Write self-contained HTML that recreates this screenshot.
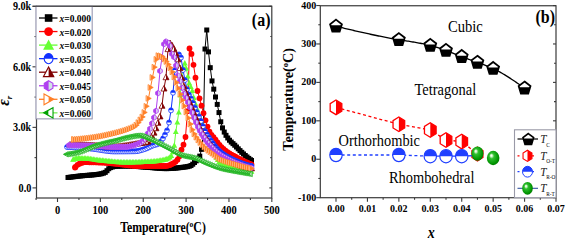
<!DOCTYPE html><html><head><meta charset="utf-8"><style>html,body{margin:0;padding:0;width:567px;height:240px;overflow:hidden;background:#fff}</style></head><body><svg width="567" height="240" viewBox="0 0 567 240" style="position:absolute;left:0;top:0">
<rect width="567" height="240" fill="#fff"/>
<polyline points="68.00,177.50 68.50,177.43 70.25,177.20 72.00,176.97 73.75,176.75 75.50,176.53 77.25,176.32 79.00,176.11 80.75,175.92 82.50,175.74 84.25,175.59 86.00,175.45 87.75,175.31 89.50,175.18 91.25,175.03 93.00,174.88 94.75,174.70 96.50,174.50 98.25,174.27 100.00,174.00 101.75,173.64 103.50,173.11 105.25,172.37 107.00,170.71 108.75,168.71 110.50,167.60 112.25,167.00 114.00,166.56 115.75,166.32 117.50,166.22 119.25,166.14 121.00,166.08 122.75,166.03 124.50,166.01 126.25,166.00 128.00,166.02 129.75,166.07 131.50,166.14 133.25,166.23 135.00,166.34 136.75,166.46 138.50,166.59 140.25,166.73 142.00,166.88 143.75,167.02 145.50,167.17 147.25,167.30 149.00,167.43 150.75,167.55 152.50,167.69 154.25,167.84 156.00,168.00 157.75,168.16 159.50,168.31 161.25,168.43 163.00,168.53 164.75,168.59 166.50,168.60 168.25,168.57 170.00,168.50 171.75,168.41 173.50,168.28 175.25,168.13 177.00,167.96 178.75,167.77 180.50,167.56 182.25,167.35 184.00,167.13 185.75,166.90 187.50,166.62 189.25,166.22 191.00,165.54 192.75,164.19 194.50,162.50 196.25,160.83 198.00,158.99 199.75,156.14 201.50,149.35 203.25,134.23 205.00,49.03 206.75,30.00 208.50,51.87 210.25,67.67 212.00,80.94 213.75,89.16 215.50,97.00 217.25,104.40 219.00,112.57 220.75,121.78 222.50,127.89 224.25,132.06 226.00,135.33 227.75,137.98 229.50,140.23 231.25,142.05 233.00,143.64 234.75,145.25 236.50,147.02 238.25,148.83 240.00,150.61 241.75,152.34 243.50,153.95 245.25,155.49 247.00,156.98 248.75,158.40 250.50,159.76 251.50,160.50" fill="none" stroke="#000000" stroke-width="1.0"/>
<rect x="65.50" y="175.00" width="5.00" height="5.00" fill="#000000"/><rect x="66.00" y="174.93" width="5.00" height="5.00" fill="#000000"/><rect x="67.75" y="174.70" width="5.00" height="5.00" fill="#000000"/><rect x="69.50" y="174.47" width="5.00" height="5.00" fill="#000000"/><rect x="71.25" y="174.25" width="5.00" height="5.00" fill="#000000"/><rect x="73.00" y="174.03" width="5.00" height="5.00" fill="#000000"/><rect x="74.75" y="173.82" width="5.00" height="5.00" fill="#000000"/><rect x="76.50" y="173.61" width="5.00" height="5.00" fill="#000000"/><rect x="78.25" y="173.42" width="5.00" height="5.00" fill="#000000"/><rect x="80.00" y="173.24" width="5.00" height="5.00" fill="#000000"/><rect x="81.75" y="173.09" width="5.00" height="5.00" fill="#000000"/><rect x="83.50" y="172.95" width="5.00" height="5.00" fill="#000000"/><rect x="85.25" y="172.81" width="5.00" height="5.00" fill="#000000"/><rect x="87.00" y="172.68" width="5.00" height="5.00" fill="#000000"/><rect x="88.75" y="172.53" width="5.00" height="5.00" fill="#000000"/><rect x="90.50" y="172.38" width="5.00" height="5.00" fill="#000000"/><rect x="92.25" y="172.20" width="5.00" height="5.00" fill="#000000"/><rect x="94.00" y="172.00" width="5.00" height="5.00" fill="#000000"/><rect x="95.75" y="171.77" width="5.00" height="5.00" fill="#000000"/><rect x="97.50" y="171.50" width="5.00" height="5.00" fill="#000000"/><rect x="99.25" y="171.14" width="5.00" height="5.00" fill="#000000"/><rect x="101.00" y="170.61" width="5.00" height="5.00" fill="#000000"/><rect x="102.75" y="169.87" width="5.00" height="5.00" fill="#000000"/><rect x="104.50" y="168.21" width="5.00" height="5.00" fill="#000000"/><rect x="106.25" y="166.21" width="5.00" height="5.00" fill="#000000"/><rect x="108.00" y="165.10" width="5.00" height="5.00" fill="#000000"/><rect x="109.75" y="164.50" width="5.00" height="5.00" fill="#000000"/><rect x="111.50" y="164.06" width="5.00" height="5.00" fill="#000000"/><rect x="113.25" y="163.82" width="5.00" height="5.00" fill="#000000"/><rect x="115.00" y="163.72" width="5.00" height="5.00" fill="#000000"/><rect x="116.75" y="163.64" width="5.00" height="5.00" fill="#000000"/><rect x="118.50" y="163.58" width="5.00" height="5.00" fill="#000000"/><rect x="120.25" y="163.53" width="5.00" height="5.00" fill="#000000"/><rect x="122.00" y="163.51" width="5.00" height="5.00" fill="#000000"/><rect x="123.75" y="163.50" width="5.00" height="5.00" fill="#000000"/><rect x="125.50" y="163.52" width="5.00" height="5.00" fill="#000000"/><rect x="127.25" y="163.57" width="5.00" height="5.00" fill="#000000"/><rect x="129.00" y="163.64" width="5.00" height="5.00" fill="#000000"/><rect x="130.75" y="163.73" width="5.00" height="5.00" fill="#000000"/><rect x="132.50" y="163.84" width="5.00" height="5.00" fill="#000000"/><rect x="134.25" y="163.96" width="5.00" height="5.00" fill="#000000"/><rect x="136.00" y="164.09" width="5.00" height="5.00" fill="#000000"/><rect x="137.75" y="164.23" width="5.00" height="5.00" fill="#000000"/><rect x="139.50" y="164.38" width="5.00" height="5.00" fill="#000000"/><rect x="141.25" y="164.52" width="5.00" height="5.00" fill="#000000"/><rect x="143.00" y="164.67" width="5.00" height="5.00" fill="#000000"/><rect x="144.75" y="164.80" width="5.00" height="5.00" fill="#000000"/><rect x="146.50" y="164.93" width="5.00" height="5.00" fill="#000000"/><rect x="148.25" y="165.05" width="5.00" height="5.00" fill="#000000"/><rect x="150.00" y="165.19" width="5.00" height="5.00" fill="#000000"/><rect x="151.75" y="165.34" width="5.00" height="5.00" fill="#000000"/><rect x="153.50" y="165.50" width="5.00" height="5.00" fill="#000000"/><rect x="155.25" y="165.66" width="5.00" height="5.00" fill="#000000"/><rect x="157.00" y="165.81" width="5.00" height="5.00" fill="#000000"/><rect x="158.75" y="165.93" width="5.00" height="5.00" fill="#000000"/><rect x="160.50" y="166.03" width="5.00" height="5.00" fill="#000000"/><rect x="162.25" y="166.09" width="5.00" height="5.00" fill="#000000"/><rect x="164.00" y="166.10" width="5.00" height="5.00" fill="#000000"/><rect x="165.75" y="166.07" width="5.00" height="5.00" fill="#000000"/><rect x="167.50" y="166.00" width="5.00" height="5.00" fill="#000000"/><rect x="169.25" y="165.91" width="5.00" height="5.00" fill="#000000"/><rect x="171.00" y="165.78" width="5.00" height="5.00" fill="#000000"/><rect x="172.75" y="165.63" width="5.00" height="5.00" fill="#000000"/><rect x="174.50" y="165.46" width="5.00" height="5.00" fill="#000000"/><rect x="176.25" y="165.27" width="5.00" height="5.00" fill="#000000"/><rect x="178.00" y="165.06" width="5.00" height="5.00" fill="#000000"/><rect x="179.75" y="164.85" width="5.00" height="5.00" fill="#000000"/><rect x="181.50" y="164.63" width="5.00" height="5.00" fill="#000000"/><rect x="183.25" y="164.40" width="5.00" height="5.00" fill="#000000"/><rect x="185.00" y="164.12" width="5.00" height="5.00" fill="#000000"/><rect x="186.75" y="163.72" width="5.00" height="5.00" fill="#000000"/><rect x="188.50" y="163.04" width="5.00" height="5.00" fill="#000000"/><rect x="190.25" y="161.69" width="5.00" height="5.00" fill="#000000"/><rect x="192.00" y="160.00" width="5.00" height="5.00" fill="#000000"/><rect x="193.75" y="158.33" width="5.00" height="5.00" fill="#000000"/><rect x="195.50" y="156.49" width="5.00" height="5.00" fill="#000000"/><rect x="197.25" y="153.64" width="5.00" height="5.00" fill="#000000"/><rect x="199.00" y="146.85" width="5.00" height="5.00" fill="#000000"/><rect x="200.75" y="131.73" width="5.00" height="5.00" fill="#000000"/><rect x="202.50" y="46.53" width="5.00" height="5.00" fill="#000000"/><rect x="204.25" y="27.50" width="5.00" height="5.00" fill="#000000"/><rect x="206.00" y="49.37" width="5.00" height="5.00" fill="#000000"/><rect x="207.75" y="65.17" width="5.00" height="5.00" fill="#000000"/><rect x="209.50" y="78.44" width="5.00" height="5.00" fill="#000000"/><rect x="211.25" y="86.66" width="5.00" height="5.00" fill="#000000"/><rect x="213.00" y="94.50" width="5.00" height="5.00" fill="#000000"/><rect x="214.75" y="101.90" width="5.00" height="5.00" fill="#000000"/><rect x="216.50" y="110.07" width="5.00" height="5.00" fill="#000000"/><rect x="218.25" y="119.28" width="5.00" height="5.00" fill="#000000"/><rect x="220.00" y="125.39" width="5.00" height="5.00" fill="#000000"/><rect x="221.75" y="129.56" width="5.00" height="5.00" fill="#000000"/><rect x="223.50" y="132.83" width="5.00" height="5.00" fill="#000000"/><rect x="225.25" y="135.48" width="5.00" height="5.00" fill="#000000"/><rect x="227.00" y="137.73" width="5.00" height="5.00" fill="#000000"/><rect x="228.75" y="139.55" width="5.00" height="5.00" fill="#000000"/><rect x="230.50" y="141.14" width="5.00" height="5.00" fill="#000000"/><rect x="232.25" y="142.75" width="5.00" height="5.00" fill="#000000"/><rect x="234.00" y="144.52" width="5.00" height="5.00" fill="#000000"/><rect x="235.75" y="146.33" width="5.00" height="5.00" fill="#000000"/><rect x="237.50" y="148.11" width="5.00" height="5.00" fill="#000000"/><rect x="239.25" y="149.84" width="5.00" height="5.00" fill="#000000"/><rect x="241.00" y="151.45" width="5.00" height="5.00" fill="#000000"/><rect x="242.75" y="152.99" width="5.00" height="5.00" fill="#000000"/><rect x="244.50" y="154.48" width="5.00" height="5.00" fill="#000000"/><rect x="246.25" y="155.90" width="5.00" height="5.00" fill="#000000"/><rect x="248.00" y="157.26" width="5.00" height="5.00" fill="#000000"/><rect x="249.00" y="158.00" width="5.00" height="5.00" fill="#000000"/>
<polyline points="75.00,167.50 75.50,166.90 77.50,164.82 79.50,163.74 81.50,162.89 83.50,162.34 85.50,162.20 87.50,162.21 89.50,162.23 91.50,162.27 93.50,162.31 95.50,162.36 97.50,162.42 99.50,162.48 101.50,162.56 103.50,162.68 105.50,162.83 107.50,163.00 109.50,163.19 111.50,163.37 113.50,163.54 115.50,163.74 117.50,163.96 119.50,164.20 121.50,164.45 123.50,164.71 125.50,164.96 127.50,165.20 129.50,165.43 131.50,165.63 133.50,165.79 135.50,165.91 137.50,165.98 139.50,166.00 141.50,166.00 143.50,166.00 145.50,166.00 147.50,166.00 149.50,166.00 151.50,166.00 153.50,166.00 155.50,166.00 157.50,166.00 159.50,166.00 161.50,166.00 163.50,166.00 165.50,166.00 167.50,165.82 169.50,165.14 171.50,164.23 173.50,163.23 175.50,161.82 177.50,159.69 179.50,156.13 181.50,149.67 183.50,144.73 185.50,137.00 187.50,111.17 189.50,48.50 191.50,53.88 193.50,64.81 195.50,77.65 197.50,91.00 199.50,98.28 201.50,105.70 203.50,113.22 205.50,120.34 207.50,126.61 209.50,131.70 211.50,134.78 213.50,137.17 215.50,139.67 217.50,142.41 219.50,144.95 221.50,147.04 223.50,148.93 225.50,150.63 227.50,152.15 229.50,153.48 231.50,154.64 233.50,155.71 235.50,156.76 237.50,157.81 239.50,158.84 241.50,159.85 243.50,160.84 245.50,161.80 247.50,162.73 249.50,163.63 251.50,164.50" fill="none" stroke="#ff0000" stroke-width="1.0"/>
<circle cx="75.00" cy="167.50" r="2.90" fill="#ff0000"/><circle cx="75.50" cy="166.90" r="2.90" fill="#ff0000"/><circle cx="77.50" cy="164.82" r="2.90" fill="#ff0000"/><circle cx="79.50" cy="163.74" r="2.90" fill="#ff0000"/><circle cx="81.50" cy="162.89" r="2.90" fill="#ff0000"/><circle cx="83.50" cy="162.34" r="2.90" fill="#ff0000"/><circle cx="85.50" cy="162.20" r="2.90" fill="#ff0000"/><circle cx="87.50" cy="162.21" r="2.90" fill="#ff0000"/><circle cx="89.50" cy="162.23" r="2.90" fill="#ff0000"/><circle cx="91.50" cy="162.27" r="2.90" fill="#ff0000"/><circle cx="93.50" cy="162.31" r="2.90" fill="#ff0000"/><circle cx="95.50" cy="162.36" r="2.90" fill="#ff0000"/><circle cx="97.50" cy="162.42" r="2.90" fill="#ff0000"/><circle cx="99.50" cy="162.48" r="2.90" fill="#ff0000"/><circle cx="101.50" cy="162.56" r="2.90" fill="#ff0000"/><circle cx="103.50" cy="162.68" r="2.90" fill="#ff0000"/><circle cx="105.50" cy="162.83" r="2.90" fill="#ff0000"/><circle cx="107.50" cy="163.00" r="2.90" fill="#ff0000"/><circle cx="109.50" cy="163.19" r="2.90" fill="#ff0000"/><circle cx="111.50" cy="163.37" r="2.90" fill="#ff0000"/><circle cx="113.50" cy="163.54" r="2.90" fill="#ff0000"/><circle cx="115.50" cy="163.74" r="2.90" fill="#ff0000"/><circle cx="117.50" cy="163.96" r="2.90" fill="#ff0000"/><circle cx="119.50" cy="164.20" r="2.90" fill="#ff0000"/><circle cx="121.50" cy="164.45" r="2.90" fill="#ff0000"/><circle cx="123.50" cy="164.71" r="2.90" fill="#ff0000"/><circle cx="125.50" cy="164.96" r="2.90" fill="#ff0000"/><circle cx="127.50" cy="165.20" r="2.90" fill="#ff0000"/><circle cx="129.50" cy="165.43" r="2.90" fill="#ff0000"/><circle cx="131.50" cy="165.63" r="2.90" fill="#ff0000"/><circle cx="133.50" cy="165.79" r="2.90" fill="#ff0000"/><circle cx="135.50" cy="165.91" r="2.90" fill="#ff0000"/><circle cx="137.50" cy="165.98" r="2.90" fill="#ff0000"/><circle cx="139.50" cy="166.00" r="2.90" fill="#ff0000"/><circle cx="141.50" cy="166.00" r="2.90" fill="#ff0000"/><circle cx="143.50" cy="166.00" r="2.90" fill="#ff0000"/><circle cx="145.50" cy="166.00" r="2.90" fill="#ff0000"/><circle cx="147.50" cy="166.00" r="2.90" fill="#ff0000"/><circle cx="149.50" cy="166.00" r="2.90" fill="#ff0000"/><circle cx="151.50" cy="166.00" r="2.90" fill="#ff0000"/><circle cx="153.50" cy="166.00" r="2.90" fill="#ff0000"/><circle cx="155.50" cy="166.00" r="2.90" fill="#ff0000"/><circle cx="157.50" cy="166.00" r="2.90" fill="#ff0000"/><circle cx="159.50" cy="166.00" r="2.90" fill="#ff0000"/><circle cx="161.50" cy="166.00" r="2.90" fill="#ff0000"/><circle cx="163.50" cy="166.00" r="2.90" fill="#ff0000"/><circle cx="165.50" cy="166.00" r="2.90" fill="#ff0000"/><circle cx="167.50" cy="165.82" r="2.90" fill="#ff0000"/><circle cx="169.50" cy="165.14" r="2.90" fill="#ff0000"/><circle cx="171.50" cy="164.23" r="2.90" fill="#ff0000"/><circle cx="173.50" cy="163.23" r="2.90" fill="#ff0000"/><circle cx="175.50" cy="161.82" r="2.90" fill="#ff0000"/><circle cx="177.50" cy="159.69" r="2.90" fill="#ff0000"/><circle cx="179.50" cy="156.13" r="2.90" fill="#ff0000"/><circle cx="181.50" cy="149.67" r="2.90" fill="#ff0000"/><circle cx="183.50" cy="144.73" r="2.90" fill="#ff0000"/><circle cx="185.50" cy="137.00" r="2.90" fill="#ff0000"/><circle cx="187.50" cy="111.17" r="2.90" fill="#ff0000"/><circle cx="189.50" cy="48.50" r="2.90" fill="#ff0000"/><circle cx="191.50" cy="53.88" r="2.90" fill="#ff0000"/><circle cx="193.50" cy="64.81" r="2.90" fill="#ff0000"/><circle cx="195.50" cy="77.65" r="2.90" fill="#ff0000"/><circle cx="197.50" cy="91.00" r="2.90" fill="#ff0000"/><circle cx="199.50" cy="98.28" r="2.90" fill="#ff0000"/><circle cx="201.50" cy="105.70" r="2.90" fill="#ff0000"/><circle cx="203.50" cy="113.22" r="2.90" fill="#ff0000"/><circle cx="205.50" cy="120.34" r="2.90" fill="#ff0000"/><circle cx="207.50" cy="126.61" r="2.90" fill="#ff0000"/><circle cx="209.50" cy="131.70" r="2.90" fill="#ff0000"/><circle cx="211.50" cy="134.78" r="2.90" fill="#ff0000"/><circle cx="213.50" cy="137.17" r="2.90" fill="#ff0000"/><circle cx="215.50" cy="139.67" r="2.90" fill="#ff0000"/><circle cx="217.50" cy="142.41" r="2.90" fill="#ff0000"/><circle cx="219.50" cy="144.95" r="2.90" fill="#ff0000"/><circle cx="221.50" cy="147.04" r="2.90" fill="#ff0000"/><circle cx="223.50" cy="148.93" r="2.90" fill="#ff0000"/><circle cx="225.50" cy="150.63" r="2.90" fill="#ff0000"/><circle cx="227.50" cy="152.15" r="2.90" fill="#ff0000"/><circle cx="229.50" cy="153.48" r="2.90" fill="#ff0000"/><circle cx="231.50" cy="154.64" r="2.90" fill="#ff0000"/><circle cx="233.50" cy="155.71" r="2.90" fill="#ff0000"/><circle cx="235.50" cy="156.76" r="2.90" fill="#ff0000"/><circle cx="237.50" cy="157.81" r="2.90" fill="#ff0000"/><circle cx="239.50" cy="158.84" r="2.90" fill="#ff0000"/><circle cx="241.50" cy="159.85" r="2.90" fill="#ff0000"/><circle cx="243.50" cy="160.84" r="2.90" fill="#ff0000"/><circle cx="245.50" cy="161.80" r="2.90" fill="#ff0000"/><circle cx="247.50" cy="162.73" r="2.90" fill="#ff0000"/><circle cx="249.50" cy="163.63" r="2.90" fill="#ff0000"/><circle cx="251.50" cy="164.50" r="2.90" fill="#ff0000"/>
<polyline points="73.00,159.30 73.80,159.00 75.30,158.48 76.80,158.11 78.30,158.00 79.80,158.02 81.30,158.06 82.80,158.12 84.30,158.19 85.80,158.26 87.30,158.35 88.80,158.48 90.30,158.66 91.80,158.86 93.30,159.08 94.80,159.31 96.30,159.53 97.80,159.74 99.30,159.93 100.80,160.08 102.30,160.23 103.80,160.39 105.30,160.54 106.80,160.70 108.30,160.86 109.80,161.01 111.30,161.16 112.80,161.30 114.30,161.43 115.80,161.56 117.30,161.67 118.80,161.77 120.30,161.85 121.80,161.92 123.30,161.96 124.80,161.99 126.30,162.00 127.80,162.00 129.30,161.98 130.80,161.97 132.30,161.94 133.80,161.91 135.30,161.88 136.80,161.84 138.30,161.79 139.80,161.74 141.30,161.69 142.80,161.63 144.30,161.57 145.80,161.50 147.30,161.43 148.80,161.36 150.30,161.28 151.80,161.19 153.30,161.08 154.80,160.95 156.30,160.78 157.80,160.60 159.30,160.38 160.80,160.13 162.30,159.85 163.80,159.53 165.30,159.18 166.80,158.76 168.30,158.11 169.80,157.11 171.30,155.61 172.80,151.84 174.30,145.25 175.80,131.58 177.30,122.04 178.80,112.07 180.30,94.67 181.80,76.54 183.30,67.21 184.80,63.00 186.30,68.38 187.80,76.15 189.30,82.97 190.80,86.58 192.30,90.55 193.80,97.50 195.30,103.23 196.80,108.23 198.30,112.82 199.80,117.16 201.30,121.40 202.80,125.36 204.30,129.19 205.80,133.13 207.30,137.23 208.80,141.18 210.30,144.65 211.80,147.98 213.30,151.28 214.80,154.42 216.30,157.25 217.80,159.63 219.30,161.41 220.80,162.55 222.30,163.46 223.80,164.23 225.30,164.88 226.80,165.45 228.30,165.96 229.80,166.44 231.30,166.90 232.80,167.36 234.30,167.81 235.80,168.24 237.30,168.66 238.80,169.06 240.30,169.44 241.80,169.80 243.30,170.13 244.80,170.42 246.30,170.69 247.80,170.91 249.30,171.10 250.80,171.25 251.50,171.30" fill="none" stroke="#66ff33" stroke-width="1.0"/>
<path d="M73.00,156.40L75.90,161.77L70.10,161.77Z" fill="#66ff33"/><path d="M73.80,156.10L76.70,161.47L70.90,161.47Z" fill="#66ff33"/><path d="M75.30,155.58L78.20,160.95L72.40,160.95Z" fill="#66ff33"/><path d="M76.80,155.21L79.70,160.57L73.90,160.57Z" fill="#66ff33"/><path d="M78.30,155.10L81.20,160.47L75.40,160.47Z" fill="#66ff33"/><path d="M79.80,155.12L82.70,160.48L76.90,160.48Z" fill="#66ff33"/><path d="M81.30,155.16L84.20,160.52L78.40,160.52Z" fill="#66ff33"/><path d="M82.80,155.22L85.70,160.58L79.90,160.58Z" fill="#66ff33"/><path d="M84.30,155.29L87.20,160.65L81.40,160.65Z" fill="#66ff33"/><path d="M85.80,155.36L88.70,160.73L82.90,160.73Z" fill="#66ff33"/><path d="M87.30,155.45L90.20,160.82L84.40,160.82Z" fill="#66ff33"/><path d="M88.80,155.58L91.70,160.95L85.90,160.95Z" fill="#66ff33"/><path d="M90.30,155.76L93.20,161.12L87.40,161.12Z" fill="#66ff33"/><path d="M91.80,155.96L94.70,161.32L88.90,161.32Z" fill="#66ff33"/><path d="M93.30,156.18L96.20,161.55L90.40,161.55Z" fill="#66ff33"/><path d="M94.80,156.41L97.70,161.78L91.90,161.78Z" fill="#66ff33"/><path d="M96.30,156.63L99.20,162.00L93.40,162.00Z" fill="#66ff33"/><path d="M97.80,156.84L100.70,162.21L94.90,162.21Z" fill="#66ff33"/><path d="M99.30,157.03L102.20,162.39L96.40,162.39Z" fill="#66ff33"/><path d="M100.80,157.18L103.70,162.54L97.90,162.54Z" fill="#66ff33"/><path d="M102.30,157.33L105.20,162.70L99.40,162.70Z" fill="#66ff33"/><path d="M103.80,157.49L106.70,162.85L100.90,162.85Z" fill="#66ff33"/><path d="M105.30,157.64L108.20,163.01L102.40,163.01Z" fill="#66ff33"/><path d="M106.80,157.80L109.70,163.17L103.90,163.17Z" fill="#66ff33"/><path d="M108.30,157.96L111.20,163.32L105.40,163.32Z" fill="#66ff33"/><path d="M109.80,158.11L112.70,163.48L106.90,163.48Z" fill="#66ff33"/><path d="M111.30,158.26L114.20,163.62L108.40,163.62Z" fill="#66ff33"/><path d="M112.80,158.40L115.70,163.77L109.90,163.77Z" fill="#66ff33"/><path d="M114.30,158.53L117.20,163.90L111.40,163.90Z" fill="#66ff33"/><path d="M115.80,158.66L118.70,164.02L112.90,164.02Z" fill="#66ff33"/><path d="M117.30,158.77L120.20,164.13L114.40,164.13Z" fill="#66ff33"/><path d="M118.80,158.87L121.70,164.23L115.90,164.23Z" fill="#66ff33"/><path d="M120.30,158.95L123.20,164.31L117.40,164.31Z" fill="#66ff33"/><path d="M121.80,159.02L124.70,164.38L118.90,164.38Z" fill="#66ff33"/><path d="M123.30,159.06L126.20,164.43L120.40,164.43Z" fill="#66ff33"/><path d="M124.80,159.09L127.70,164.46L121.90,164.46Z" fill="#66ff33"/><path d="M126.30,159.10L129.20,164.46L123.40,164.46Z" fill="#66ff33"/><path d="M127.80,159.10L130.70,164.46L124.90,164.46Z" fill="#66ff33"/><path d="M129.30,159.08L132.20,164.45L126.40,164.45Z" fill="#66ff33"/><path d="M130.80,159.07L133.70,164.43L127.90,164.43Z" fill="#66ff33"/><path d="M132.30,159.04L135.20,164.41L129.40,164.41Z" fill="#66ff33"/><path d="M133.80,159.01L136.70,164.38L130.90,164.38Z" fill="#66ff33"/><path d="M135.30,158.98L138.20,164.34L132.40,164.34Z" fill="#66ff33"/><path d="M136.80,158.94L139.70,164.30L133.90,164.30Z" fill="#66ff33"/><path d="M138.30,158.89L141.20,164.26L135.40,164.26Z" fill="#66ff33"/><path d="M139.80,158.84L142.70,164.21L136.90,164.21Z" fill="#66ff33"/><path d="M141.30,158.79L144.20,164.15L138.40,164.15Z" fill="#66ff33"/><path d="M142.80,158.73L145.70,164.10L139.90,164.10Z" fill="#66ff33"/><path d="M144.30,158.67L147.20,164.03L141.40,164.03Z" fill="#66ff33"/><path d="M145.80,158.60L148.70,163.97L142.90,163.97Z" fill="#66ff33"/><path d="M147.30,158.53L150.20,163.90L144.40,163.90Z" fill="#66ff33"/><path d="M148.80,158.46L151.70,163.83L145.90,163.83Z" fill="#66ff33"/><path d="M150.30,158.38L153.20,163.75L147.40,163.75Z" fill="#66ff33"/><path d="M151.80,158.29L154.70,163.66L148.90,163.66Z" fill="#66ff33"/><path d="M153.30,158.18L156.20,163.55L150.40,163.55Z" fill="#66ff33"/><path d="M154.80,158.05L157.70,163.41L151.90,163.41Z" fill="#66ff33"/><path d="M156.30,157.88L159.20,163.25L153.40,163.25Z" fill="#66ff33"/><path d="M157.80,157.70L160.70,163.06L154.90,163.06Z" fill="#66ff33"/><path d="M159.30,157.48L162.20,162.84L156.40,162.84Z" fill="#66ff33"/><path d="M160.80,157.23L163.70,162.59L157.90,162.59Z" fill="#66ff33"/><path d="M162.30,156.95L165.20,162.31L159.40,162.31Z" fill="#66ff33"/><path d="M163.80,156.63L166.70,162.00L160.90,162.00Z" fill="#66ff33"/><path d="M165.30,156.28L168.20,161.64L162.40,161.64Z" fill="#66ff33"/><path d="M166.80,155.86L169.70,161.23L163.90,161.23Z" fill="#66ff33"/><path d="M168.30,155.21L171.20,160.58L165.40,160.58Z" fill="#66ff33"/><path d="M169.80,154.21L172.70,159.58L166.90,159.58Z" fill="#66ff33"/><path d="M171.30,152.71L174.20,158.08L168.40,158.08Z" fill="#66ff33"/><path d="M172.80,148.94L175.70,154.31L169.90,154.31Z" fill="#66ff33"/><path d="M174.30,142.35L177.20,147.72L171.40,147.72Z" fill="#66ff33"/><path d="M175.80,128.68L178.70,134.05L172.90,134.05Z" fill="#66ff33"/><path d="M177.30,119.14L180.20,124.50L174.40,124.50Z" fill="#66ff33"/><path d="M178.80,109.17L181.70,114.54L175.90,114.54Z" fill="#66ff33"/><path d="M180.30,91.77L183.20,97.14L177.40,97.14Z" fill="#66ff33"/><path d="M181.80,73.64L184.70,79.01L178.90,79.01Z" fill="#66ff33"/><path d="M183.30,64.31L186.20,69.67L180.40,69.67Z" fill="#66ff33"/><path d="M184.80,60.10L187.70,65.47L181.90,65.47Z" fill="#66ff33"/><path d="M186.30,65.48L189.20,70.84L183.40,70.84Z" fill="#66ff33"/><path d="M187.80,73.25L190.70,78.62L184.90,78.62Z" fill="#66ff33"/><path d="M189.30,80.07L192.20,85.44L186.40,85.44Z" fill="#66ff33"/><path d="M190.80,83.68L193.70,89.05L187.90,89.05Z" fill="#66ff33"/><path d="M192.30,87.65L195.20,93.01L189.40,93.01Z" fill="#66ff33"/><path d="M193.80,94.60L196.70,99.96L190.90,99.96Z" fill="#66ff33"/><path d="M195.30,100.33L198.20,105.70L192.40,105.70Z" fill="#66ff33"/><path d="M196.80,105.33L199.70,110.70L193.90,110.70Z" fill="#66ff33"/><path d="M198.30,109.92L201.20,115.28L195.40,115.28Z" fill="#66ff33"/><path d="M199.80,114.26L202.70,119.62L196.90,119.62Z" fill="#66ff33"/><path d="M201.30,118.50L204.20,123.86L198.40,123.86Z" fill="#66ff33"/><path d="M202.80,122.46L205.70,127.83L199.90,127.83Z" fill="#66ff33"/><path d="M204.30,126.29L207.20,131.66L201.40,131.66Z" fill="#66ff33"/><path d="M205.80,130.23L208.70,135.60L202.90,135.60Z" fill="#66ff33"/><path d="M207.30,134.33L210.20,139.70L204.40,139.70Z" fill="#66ff33"/><path d="M208.80,138.28L211.70,143.64L205.90,143.64Z" fill="#66ff33"/><path d="M210.30,141.75L213.20,147.12L207.40,147.12Z" fill="#66ff33"/><path d="M211.80,145.08L214.70,150.44L208.90,150.44Z" fill="#66ff33"/><path d="M213.30,148.38L216.20,153.74L210.40,153.74Z" fill="#66ff33"/><path d="M214.80,151.52L217.70,156.88L211.90,156.88Z" fill="#66ff33"/><path d="M216.30,154.35L219.20,159.71L213.40,159.71Z" fill="#66ff33"/><path d="M217.80,156.73L220.70,162.09L214.90,162.09Z" fill="#66ff33"/><path d="M219.30,158.51L222.20,163.88L216.40,163.88Z" fill="#66ff33"/><path d="M220.80,159.65L223.70,165.02L217.90,165.02Z" fill="#66ff33"/><path d="M222.30,160.56L225.20,165.92L219.40,165.92Z" fill="#66ff33"/><path d="M223.80,161.33L226.70,166.69L220.90,166.69Z" fill="#66ff33"/><path d="M225.30,161.98L228.20,167.35L222.40,167.35Z" fill="#66ff33"/><path d="M226.80,162.55L229.70,167.92L223.90,167.92Z" fill="#66ff33"/><path d="M228.30,163.06L231.20,168.43L225.40,168.43Z" fill="#66ff33"/><path d="M229.80,163.54L232.70,168.90L226.90,168.90Z" fill="#66ff33"/><path d="M231.30,164.00L234.20,169.37L228.40,169.37Z" fill="#66ff33"/><path d="M232.80,164.46L235.70,169.83L229.90,169.83Z" fill="#66ff33"/><path d="M234.30,164.91L237.20,170.27L231.40,170.27Z" fill="#66ff33"/><path d="M235.80,165.34L238.70,170.71L232.90,170.71Z" fill="#66ff33"/><path d="M237.30,165.76L240.20,171.13L234.40,171.13Z" fill="#66ff33"/><path d="M238.80,166.16L241.70,171.53L235.90,171.53Z" fill="#66ff33"/><path d="M240.30,166.54L243.20,171.91L237.40,171.91Z" fill="#66ff33"/><path d="M241.80,166.90L244.70,172.26L238.90,172.26Z" fill="#66ff33"/><path d="M243.30,167.23L246.20,172.59L240.40,172.59Z" fill="#66ff33"/><path d="M244.80,167.52L247.70,172.89L241.90,172.89Z" fill="#66ff33"/><path d="M246.30,167.79L249.20,173.15L243.40,173.15Z" fill="#66ff33"/><path d="M247.80,168.01L250.70,173.38L244.90,173.38Z" fill="#66ff33"/><path d="M249.30,168.20L252.20,173.57L246.40,173.57Z" fill="#66ff33"/><path d="M250.80,168.35L253.70,173.71L247.90,173.71Z" fill="#66ff33"/><path d="M251.50,168.40L254.40,173.77L248.60,173.77Z" fill="#66ff33"/>
<polyline points="67.00,147.00 69.00,147.08 71.00,147.18 73.00,147.28 75.00,147.40 77.00,147.52 79.00,147.65 81.00,147.79 83.00,147.94 85.00,148.09 87.00,148.25 89.00,148.42 91.00,148.59 93.00,148.81 95.00,149.08 97.00,149.38 99.00,149.70 101.00,150.02 103.00,150.34 105.00,150.65 107.00,150.92 109.00,151.16 111.00,151.34 113.00,151.46 115.00,151.50 117.00,151.50 119.00,151.49 121.00,151.48 123.00,151.47 125.00,151.45 127.00,151.43 129.00,151.41 131.00,151.38 133.00,151.34 135.00,151.30 137.00,151.13 139.00,150.75 141.00,150.23 143.00,149.62 145.00,149.00 147.00,148.25 149.00,147.32 151.00,146.36 153.00,145.50 155.00,144.89 157.00,144.35 159.00,143.50 161.00,141.37 163.00,138.39 165.00,134.69 167.00,130.43 169.00,122.47 171.00,110.37 173.00,92.74 175.00,69.91 177.00,59.12 179.00,54.50 181.00,57.56 183.00,70.00 185.00,80.00 187.00,89.29 189.00,94.63 191.00,98.45 193.00,102.95 195.00,107.69 197.00,112.22 199.00,116.53 201.00,121.00 203.00,126.19 205.00,131.00 207.00,134.52 209.00,137.53 211.00,140.49 213.00,143.37 215.00,146.00 217.00,148.43 219.00,150.60 221.00,152.30 223.00,153.80 225.00,155.17 227.00,156.43 229.00,157.58 231.00,158.63 233.00,159.60 235.00,160.50 237.00,161.35 239.00,162.16 241.00,162.93 243.00,163.65 245.00,164.32 247.00,164.92 249.00,165.45 251.00,165.90 251.50,166.00" fill="none" stroke="#1030ff" stroke-width="1.0"/>
<ellipse cx="67.00" cy="147.00" rx="2.40" ry="2.52" fill="#fff" stroke="#1030ff" stroke-width="0.8"/><path d="M64.60,147.00A2.40,2.52 0 0 1 69.40,147.00Z" fill="#1030ff"/><ellipse cx="69.00" cy="147.08" rx="2.40" ry="2.52" fill="#fff" stroke="#1030ff" stroke-width="0.8"/><path d="M66.60,147.08A2.40,2.52 0 0 1 71.40,147.08Z" fill="#1030ff"/><ellipse cx="71.00" cy="147.18" rx="2.40" ry="2.52" fill="#fff" stroke="#1030ff" stroke-width="0.8"/><path d="M68.60,147.18A2.40,2.52 0 0 1 73.40,147.18Z" fill="#1030ff"/><ellipse cx="73.00" cy="147.28" rx="2.40" ry="2.52" fill="#fff" stroke="#1030ff" stroke-width="0.8"/><path d="M70.60,147.28A2.40,2.52 0 0 1 75.40,147.28Z" fill="#1030ff"/><ellipse cx="75.00" cy="147.40" rx="2.40" ry="2.52" fill="#fff" stroke="#1030ff" stroke-width="0.8"/><path d="M72.60,147.40A2.40,2.52 0 0 1 77.40,147.40Z" fill="#1030ff"/><ellipse cx="77.00" cy="147.52" rx="2.40" ry="2.52" fill="#fff" stroke="#1030ff" stroke-width="0.8"/><path d="M74.60,147.52A2.40,2.52 0 0 1 79.40,147.52Z" fill="#1030ff"/><ellipse cx="79.00" cy="147.65" rx="2.40" ry="2.52" fill="#fff" stroke="#1030ff" stroke-width="0.8"/><path d="M76.60,147.65A2.40,2.52 0 0 1 81.40,147.65Z" fill="#1030ff"/><ellipse cx="81.00" cy="147.79" rx="2.40" ry="2.52" fill="#fff" stroke="#1030ff" stroke-width="0.8"/><path d="M78.60,147.79A2.40,2.52 0 0 1 83.40,147.79Z" fill="#1030ff"/><ellipse cx="83.00" cy="147.94" rx="2.40" ry="2.52" fill="#fff" stroke="#1030ff" stroke-width="0.8"/><path d="M80.60,147.94A2.40,2.52 0 0 1 85.40,147.94Z" fill="#1030ff"/><ellipse cx="85.00" cy="148.09" rx="2.40" ry="2.52" fill="#fff" stroke="#1030ff" stroke-width="0.8"/><path d="M82.60,148.09A2.40,2.52 0 0 1 87.40,148.09Z" fill="#1030ff"/><ellipse cx="87.00" cy="148.25" rx="2.40" ry="2.52" fill="#fff" stroke="#1030ff" stroke-width="0.8"/><path d="M84.60,148.25A2.40,2.52 0 0 1 89.40,148.25Z" fill="#1030ff"/><ellipse cx="89.00" cy="148.42" rx="2.40" ry="2.52" fill="#fff" stroke="#1030ff" stroke-width="0.8"/><path d="M86.60,148.42A2.40,2.52 0 0 1 91.40,148.42Z" fill="#1030ff"/><ellipse cx="91.00" cy="148.59" rx="2.40" ry="2.52" fill="#fff" stroke="#1030ff" stroke-width="0.8"/><path d="M88.60,148.59A2.40,2.52 0 0 1 93.40,148.59Z" fill="#1030ff"/><ellipse cx="93.00" cy="148.81" rx="2.40" ry="2.52" fill="#fff" stroke="#1030ff" stroke-width="0.8"/><path d="M90.60,148.81A2.40,2.52 0 0 1 95.40,148.81Z" fill="#1030ff"/><ellipse cx="95.00" cy="149.08" rx="2.40" ry="2.52" fill="#fff" stroke="#1030ff" stroke-width="0.8"/><path d="M92.60,149.08A2.40,2.52 0 0 1 97.40,149.08Z" fill="#1030ff"/><ellipse cx="97.00" cy="149.38" rx="2.40" ry="2.52" fill="#fff" stroke="#1030ff" stroke-width="0.8"/><path d="M94.60,149.38A2.40,2.52 0 0 1 99.40,149.38Z" fill="#1030ff"/><ellipse cx="99.00" cy="149.70" rx="2.40" ry="2.52" fill="#fff" stroke="#1030ff" stroke-width="0.8"/><path d="M96.60,149.70A2.40,2.52 0 0 1 101.40,149.70Z" fill="#1030ff"/><ellipse cx="101.00" cy="150.02" rx="2.40" ry="2.52" fill="#fff" stroke="#1030ff" stroke-width="0.8"/><path d="M98.60,150.02A2.40,2.52 0 0 1 103.40,150.02Z" fill="#1030ff"/><ellipse cx="103.00" cy="150.34" rx="2.40" ry="2.52" fill="#fff" stroke="#1030ff" stroke-width="0.8"/><path d="M100.60,150.34A2.40,2.52 0 0 1 105.40,150.34Z" fill="#1030ff"/><ellipse cx="105.00" cy="150.65" rx="2.40" ry="2.52" fill="#fff" stroke="#1030ff" stroke-width="0.8"/><path d="M102.60,150.65A2.40,2.52 0 0 1 107.40,150.65Z" fill="#1030ff"/><ellipse cx="107.00" cy="150.92" rx="2.40" ry="2.52" fill="#fff" stroke="#1030ff" stroke-width="0.8"/><path d="M104.60,150.92A2.40,2.52 0 0 1 109.40,150.92Z" fill="#1030ff"/><ellipse cx="109.00" cy="151.16" rx="2.40" ry="2.52" fill="#fff" stroke="#1030ff" stroke-width="0.8"/><path d="M106.60,151.16A2.40,2.52 0 0 1 111.40,151.16Z" fill="#1030ff"/><ellipse cx="111.00" cy="151.34" rx="2.40" ry="2.52" fill="#fff" stroke="#1030ff" stroke-width="0.8"/><path d="M108.60,151.34A2.40,2.52 0 0 1 113.40,151.34Z" fill="#1030ff"/><ellipse cx="113.00" cy="151.46" rx="2.40" ry="2.52" fill="#fff" stroke="#1030ff" stroke-width="0.8"/><path d="M110.60,151.46A2.40,2.52 0 0 1 115.40,151.46Z" fill="#1030ff"/><ellipse cx="115.00" cy="151.50" rx="2.40" ry="2.52" fill="#fff" stroke="#1030ff" stroke-width="0.8"/><path d="M112.60,151.50A2.40,2.52 0 0 1 117.40,151.50Z" fill="#1030ff"/><ellipse cx="117.00" cy="151.50" rx="2.40" ry="2.52" fill="#fff" stroke="#1030ff" stroke-width="0.8"/><path d="M114.60,151.50A2.40,2.52 0 0 1 119.40,151.50Z" fill="#1030ff"/><ellipse cx="119.00" cy="151.49" rx="2.40" ry="2.52" fill="#fff" stroke="#1030ff" stroke-width="0.8"/><path d="M116.60,151.49A2.40,2.52 0 0 1 121.40,151.49Z" fill="#1030ff"/><ellipse cx="121.00" cy="151.48" rx="2.40" ry="2.52" fill="#fff" stroke="#1030ff" stroke-width="0.8"/><path d="M118.60,151.48A2.40,2.52 0 0 1 123.40,151.48Z" fill="#1030ff"/><ellipse cx="123.00" cy="151.47" rx="2.40" ry="2.52" fill="#fff" stroke="#1030ff" stroke-width="0.8"/><path d="M120.60,151.47A2.40,2.52 0 0 1 125.40,151.47Z" fill="#1030ff"/><ellipse cx="125.00" cy="151.45" rx="2.40" ry="2.52" fill="#fff" stroke="#1030ff" stroke-width="0.8"/><path d="M122.60,151.45A2.40,2.52 0 0 1 127.40,151.45Z" fill="#1030ff"/><ellipse cx="127.00" cy="151.43" rx="2.40" ry="2.52" fill="#fff" stroke="#1030ff" stroke-width="0.8"/><path d="M124.60,151.43A2.40,2.52 0 0 1 129.40,151.43Z" fill="#1030ff"/><ellipse cx="129.00" cy="151.41" rx="2.40" ry="2.52" fill="#fff" stroke="#1030ff" stroke-width="0.8"/><path d="M126.60,151.41A2.40,2.52 0 0 1 131.40,151.41Z" fill="#1030ff"/><ellipse cx="131.00" cy="151.38" rx="2.40" ry="2.52" fill="#fff" stroke="#1030ff" stroke-width="0.8"/><path d="M128.60,151.38A2.40,2.52 0 0 1 133.40,151.38Z" fill="#1030ff"/><ellipse cx="133.00" cy="151.34" rx="2.40" ry="2.52" fill="#fff" stroke="#1030ff" stroke-width="0.8"/><path d="M130.60,151.34A2.40,2.52 0 0 1 135.40,151.34Z" fill="#1030ff"/><ellipse cx="135.00" cy="151.30" rx="2.40" ry="2.52" fill="#fff" stroke="#1030ff" stroke-width="0.8"/><path d="M132.60,151.30A2.40,2.52 0 0 1 137.40,151.30Z" fill="#1030ff"/><ellipse cx="137.00" cy="151.13" rx="2.40" ry="2.52" fill="#fff" stroke="#1030ff" stroke-width="0.8"/><path d="M134.60,151.13A2.40,2.52 0 0 1 139.40,151.13Z" fill="#1030ff"/><ellipse cx="139.00" cy="150.75" rx="2.40" ry="2.52" fill="#fff" stroke="#1030ff" stroke-width="0.8"/><path d="M136.60,150.75A2.40,2.52 0 0 1 141.40,150.75Z" fill="#1030ff"/><ellipse cx="141.00" cy="150.23" rx="2.40" ry="2.52" fill="#fff" stroke="#1030ff" stroke-width="0.8"/><path d="M138.60,150.23A2.40,2.52 0 0 1 143.40,150.23Z" fill="#1030ff"/><ellipse cx="143.00" cy="149.62" rx="2.40" ry="2.52" fill="#fff" stroke="#1030ff" stroke-width="0.8"/><path d="M140.60,149.62A2.40,2.52 0 0 1 145.40,149.62Z" fill="#1030ff"/><ellipse cx="145.00" cy="149.00" rx="2.40" ry="2.52" fill="#fff" stroke="#1030ff" stroke-width="0.8"/><path d="M142.60,149.00A2.40,2.52 0 0 1 147.40,149.00Z" fill="#1030ff"/><ellipse cx="147.00" cy="148.25" rx="2.40" ry="2.52" fill="#fff" stroke="#1030ff" stroke-width="0.8"/><path d="M144.60,148.25A2.40,2.52 0 0 1 149.40,148.25Z" fill="#1030ff"/><ellipse cx="149.00" cy="147.32" rx="2.40" ry="2.52" fill="#fff" stroke="#1030ff" stroke-width="0.8"/><path d="M146.60,147.32A2.40,2.52 0 0 1 151.40,147.32Z" fill="#1030ff"/><ellipse cx="151.00" cy="146.36" rx="2.40" ry="2.52" fill="#fff" stroke="#1030ff" stroke-width="0.8"/><path d="M148.60,146.36A2.40,2.52 0 0 1 153.40,146.36Z" fill="#1030ff"/><ellipse cx="153.00" cy="145.50" rx="2.40" ry="2.52" fill="#fff" stroke="#1030ff" stroke-width="0.8"/><path d="M150.60,145.50A2.40,2.52 0 0 1 155.40,145.50Z" fill="#1030ff"/><ellipse cx="155.00" cy="144.89" rx="2.40" ry="2.52" fill="#fff" stroke="#1030ff" stroke-width="0.8"/><path d="M152.60,144.89A2.40,2.52 0 0 1 157.40,144.89Z" fill="#1030ff"/><ellipse cx="157.00" cy="144.35" rx="2.40" ry="2.52" fill="#fff" stroke="#1030ff" stroke-width="0.8"/><path d="M154.60,144.35A2.40,2.52 0 0 1 159.40,144.35Z" fill="#1030ff"/><ellipse cx="159.00" cy="143.50" rx="2.40" ry="2.52" fill="#fff" stroke="#1030ff" stroke-width="0.8"/><path d="M156.60,143.50A2.40,2.52 0 0 1 161.40,143.50Z" fill="#1030ff"/><ellipse cx="161.00" cy="141.37" rx="2.40" ry="2.52" fill="#fff" stroke="#1030ff" stroke-width="0.8"/><path d="M158.60,141.37A2.40,2.52 0 0 1 163.40,141.37Z" fill="#1030ff"/><ellipse cx="163.00" cy="138.39" rx="2.40" ry="2.52" fill="#fff" stroke="#1030ff" stroke-width="0.8"/><path d="M160.60,138.39A2.40,2.52 0 0 1 165.40,138.39Z" fill="#1030ff"/><ellipse cx="165.00" cy="134.69" rx="2.40" ry="2.52" fill="#fff" stroke="#1030ff" stroke-width="0.8"/><path d="M162.60,134.69A2.40,2.52 0 0 1 167.40,134.69Z" fill="#1030ff"/><ellipse cx="167.00" cy="130.43" rx="2.40" ry="2.52" fill="#fff" stroke="#1030ff" stroke-width="0.8"/><path d="M164.60,130.43A2.40,2.52 0 0 1 169.40,130.43Z" fill="#1030ff"/><ellipse cx="169.00" cy="122.47" rx="2.40" ry="2.52" fill="#fff" stroke="#1030ff" stroke-width="0.8"/><path d="M166.60,122.47A2.40,2.52 0 0 1 171.40,122.47Z" fill="#1030ff"/><ellipse cx="171.00" cy="110.37" rx="2.40" ry="2.52" fill="#fff" stroke="#1030ff" stroke-width="0.8"/><path d="M168.60,110.37A2.40,2.52 0 0 1 173.40,110.37Z" fill="#1030ff"/><ellipse cx="173.00" cy="92.74" rx="2.40" ry="2.52" fill="#fff" stroke="#1030ff" stroke-width="0.8"/><path d="M170.60,92.74A2.40,2.52 0 0 1 175.40,92.74Z" fill="#1030ff"/><ellipse cx="175.00" cy="69.91" rx="2.40" ry="2.52" fill="#fff" stroke="#1030ff" stroke-width="0.8"/><path d="M172.60,69.91A2.40,2.52 0 0 1 177.40,69.91Z" fill="#1030ff"/><ellipse cx="177.00" cy="59.12" rx="2.40" ry="2.52" fill="#fff" stroke="#1030ff" stroke-width="0.8"/><path d="M174.60,59.12A2.40,2.52 0 0 1 179.40,59.12Z" fill="#1030ff"/><ellipse cx="179.00" cy="54.50" rx="2.40" ry="2.52" fill="#fff" stroke="#1030ff" stroke-width="0.8"/><path d="M176.60,54.50A2.40,2.52 0 0 1 181.40,54.50Z" fill="#1030ff"/><ellipse cx="181.00" cy="57.56" rx="2.40" ry="2.52" fill="#fff" stroke="#1030ff" stroke-width="0.8"/><path d="M178.60,57.56A2.40,2.52 0 0 1 183.40,57.56Z" fill="#1030ff"/><ellipse cx="183.00" cy="70.00" rx="2.40" ry="2.52" fill="#fff" stroke="#1030ff" stroke-width="0.8"/><path d="M180.60,70.00A2.40,2.52 0 0 1 185.40,70.00Z" fill="#1030ff"/><ellipse cx="185.00" cy="80.00" rx="2.40" ry="2.52" fill="#fff" stroke="#1030ff" stroke-width="0.8"/><path d="M182.60,80.00A2.40,2.52 0 0 1 187.40,80.00Z" fill="#1030ff"/><ellipse cx="187.00" cy="89.29" rx="2.40" ry="2.52" fill="#fff" stroke="#1030ff" stroke-width="0.8"/><path d="M184.60,89.29A2.40,2.52 0 0 1 189.40,89.29Z" fill="#1030ff"/><ellipse cx="189.00" cy="94.63" rx="2.40" ry="2.52" fill="#fff" stroke="#1030ff" stroke-width="0.8"/><path d="M186.60,94.63A2.40,2.52 0 0 1 191.40,94.63Z" fill="#1030ff"/><ellipse cx="191.00" cy="98.45" rx="2.40" ry="2.52" fill="#fff" stroke="#1030ff" stroke-width="0.8"/><path d="M188.60,98.45A2.40,2.52 0 0 1 193.40,98.45Z" fill="#1030ff"/><ellipse cx="193.00" cy="102.95" rx="2.40" ry="2.52" fill="#fff" stroke="#1030ff" stroke-width="0.8"/><path d="M190.60,102.95A2.40,2.52 0 0 1 195.40,102.95Z" fill="#1030ff"/><ellipse cx="195.00" cy="107.69" rx="2.40" ry="2.52" fill="#fff" stroke="#1030ff" stroke-width="0.8"/><path d="M192.60,107.69A2.40,2.52 0 0 1 197.40,107.69Z" fill="#1030ff"/><ellipse cx="197.00" cy="112.22" rx="2.40" ry="2.52" fill="#fff" stroke="#1030ff" stroke-width="0.8"/><path d="M194.60,112.22A2.40,2.52 0 0 1 199.40,112.22Z" fill="#1030ff"/><ellipse cx="199.00" cy="116.53" rx="2.40" ry="2.52" fill="#fff" stroke="#1030ff" stroke-width="0.8"/><path d="M196.60,116.53A2.40,2.52 0 0 1 201.40,116.53Z" fill="#1030ff"/><ellipse cx="201.00" cy="121.00" rx="2.40" ry="2.52" fill="#fff" stroke="#1030ff" stroke-width="0.8"/><path d="M198.60,121.00A2.40,2.52 0 0 1 203.40,121.00Z" fill="#1030ff"/><ellipse cx="203.00" cy="126.19" rx="2.40" ry="2.52" fill="#fff" stroke="#1030ff" stroke-width="0.8"/><path d="M200.60,126.19A2.40,2.52 0 0 1 205.40,126.19Z" fill="#1030ff"/><ellipse cx="205.00" cy="131.00" rx="2.40" ry="2.52" fill="#fff" stroke="#1030ff" stroke-width="0.8"/><path d="M202.60,131.00A2.40,2.52 0 0 1 207.40,131.00Z" fill="#1030ff"/><ellipse cx="207.00" cy="134.52" rx="2.40" ry="2.52" fill="#fff" stroke="#1030ff" stroke-width="0.8"/><path d="M204.60,134.52A2.40,2.52 0 0 1 209.40,134.52Z" fill="#1030ff"/><ellipse cx="209.00" cy="137.53" rx="2.40" ry="2.52" fill="#fff" stroke="#1030ff" stroke-width="0.8"/><path d="M206.60,137.53A2.40,2.52 0 0 1 211.40,137.53Z" fill="#1030ff"/><ellipse cx="211.00" cy="140.49" rx="2.40" ry="2.52" fill="#fff" stroke="#1030ff" stroke-width="0.8"/><path d="M208.60,140.49A2.40,2.52 0 0 1 213.40,140.49Z" fill="#1030ff"/><ellipse cx="213.00" cy="143.37" rx="2.40" ry="2.52" fill="#fff" stroke="#1030ff" stroke-width="0.8"/><path d="M210.60,143.37A2.40,2.52 0 0 1 215.40,143.37Z" fill="#1030ff"/><ellipse cx="215.00" cy="146.00" rx="2.40" ry="2.52" fill="#fff" stroke="#1030ff" stroke-width="0.8"/><path d="M212.60,146.00A2.40,2.52 0 0 1 217.40,146.00Z" fill="#1030ff"/><ellipse cx="217.00" cy="148.43" rx="2.40" ry="2.52" fill="#fff" stroke="#1030ff" stroke-width="0.8"/><path d="M214.60,148.43A2.40,2.52 0 0 1 219.40,148.43Z" fill="#1030ff"/><ellipse cx="219.00" cy="150.60" rx="2.40" ry="2.52" fill="#fff" stroke="#1030ff" stroke-width="0.8"/><path d="M216.60,150.60A2.40,2.52 0 0 1 221.40,150.60Z" fill="#1030ff"/><ellipse cx="221.00" cy="152.30" rx="2.40" ry="2.52" fill="#fff" stroke="#1030ff" stroke-width="0.8"/><path d="M218.60,152.30A2.40,2.52 0 0 1 223.40,152.30Z" fill="#1030ff"/><ellipse cx="223.00" cy="153.80" rx="2.40" ry="2.52" fill="#fff" stroke="#1030ff" stroke-width="0.8"/><path d="M220.60,153.80A2.40,2.52 0 0 1 225.40,153.80Z" fill="#1030ff"/><ellipse cx="225.00" cy="155.17" rx="2.40" ry="2.52" fill="#fff" stroke="#1030ff" stroke-width="0.8"/><path d="M222.60,155.17A2.40,2.52 0 0 1 227.40,155.17Z" fill="#1030ff"/><ellipse cx="227.00" cy="156.43" rx="2.40" ry="2.52" fill="#fff" stroke="#1030ff" stroke-width="0.8"/><path d="M224.60,156.43A2.40,2.52 0 0 1 229.40,156.43Z" fill="#1030ff"/><ellipse cx="229.00" cy="157.58" rx="2.40" ry="2.52" fill="#fff" stroke="#1030ff" stroke-width="0.8"/><path d="M226.60,157.58A2.40,2.52 0 0 1 231.40,157.58Z" fill="#1030ff"/><ellipse cx="231.00" cy="158.63" rx="2.40" ry="2.52" fill="#fff" stroke="#1030ff" stroke-width="0.8"/><path d="M228.60,158.63A2.40,2.52 0 0 1 233.40,158.63Z" fill="#1030ff"/><ellipse cx="233.00" cy="159.60" rx="2.40" ry="2.52" fill="#fff" stroke="#1030ff" stroke-width="0.8"/><path d="M230.60,159.60A2.40,2.52 0 0 1 235.40,159.60Z" fill="#1030ff"/><ellipse cx="235.00" cy="160.50" rx="2.40" ry="2.52" fill="#fff" stroke="#1030ff" stroke-width="0.8"/><path d="M232.60,160.50A2.40,2.52 0 0 1 237.40,160.50Z" fill="#1030ff"/><ellipse cx="237.00" cy="161.35" rx="2.40" ry="2.52" fill="#fff" stroke="#1030ff" stroke-width="0.8"/><path d="M234.60,161.35A2.40,2.52 0 0 1 239.40,161.35Z" fill="#1030ff"/><ellipse cx="239.00" cy="162.16" rx="2.40" ry="2.52" fill="#fff" stroke="#1030ff" stroke-width="0.8"/><path d="M236.60,162.16A2.40,2.52 0 0 1 241.40,162.16Z" fill="#1030ff"/><ellipse cx="241.00" cy="162.93" rx="2.40" ry="2.52" fill="#fff" stroke="#1030ff" stroke-width="0.8"/><path d="M238.60,162.93A2.40,2.52 0 0 1 243.40,162.93Z" fill="#1030ff"/><ellipse cx="243.00" cy="163.65" rx="2.40" ry="2.52" fill="#fff" stroke="#1030ff" stroke-width="0.8"/><path d="M240.60,163.65A2.40,2.52 0 0 1 245.40,163.65Z" fill="#1030ff"/><ellipse cx="245.00" cy="164.32" rx="2.40" ry="2.52" fill="#fff" stroke="#1030ff" stroke-width="0.8"/><path d="M242.60,164.32A2.40,2.52 0 0 1 247.40,164.32Z" fill="#1030ff"/><ellipse cx="247.00" cy="164.92" rx="2.40" ry="2.52" fill="#fff" stroke="#1030ff" stroke-width="0.8"/><path d="M244.60,164.92A2.40,2.52 0 0 1 249.40,164.92Z" fill="#1030ff"/><ellipse cx="249.00" cy="165.45" rx="2.40" ry="2.52" fill="#fff" stroke="#1030ff" stroke-width="0.8"/><path d="M246.60,165.45A2.40,2.52 0 0 1 251.40,165.45Z" fill="#1030ff"/><ellipse cx="251.00" cy="165.90" rx="2.40" ry="2.52" fill="#fff" stroke="#1030ff" stroke-width="0.8"/><path d="M248.60,165.90A2.40,2.52 0 0 1 253.40,165.90Z" fill="#1030ff"/><ellipse cx="251.50" cy="166.00" rx="2.40" ry="2.52" fill="#fff" stroke="#1030ff" stroke-width="0.8"/><path d="M249.10,166.00A2.40,2.52 0 0 1 253.90,166.00Z" fill="#1030ff"/>
<polyline points="70.00,144.50 72.00,144.52 74.00,144.55 76.00,144.58 78.00,144.63 80.00,144.68 82.00,144.73 84.00,144.79 86.00,144.86 88.00,144.93 90.00,145.00 92.00,145.09 94.00,145.22 96.00,145.37 98.00,145.54 100.00,145.72 102.00,145.90 104.00,146.07 106.00,146.22 108.00,146.35 110.00,146.44 112.00,146.49 114.00,146.49 116.00,146.43 118.00,146.30 120.00,146.13 122.00,145.91 124.00,145.65 126.00,145.36 128.00,145.05 130.00,144.71 132.00,144.37 134.00,144.02 136.00,143.67 138.00,143.33 140.00,143.00 142.00,142.72 144.00,142.45 146.00,142.08 148.00,141.50 150.00,139.35 152.00,136.00 154.00,132.59 156.00,128.18 158.00,122.70 160.00,116.36 162.00,105.69 164.00,88.47 166.00,77.16 168.00,49.08 170.00,43.00 172.00,45.24 174.00,48.83 176.00,53.41 178.00,59.30 180.00,68.00 182.00,78.00 184.00,86.27 186.00,92.47 188.00,97.57 190.00,102.50 192.00,107.59 194.00,112.60 196.00,117.55 198.00,122.52 200.00,127.62 202.00,132.00 204.00,135.30 206.00,138.13 208.00,140.87 210.00,143.51 212.00,146.04 214.00,148.50 216.00,151.07 218.00,153.57 220.00,155.50 222.00,156.89 224.00,158.11 226.00,159.18 228.00,160.14 230.00,161.01 232.00,161.82 234.00,162.61 236.00,163.39 238.00,164.15 240.00,164.88 242.00,165.57 244.00,166.23 246.00,166.85 248.00,167.42 250.00,167.94 251.50,168.30" fill="none" stroke="#800000" stroke-width="1.0"/>
<path d="M70.00,141.50L73.00,147.05L67.00,147.05Z" fill="#fff" stroke="#800000" stroke-width="0.8" stroke-linejoin="miter"/><path d="M70.00,141.50L73.00,147.05L70.00,147.05L70.00,141.50Z" fill="#800000"/><path d="M72.00,141.52L75.00,147.07L69.00,147.07Z" fill="#fff" stroke="#800000" stroke-width="0.8" stroke-linejoin="miter"/><path d="M72.00,141.52L75.00,147.07L72.00,147.07L72.00,141.52Z" fill="#800000"/><path d="M74.00,141.55L77.00,147.10L71.00,147.10Z" fill="#fff" stroke="#800000" stroke-width="0.8" stroke-linejoin="miter"/><path d="M74.00,141.55L77.00,147.10L74.00,147.10L74.00,141.55Z" fill="#800000"/><path d="M76.00,141.58L79.00,147.13L73.00,147.13Z" fill="#fff" stroke="#800000" stroke-width="0.8" stroke-linejoin="miter"/><path d="M76.00,141.58L79.00,147.13L76.00,147.13L76.00,141.58Z" fill="#800000"/><path d="M78.00,141.63L81.00,147.18L75.00,147.18Z" fill="#fff" stroke="#800000" stroke-width="0.8" stroke-linejoin="miter"/><path d="M78.00,141.63L81.00,147.18L78.00,147.18L78.00,141.63Z" fill="#800000"/><path d="M80.00,141.68L83.00,147.23L77.00,147.23Z" fill="#fff" stroke="#800000" stroke-width="0.8" stroke-linejoin="miter"/><path d="M80.00,141.68L83.00,147.23L80.00,147.23L80.00,141.68Z" fill="#800000"/><path d="M82.00,141.73L85.00,147.28L79.00,147.28Z" fill="#fff" stroke="#800000" stroke-width="0.8" stroke-linejoin="miter"/><path d="M82.00,141.73L85.00,147.28L82.00,147.28L82.00,141.73Z" fill="#800000"/><path d="M84.00,141.79L87.00,147.34L81.00,147.34Z" fill="#fff" stroke="#800000" stroke-width="0.8" stroke-linejoin="miter"/><path d="M84.00,141.79L87.00,147.34L84.00,147.34L84.00,141.79Z" fill="#800000"/><path d="M86.00,141.86L89.00,147.41L83.00,147.41Z" fill="#fff" stroke="#800000" stroke-width="0.8" stroke-linejoin="miter"/><path d="M86.00,141.86L89.00,147.41L86.00,147.41L86.00,141.86Z" fill="#800000"/><path d="M88.00,141.93L91.00,147.48L85.00,147.48Z" fill="#fff" stroke="#800000" stroke-width="0.8" stroke-linejoin="miter"/><path d="M88.00,141.93L91.00,147.48L88.00,147.48L88.00,141.93Z" fill="#800000"/><path d="M90.00,142.00L93.00,147.55L87.00,147.55Z" fill="#fff" stroke="#800000" stroke-width="0.8" stroke-linejoin="miter"/><path d="M90.00,142.00L93.00,147.55L90.00,147.55L90.00,142.00Z" fill="#800000"/><path d="M92.00,142.09L95.00,147.64L89.00,147.64Z" fill="#fff" stroke="#800000" stroke-width="0.8" stroke-linejoin="miter"/><path d="M92.00,142.09L95.00,147.64L92.00,147.64L92.00,142.09Z" fill="#800000"/><path d="M94.00,142.22L97.00,147.77L91.00,147.77Z" fill="#fff" stroke="#800000" stroke-width="0.8" stroke-linejoin="miter"/><path d="M94.00,142.22L97.00,147.77L94.00,147.77L94.00,142.22Z" fill="#800000"/><path d="M96.00,142.37L99.00,147.92L93.00,147.92Z" fill="#fff" stroke="#800000" stroke-width="0.8" stroke-linejoin="miter"/><path d="M96.00,142.37L99.00,147.92L96.00,147.92L96.00,142.37Z" fill="#800000"/><path d="M98.00,142.54L101.00,148.09L95.00,148.09Z" fill="#fff" stroke="#800000" stroke-width="0.8" stroke-linejoin="miter"/><path d="M98.00,142.54L101.00,148.09L98.00,148.09L98.00,142.54Z" fill="#800000"/><path d="M100.00,142.72L103.00,148.27L97.00,148.27Z" fill="#fff" stroke="#800000" stroke-width="0.8" stroke-linejoin="miter"/><path d="M100.00,142.72L103.00,148.27L100.00,148.27L100.00,142.72Z" fill="#800000"/><path d="M102.00,142.90L105.00,148.45L99.00,148.45Z" fill="#fff" stroke="#800000" stroke-width="0.8" stroke-linejoin="miter"/><path d="M102.00,142.90L105.00,148.45L102.00,148.45L102.00,142.90Z" fill="#800000"/><path d="M104.00,143.07L107.00,148.62L101.00,148.62Z" fill="#fff" stroke="#800000" stroke-width="0.8" stroke-linejoin="miter"/><path d="M104.00,143.07L107.00,148.62L104.00,148.62L104.00,143.07Z" fill="#800000"/><path d="M106.00,143.22L109.00,148.77L103.00,148.77Z" fill="#fff" stroke="#800000" stroke-width="0.8" stroke-linejoin="miter"/><path d="M106.00,143.22L109.00,148.77L106.00,148.77L106.00,143.22Z" fill="#800000"/><path d="M108.00,143.35L111.00,148.90L105.00,148.90Z" fill="#fff" stroke="#800000" stroke-width="0.8" stroke-linejoin="miter"/><path d="M108.00,143.35L111.00,148.90L108.00,148.90L108.00,143.35Z" fill="#800000"/><path d="M110.00,143.44L113.00,148.99L107.00,148.99Z" fill="#fff" stroke="#800000" stroke-width="0.8" stroke-linejoin="miter"/><path d="M110.00,143.44L113.00,148.99L110.00,148.99L110.00,143.44Z" fill="#800000"/><path d="M112.00,143.49L115.00,149.04L109.00,149.04Z" fill="#fff" stroke="#800000" stroke-width="0.8" stroke-linejoin="miter"/><path d="M112.00,143.49L115.00,149.04L112.00,149.04L112.00,143.49Z" fill="#800000"/><path d="M114.00,143.49L117.00,149.04L111.00,149.04Z" fill="#fff" stroke="#800000" stroke-width="0.8" stroke-linejoin="miter"/><path d="M114.00,143.49L117.00,149.04L114.00,149.04L114.00,143.49Z" fill="#800000"/><path d="M116.00,143.43L119.00,148.98L113.00,148.98Z" fill="#fff" stroke="#800000" stroke-width="0.8" stroke-linejoin="miter"/><path d="M116.00,143.43L119.00,148.98L116.00,148.98L116.00,143.43Z" fill="#800000"/><path d="M118.00,143.30L121.00,148.85L115.00,148.85Z" fill="#fff" stroke="#800000" stroke-width="0.8" stroke-linejoin="miter"/><path d="M118.00,143.30L121.00,148.85L118.00,148.85L118.00,143.30Z" fill="#800000"/><path d="M120.00,143.13L123.00,148.68L117.00,148.68Z" fill="#fff" stroke="#800000" stroke-width="0.8" stroke-linejoin="miter"/><path d="M120.00,143.13L123.00,148.68L120.00,148.68L120.00,143.13Z" fill="#800000"/><path d="M122.00,142.91L125.00,148.46L119.00,148.46Z" fill="#fff" stroke="#800000" stroke-width="0.8" stroke-linejoin="miter"/><path d="M122.00,142.91L125.00,148.46L122.00,148.46L122.00,142.91Z" fill="#800000"/><path d="M124.00,142.65L127.00,148.20L121.00,148.20Z" fill="#fff" stroke="#800000" stroke-width="0.8" stroke-linejoin="miter"/><path d="M124.00,142.65L127.00,148.20L124.00,148.20L124.00,142.65Z" fill="#800000"/><path d="M126.00,142.36L129.00,147.91L123.00,147.91Z" fill="#fff" stroke="#800000" stroke-width="0.8" stroke-linejoin="miter"/><path d="M126.00,142.36L129.00,147.91L126.00,147.91L126.00,142.36Z" fill="#800000"/><path d="M128.00,142.05L131.00,147.60L125.00,147.60Z" fill="#fff" stroke="#800000" stroke-width="0.8" stroke-linejoin="miter"/><path d="M128.00,142.05L131.00,147.60L128.00,147.60L128.00,142.05Z" fill="#800000"/><path d="M130.00,141.71L133.00,147.26L127.00,147.26Z" fill="#fff" stroke="#800000" stroke-width="0.8" stroke-linejoin="miter"/><path d="M130.00,141.71L133.00,147.26L130.00,147.26L130.00,141.71Z" fill="#800000"/><path d="M132.00,141.37L135.00,146.92L129.00,146.92Z" fill="#fff" stroke="#800000" stroke-width="0.8" stroke-linejoin="miter"/><path d="M132.00,141.37L135.00,146.92L132.00,146.92L132.00,141.37Z" fill="#800000"/><path d="M134.00,141.02L137.00,146.57L131.00,146.57Z" fill="#fff" stroke="#800000" stroke-width="0.8" stroke-linejoin="miter"/><path d="M134.00,141.02L137.00,146.57L134.00,146.57L134.00,141.02Z" fill="#800000"/><path d="M136.00,140.67L139.00,146.22L133.00,146.22Z" fill="#fff" stroke="#800000" stroke-width="0.8" stroke-linejoin="miter"/><path d="M136.00,140.67L139.00,146.22L136.00,146.22L136.00,140.67Z" fill="#800000"/><path d="M138.00,140.33L141.00,145.88L135.00,145.88Z" fill="#fff" stroke="#800000" stroke-width="0.8" stroke-linejoin="miter"/><path d="M138.00,140.33L141.00,145.88L138.00,145.88L138.00,140.33Z" fill="#800000"/><path d="M140.00,140.00L143.00,145.55L137.00,145.55Z" fill="#fff" stroke="#800000" stroke-width="0.8" stroke-linejoin="miter"/><path d="M140.00,140.00L143.00,145.55L140.00,145.55L140.00,140.00Z" fill="#800000"/><path d="M142.00,139.72L145.00,145.27L139.00,145.27Z" fill="#fff" stroke="#800000" stroke-width="0.8" stroke-linejoin="miter"/><path d="M142.00,139.72L145.00,145.27L142.00,145.27L142.00,139.72Z" fill="#800000"/><path d="M144.00,139.45L147.00,145.00L141.00,145.00Z" fill="#fff" stroke="#800000" stroke-width="0.8" stroke-linejoin="miter"/><path d="M144.00,139.45L147.00,145.00L144.00,145.00L144.00,139.45Z" fill="#800000"/><path d="M146.00,139.08L149.00,144.63L143.00,144.63Z" fill="#fff" stroke="#800000" stroke-width="0.8" stroke-linejoin="miter"/><path d="M146.00,139.08L149.00,144.63L146.00,144.63L146.00,139.08Z" fill="#800000"/><path d="M148.00,138.50L151.00,144.05L145.00,144.05Z" fill="#fff" stroke="#800000" stroke-width="0.8" stroke-linejoin="miter"/><path d="M148.00,138.50L151.00,144.05L148.00,144.05L148.00,138.50Z" fill="#800000"/><path d="M150.00,136.35L153.00,141.90L147.00,141.90Z" fill="#fff" stroke="#800000" stroke-width="0.8" stroke-linejoin="miter"/><path d="M150.00,136.35L153.00,141.90L150.00,141.90L150.00,136.35Z" fill="#800000"/><path d="M152.00,133.00L155.00,138.55L149.00,138.55Z" fill="#fff" stroke="#800000" stroke-width="0.8" stroke-linejoin="miter"/><path d="M152.00,133.00L155.00,138.55L152.00,138.55L152.00,133.00Z" fill="#800000"/><path d="M154.00,129.59L157.00,135.14L151.00,135.14Z" fill="#fff" stroke="#800000" stroke-width="0.8" stroke-linejoin="miter"/><path d="M154.00,129.59L157.00,135.14L154.00,135.14L154.00,129.59Z" fill="#800000"/><path d="M156.00,125.18L159.00,130.73L153.00,130.73Z" fill="#fff" stroke="#800000" stroke-width="0.8" stroke-linejoin="miter"/><path d="M156.00,125.18L159.00,130.73L156.00,130.73L156.00,125.18Z" fill="#800000"/><path d="M158.00,119.70L161.00,125.25L155.00,125.25Z" fill="#fff" stroke="#800000" stroke-width="0.8" stroke-linejoin="miter"/><path d="M158.00,119.70L161.00,125.25L158.00,125.25L158.00,119.70Z" fill="#800000"/><path d="M160.00,113.36L163.00,118.91L157.00,118.91Z" fill="#fff" stroke="#800000" stroke-width="0.8" stroke-linejoin="miter"/><path d="M160.00,113.36L163.00,118.91L160.00,118.91L160.00,113.36Z" fill="#800000"/><path d="M162.00,102.69L165.00,108.24L159.00,108.24Z" fill="#fff" stroke="#800000" stroke-width="0.8" stroke-linejoin="miter"/><path d="M162.00,102.69L165.00,108.24L162.00,108.24L162.00,102.69Z" fill="#800000"/><path d="M164.00,85.47L167.00,91.02L161.00,91.02Z" fill="#fff" stroke="#800000" stroke-width="0.8" stroke-linejoin="miter"/><path d="M164.00,85.47L167.00,91.02L164.00,91.02L164.00,85.47Z" fill="#800000"/><path d="M166.00,74.16L169.00,79.71L163.00,79.71Z" fill="#fff" stroke="#800000" stroke-width="0.8" stroke-linejoin="miter"/><path d="M166.00,74.16L169.00,79.71L166.00,79.71L166.00,74.16Z" fill="#800000"/><path d="M168.00,46.08L171.00,51.63L165.00,51.63Z" fill="#fff" stroke="#800000" stroke-width="0.8" stroke-linejoin="miter"/><path d="M168.00,46.08L171.00,51.63L168.00,51.63L168.00,46.08Z" fill="#800000"/><path d="M170.00,40.00L173.00,45.55L167.00,45.55Z" fill="#fff" stroke="#800000" stroke-width="0.8" stroke-linejoin="miter"/><path d="M170.00,40.00L173.00,45.55L170.00,45.55L170.00,40.00Z" fill="#800000"/><path d="M172.00,42.24L175.00,47.79L169.00,47.79Z" fill="#fff" stroke="#800000" stroke-width="0.8" stroke-linejoin="miter"/><path d="M172.00,42.24L175.00,47.79L172.00,47.79L172.00,42.24Z" fill="#800000"/><path d="M174.00,45.83L177.00,51.38L171.00,51.38Z" fill="#fff" stroke="#800000" stroke-width="0.8" stroke-linejoin="miter"/><path d="M174.00,45.83L177.00,51.38L174.00,51.38L174.00,45.83Z" fill="#800000"/><path d="M176.00,50.41L179.00,55.96L173.00,55.96Z" fill="#fff" stroke="#800000" stroke-width="0.8" stroke-linejoin="miter"/><path d="M176.00,50.41L179.00,55.96L176.00,55.96L176.00,50.41Z" fill="#800000"/><path d="M178.00,56.30L181.00,61.85L175.00,61.85Z" fill="#fff" stroke="#800000" stroke-width="0.8" stroke-linejoin="miter"/><path d="M178.00,56.30L181.00,61.85L178.00,61.85L178.00,56.30Z" fill="#800000"/><path d="M180.00,65.00L183.00,70.55L177.00,70.55Z" fill="#fff" stroke="#800000" stroke-width="0.8" stroke-linejoin="miter"/><path d="M180.00,65.00L183.00,70.55L180.00,70.55L180.00,65.00Z" fill="#800000"/><path d="M182.00,75.00L185.00,80.55L179.00,80.55Z" fill="#fff" stroke="#800000" stroke-width="0.8" stroke-linejoin="miter"/><path d="M182.00,75.00L185.00,80.55L182.00,80.55L182.00,75.00Z" fill="#800000"/><path d="M184.00,83.27L187.00,88.82L181.00,88.82Z" fill="#fff" stroke="#800000" stroke-width="0.8" stroke-linejoin="miter"/><path d="M184.00,83.27L187.00,88.82L184.00,88.82L184.00,83.27Z" fill="#800000"/><path d="M186.00,89.47L189.00,95.02L183.00,95.02Z" fill="#fff" stroke="#800000" stroke-width="0.8" stroke-linejoin="miter"/><path d="M186.00,89.47L189.00,95.02L186.00,95.02L186.00,89.47Z" fill="#800000"/><path d="M188.00,94.57L191.00,100.12L185.00,100.12Z" fill="#fff" stroke="#800000" stroke-width="0.8" stroke-linejoin="miter"/><path d="M188.00,94.57L191.00,100.12L188.00,100.12L188.00,94.57Z" fill="#800000"/><path d="M190.00,99.50L193.00,105.05L187.00,105.05Z" fill="#fff" stroke="#800000" stroke-width="0.8" stroke-linejoin="miter"/><path d="M190.00,99.50L193.00,105.05L190.00,105.05L190.00,99.50Z" fill="#800000"/><path d="M192.00,104.59L195.00,110.14L189.00,110.14Z" fill="#fff" stroke="#800000" stroke-width="0.8" stroke-linejoin="miter"/><path d="M192.00,104.59L195.00,110.14L192.00,110.14L192.00,104.59Z" fill="#800000"/><path d="M194.00,109.60L197.00,115.15L191.00,115.15Z" fill="#fff" stroke="#800000" stroke-width="0.8" stroke-linejoin="miter"/><path d="M194.00,109.60L197.00,115.15L194.00,115.15L194.00,109.60Z" fill="#800000"/><path d="M196.00,114.55L199.00,120.10L193.00,120.10Z" fill="#fff" stroke="#800000" stroke-width="0.8" stroke-linejoin="miter"/><path d="M196.00,114.55L199.00,120.10L196.00,120.10L196.00,114.55Z" fill="#800000"/><path d="M198.00,119.52L201.00,125.07L195.00,125.07Z" fill="#fff" stroke="#800000" stroke-width="0.8" stroke-linejoin="miter"/><path d="M198.00,119.52L201.00,125.07L198.00,125.07L198.00,119.52Z" fill="#800000"/><path d="M200.00,124.62L203.00,130.17L197.00,130.17Z" fill="#fff" stroke="#800000" stroke-width="0.8" stroke-linejoin="miter"/><path d="M200.00,124.62L203.00,130.17L200.00,130.17L200.00,124.62Z" fill="#800000"/><path d="M202.00,129.00L205.00,134.55L199.00,134.55Z" fill="#fff" stroke="#800000" stroke-width="0.8" stroke-linejoin="miter"/><path d="M202.00,129.00L205.00,134.55L202.00,134.55L202.00,129.00Z" fill="#800000"/><path d="M204.00,132.30L207.00,137.85L201.00,137.85Z" fill="#fff" stroke="#800000" stroke-width="0.8" stroke-linejoin="miter"/><path d="M204.00,132.30L207.00,137.85L204.00,137.85L204.00,132.30Z" fill="#800000"/><path d="M206.00,135.13L209.00,140.68L203.00,140.68Z" fill="#fff" stroke="#800000" stroke-width="0.8" stroke-linejoin="miter"/><path d="M206.00,135.13L209.00,140.68L206.00,140.68L206.00,135.13Z" fill="#800000"/><path d="M208.00,137.87L211.00,143.42L205.00,143.42Z" fill="#fff" stroke="#800000" stroke-width="0.8" stroke-linejoin="miter"/><path d="M208.00,137.87L211.00,143.42L208.00,143.42L208.00,137.87Z" fill="#800000"/><path d="M210.00,140.51L213.00,146.06L207.00,146.06Z" fill="#fff" stroke="#800000" stroke-width="0.8" stroke-linejoin="miter"/><path d="M210.00,140.51L213.00,146.06L210.00,146.06L210.00,140.51Z" fill="#800000"/><path d="M212.00,143.04L215.00,148.59L209.00,148.59Z" fill="#fff" stroke="#800000" stroke-width="0.8" stroke-linejoin="miter"/><path d="M212.00,143.04L215.00,148.59L212.00,148.59L212.00,143.04Z" fill="#800000"/><path d="M214.00,145.50L217.00,151.05L211.00,151.05Z" fill="#fff" stroke="#800000" stroke-width="0.8" stroke-linejoin="miter"/><path d="M214.00,145.50L217.00,151.05L214.00,151.05L214.00,145.50Z" fill="#800000"/><path d="M216.00,148.07L219.00,153.62L213.00,153.62Z" fill="#fff" stroke="#800000" stroke-width="0.8" stroke-linejoin="miter"/><path d="M216.00,148.07L219.00,153.62L216.00,153.62L216.00,148.07Z" fill="#800000"/><path d="M218.00,150.57L221.00,156.12L215.00,156.12Z" fill="#fff" stroke="#800000" stroke-width="0.8" stroke-linejoin="miter"/><path d="M218.00,150.57L221.00,156.12L218.00,156.12L218.00,150.57Z" fill="#800000"/><path d="M220.00,152.50L223.00,158.05L217.00,158.05Z" fill="#fff" stroke="#800000" stroke-width="0.8" stroke-linejoin="miter"/><path d="M220.00,152.50L223.00,158.05L220.00,158.05L220.00,152.50Z" fill="#800000"/><path d="M222.00,153.89L225.00,159.44L219.00,159.44Z" fill="#fff" stroke="#800000" stroke-width="0.8" stroke-linejoin="miter"/><path d="M222.00,153.89L225.00,159.44L222.00,159.44L222.00,153.89Z" fill="#800000"/><path d="M224.00,155.11L227.00,160.66L221.00,160.66Z" fill="#fff" stroke="#800000" stroke-width="0.8" stroke-linejoin="miter"/><path d="M224.00,155.11L227.00,160.66L224.00,160.66L224.00,155.11Z" fill="#800000"/><path d="M226.00,156.18L229.00,161.73L223.00,161.73Z" fill="#fff" stroke="#800000" stroke-width="0.8" stroke-linejoin="miter"/><path d="M226.00,156.18L229.00,161.73L226.00,161.73L226.00,156.18Z" fill="#800000"/><path d="M228.00,157.14L231.00,162.69L225.00,162.69Z" fill="#fff" stroke="#800000" stroke-width="0.8" stroke-linejoin="miter"/><path d="M228.00,157.14L231.00,162.69L228.00,162.69L228.00,157.14Z" fill="#800000"/><path d="M230.00,158.01L233.00,163.56L227.00,163.56Z" fill="#fff" stroke="#800000" stroke-width="0.8" stroke-linejoin="miter"/><path d="M230.00,158.01L233.00,163.56L230.00,163.56L230.00,158.01Z" fill="#800000"/><path d="M232.00,158.82L235.00,164.37L229.00,164.37Z" fill="#fff" stroke="#800000" stroke-width="0.8" stroke-linejoin="miter"/><path d="M232.00,158.82L235.00,164.37L232.00,164.37L232.00,158.82Z" fill="#800000"/><path d="M234.00,159.61L237.00,165.16L231.00,165.16Z" fill="#fff" stroke="#800000" stroke-width="0.8" stroke-linejoin="miter"/><path d="M234.00,159.61L237.00,165.16L234.00,165.16L234.00,159.61Z" fill="#800000"/><path d="M236.00,160.39L239.00,165.94L233.00,165.94Z" fill="#fff" stroke="#800000" stroke-width="0.8" stroke-linejoin="miter"/><path d="M236.00,160.39L239.00,165.94L236.00,165.94L236.00,160.39Z" fill="#800000"/><path d="M238.00,161.15L241.00,166.70L235.00,166.70Z" fill="#fff" stroke="#800000" stroke-width="0.8" stroke-linejoin="miter"/><path d="M238.00,161.15L241.00,166.70L238.00,166.70L238.00,161.15Z" fill="#800000"/><path d="M240.00,161.88L243.00,167.43L237.00,167.43Z" fill="#fff" stroke="#800000" stroke-width="0.8" stroke-linejoin="miter"/><path d="M240.00,161.88L243.00,167.43L240.00,167.43L240.00,161.88Z" fill="#800000"/><path d="M242.00,162.57L245.00,168.12L239.00,168.12Z" fill="#fff" stroke="#800000" stroke-width="0.8" stroke-linejoin="miter"/><path d="M242.00,162.57L245.00,168.12L242.00,168.12L242.00,162.57Z" fill="#800000"/><path d="M244.00,163.23L247.00,168.78L241.00,168.78Z" fill="#fff" stroke="#800000" stroke-width="0.8" stroke-linejoin="miter"/><path d="M244.00,163.23L247.00,168.78L244.00,168.78L244.00,163.23Z" fill="#800000"/><path d="M246.00,163.85L249.00,169.40L243.00,169.40Z" fill="#fff" stroke="#800000" stroke-width="0.8" stroke-linejoin="miter"/><path d="M246.00,163.85L249.00,169.40L246.00,169.40L246.00,163.85Z" fill="#800000"/><path d="M248.00,164.42L251.00,169.97L245.00,169.97Z" fill="#fff" stroke="#800000" stroke-width="0.8" stroke-linejoin="miter"/><path d="M248.00,164.42L251.00,169.97L248.00,169.97L248.00,164.42Z" fill="#800000"/><path d="M250.00,164.94L253.00,170.49L247.00,170.49Z" fill="#fff" stroke="#800000" stroke-width="0.8" stroke-linejoin="miter"/><path d="M250.00,164.94L253.00,170.49L250.00,170.49L250.00,164.94Z" fill="#800000"/><path d="M251.50,165.30L254.50,170.85L248.50,170.85Z" fill="#fff" stroke="#800000" stroke-width="0.8" stroke-linejoin="miter"/><path d="M251.50,165.30L254.50,170.85L251.50,170.85L251.50,165.30Z" fill="#800000"/>
<polyline points="69.00,145.20 70.00,145.20 72.00,145.21 74.00,145.23 76.00,145.26 78.00,145.29 80.00,145.34 82.00,145.38 84.00,145.43 86.00,145.49 88.00,145.54 90.00,145.60 92.00,145.68 94.00,145.79 96.00,145.93 98.00,146.09 100.00,146.26 102.00,146.42 104.00,146.59 106.00,146.73 108.00,146.85 110.00,146.94 112.00,146.99 114.00,147.00 116.00,147.00 118.00,147.00 120.00,147.00 122.00,147.00 124.00,147.00 126.00,146.98 128.00,146.80 130.00,146.47 132.00,146.00 134.00,145.41 136.00,144.70 138.00,143.90 140.00,142.99 142.00,141.44 144.00,139.23 146.00,136.57 148.00,133.23 150.00,128.74 152.00,123.46 154.00,117.54 156.00,110.92 158.00,93.19 160.00,71.00 162.00,57.28 164.00,44.13 166.00,41.50 168.00,42.81 170.00,46.00 172.00,54.00 174.00,57.08 176.00,65.50 178.00,75.56 180.00,81.21 182.00,87.84 184.00,93.99 186.00,97.99 188.00,102.30 190.00,107.28 192.00,112.50 194.00,117.60 196.00,122.34 198.00,126.91 200.00,131.00 202.00,134.48 204.00,137.57 206.00,140.37 208.00,142.96 210.00,145.34 212.00,147.50 214.00,149.49 216.00,151.34 218.00,153.02 220.00,154.50 222.00,155.81 224.00,157.04 226.00,158.19 228.00,159.26 230.00,160.27 232.00,161.20 234.00,162.08 236.00,162.91 238.00,163.70 240.00,164.47 242.00,165.19 244.00,165.88 246.00,166.52 248.00,167.11 250.00,167.64 251.50,168.00" fill="none" stroke="#b040f0" stroke-width="1.0"/>
<path d="M69.00,142.50L71.34,143.85L71.34,146.55L69.00,147.90L66.66,146.55L66.66,143.85Z" fill="#d8c8f0" stroke="#b040f0" stroke-width="0.8" stroke-linejoin="miter"/><path d="M69.00,142.50L69.00,142.50L69.00,147.90L69.00,147.90L66.66,146.55L66.66,143.85Z" fill="#b040f0"/><path d="M70.00,142.50L72.34,143.85L72.34,146.55L70.00,147.90L67.66,146.55L67.66,143.85Z" fill="#d8c8f0" stroke="#b040f0" stroke-width="0.8" stroke-linejoin="miter"/><path d="M70.00,142.50L70.00,142.50L70.00,147.90L70.00,147.90L67.66,146.55L67.66,143.85Z" fill="#b040f0"/><path d="M72.00,142.51L74.34,143.86L74.34,146.56L72.00,147.91L69.66,146.56L69.66,143.86Z" fill="#d8c8f0" stroke="#b040f0" stroke-width="0.8" stroke-linejoin="miter"/><path d="M72.00,142.51L72.00,142.51L72.00,147.91L72.00,147.91L69.66,146.56L69.66,143.86Z" fill="#b040f0"/><path d="M74.00,142.53L76.34,143.88L76.34,146.58L74.00,147.93L71.66,146.58L71.66,143.88Z" fill="#d8c8f0" stroke="#b040f0" stroke-width="0.8" stroke-linejoin="miter"/><path d="M74.00,142.53L74.00,142.53L74.00,147.93L74.00,147.93L71.66,146.58L71.66,143.88Z" fill="#b040f0"/><path d="M76.00,142.56L78.34,143.91L78.34,146.61L76.00,147.96L73.66,146.61L73.66,143.91Z" fill="#d8c8f0" stroke="#b040f0" stroke-width="0.8" stroke-linejoin="miter"/><path d="M76.00,142.56L76.00,142.56L76.00,147.96L76.00,147.96L73.66,146.61L73.66,143.91Z" fill="#b040f0"/><path d="M78.00,142.59L80.34,143.94L80.34,146.64L78.00,147.99L75.66,146.64L75.66,143.94Z" fill="#d8c8f0" stroke="#b040f0" stroke-width="0.8" stroke-linejoin="miter"/><path d="M78.00,142.59L78.00,142.59L78.00,147.99L78.00,147.99L75.66,146.64L75.66,143.94Z" fill="#b040f0"/><path d="M80.00,142.64L82.34,143.99L82.34,146.69L80.00,148.04L77.66,146.69L77.66,143.99Z" fill="#d8c8f0" stroke="#b040f0" stroke-width="0.8" stroke-linejoin="miter"/><path d="M80.00,142.64L80.00,142.64L80.00,148.04L80.00,148.04L77.66,146.69L77.66,143.99Z" fill="#b040f0"/><path d="M82.00,142.68L84.34,144.03L84.34,146.73L82.00,148.08L79.66,146.73L79.66,144.03Z" fill="#d8c8f0" stroke="#b040f0" stroke-width="0.8" stroke-linejoin="miter"/><path d="M82.00,142.68L82.00,142.68L82.00,148.08L82.00,148.08L79.66,146.73L79.66,144.03Z" fill="#b040f0"/><path d="M84.00,142.73L86.34,144.08L86.34,146.78L84.00,148.13L81.66,146.78L81.66,144.08Z" fill="#d8c8f0" stroke="#b040f0" stroke-width="0.8" stroke-linejoin="miter"/><path d="M84.00,142.73L84.00,142.73L84.00,148.13L84.00,148.13L81.66,146.78L81.66,144.08Z" fill="#b040f0"/><path d="M86.00,142.79L88.34,144.14L88.34,146.84L86.00,148.19L83.66,146.84L83.66,144.14Z" fill="#d8c8f0" stroke="#b040f0" stroke-width="0.8" stroke-linejoin="miter"/><path d="M86.00,142.79L86.00,142.79L86.00,148.19L86.00,148.19L83.66,146.84L83.66,144.14Z" fill="#b040f0"/><path d="M88.00,142.84L90.34,144.19L90.34,146.89L88.00,148.24L85.66,146.89L85.66,144.19Z" fill="#d8c8f0" stroke="#b040f0" stroke-width="0.8" stroke-linejoin="miter"/><path d="M88.00,142.84L88.00,142.84L88.00,148.24L88.00,148.24L85.66,146.89L85.66,144.19Z" fill="#b040f0"/><path d="M90.00,142.90L92.34,144.25L92.34,146.95L90.00,148.30L87.66,146.95L87.66,144.25Z" fill="#d8c8f0" stroke="#b040f0" stroke-width="0.8" stroke-linejoin="miter"/><path d="M90.00,142.90L90.00,142.90L90.00,148.30L90.00,148.30L87.66,146.95L87.66,144.25Z" fill="#b040f0"/><path d="M92.00,142.98L94.34,144.33L94.34,147.03L92.00,148.38L89.66,147.03L89.66,144.33Z" fill="#d8c8f0" stroke="#b040f0" stroke-width="0.8" stroke-linejoin="miter"/><path d="M92.00,142.98L92.00,142.98L92.00,148.38L92.00,148.38L89.66,147.03L89.66,144.33Z" fill="#b040f0"/><path d="M94.00,143.09L96.34,144.44L96.34,147.14L94.00,148.49L91.66,147.14L91.66,144.44Z" fill="#d8c8f0" stroke="#b040f0" stroke-width="0.8" stroke-linejoin="miter"/><path d="M94.00,143.09L94.00,143.09L94.00,148.49L94.00,148.49L91.66,147.14L91.66,144.44Z" fill="#b040f0"/><path d="M96.00,143.23L98.34,144.58L98.34,147.28L96.00,148.63L93.66,147.28L93.66,144.58Z" fill="#d8c8f0" stroke="#b040f0" stroke-width="0.8" stroke-linejoin="miter"/><path d="M96.00,143.23L96.00,143.23L96.00,148.63L96.00,148.63L93.66,147.28L93.66,144.58Z" fill="#b040f0"/><path d="M98.00,143.39L100.34,144.74L100.34,147.44L98.00,148.79L95.66,147.44L95.66,144.74Z" fill="#d8c8f0" stroke="#b040f0" stroke-width="0.8" stroke-linejoin="miter"/><path d="M98.00,143.39L98.00,143.39L98.00,148.79L98.00,148.79L95.66,147.44L95.66,144.74Z" fill="#b040f0"/><path d="M100.00,143.56L102.34,144.91L102.34,147.61L100.00,148.96L97.66,147.61L97.66,144.91Z" fill="#d8c8f0" stroke="#b040f0" stroke-width="0.8" stroke-linejoin="miter"/><path d="M100.00,143.56L100.00,143.56L100.00,148.96L100.00,148.96L97.66,147.61L97.66,144.91Z" fill="#b040f0"/><path d="M102.00,143.72L104.34,145.07L104.34,147.77L102.00,149.12L99.66,147.77L99.66,145.07Z" fill="#d8c8f0" stroke="#b040f0" stroke-width="0.8" stroke-linejoin="miter"/><path d="M102.00,143.72L102.00,143.72L102.00,149.12L102.00,149.12L99.66,147.77L99.66,145.07Z" fill="#b040f0"/><path d="M104.00,143.89L106.34,145.24L106.34,147.94L104.00,149.29L101.66,147.94L101.66,145.24Z" fill="#d8c8f0" stroke="#b040f0" stroke-width="0.8" stroke-linejoin="miter"/><path d="M104.00,143.89L104.00,143.89L104.00,149.29L104.00,149.29L101.66,147.94L101.66,145.24Z" fill="#b040f0"/><path d="M106.00,144.03L108.34,145.38L108.34,148.08L106.00,149.43L103.66,148.08L103.66,145.38Z" fill="#d8c8f0" stroke="#b040f0" stroke-width="0.8" stroke-linejoin="miter"/><path d="M106.00,144.03L106.00,144.03L106.00,149.43L106.00,149.43L103.66,148.08L103.66,145.38Z" fill="#b040f0"/><path d="M108.00,144.15L110.34,145.50L110.34,148.20L108.00,149.55L105.66,148.20L105.66,145.50Z" fill="#d8c8f0" stroke="#b040f0" stroke-width="0.8" stroke-linejoin="miter"/><path d="M108.00,144.15L108.00,144.15L108.00,149.55L108.00,149.55L105.66,148.20L105.66,145.50Z" fill="#b040f0"/><path d="M110.00,144.24L112.34,145.59L112.34,148.29L110.00,149.64L107.66,148.29L107.66,145.59Z" fill="#d8c8f0" stroke="#b040f0" stroke-width="0.8" stroke-linejoin="miter"/><path d="M110.00,144.24L110.00,144.24L110.00,149.64L110.00,149.64L107.66,148.29L107.66,145.59Z" fill="#b040f0"/><path d="M112.00,144.29L114.34,145.64L114.34,148.34L112.00,149.69L109.66,148.34L109.66,145.64Z" fill="#d8c8f0" stroke="#b040f0" stroke-width="0.8" stroke-linejoin="miter"/><path d="M112.00,144.29L112.00,144.29L112.00,149.69L112.00,149.69L109.66,148.34L109.66,145.64Z" fill="#b040f0"/><path d="M114.00,144.30L116.34,145.65L116.34,148.35L114.00,149.70L111.66,148.35L111.66,145.65Z" fill="#d8c8f0" stroke="#b040f0" stroke-width="0.8" stroke-linejoin="miter"/><path d="M114.00,144.30L114.00,144.30L114.00,149.70L114.00,149.70L111.66,148.35L111.66,145.65Z" fill="#b040f0"/><path d="M116.00,144.30L118.34,145.65L118.34,148.35L116.00,149.70L113.66,148.35L113.66,145.65Z" fill="#d8c8f0" stroke="#b040f0" stroke-width="0.8" stroke-linejoin="miter"/><path d="M116.00,144.30L116.00,144.30L116.00,149.70L116.00,149.70L113.66,148.35L113.66,145.65Z" fill="#b040f0"/><path d="M118.00,144.30L120.34,145.65L120.34,148.35L118.00,149.70L115.66,148.35L115.66,145.65Z" fill="#d8c8f0" stroke="#b040f0" stroke-width="0.8" stroke-linejoin="miter"/><path d="M118.00,144.30L118.00,144.30L118.00,149.70L118.00,149.70L115.66,148.35L115.66,145.65Z" fill="#b040f0"/><path d="M120.00,144.30L122.34,145.65L122.34,148.35L120.00,149.70L117.66,148.35L117.66,145.65Z" fill="#d8c8f0" stroke="#b040f0" stroke-width="0.8" stroke-linejoin="miter"/><path d="M120.00,144.30L120.00,144.30L120.00,149.70L120.00,149.70L117.66,148.35L117.66,145.65Z" fill="#b040f0"/><path d="M122.00,144.30L124.34,145.65L124.34,148.35L122.00,149.70L119.66,148.35L119.66,145.65Z" fill="#d8c8f0" stroke="#b040f0" stroke-width="0.8" stroke-linejoin="miter"/><path d="M122.00,144.30L122.00,144.30L122.00,149.70L122.00,149.70L119.66,148.35L119.66,145.65Z" fill="#b040f0"/><path d="M124.00,144.30L126.34,145.65L126.34,148.35L124.00,149.70L121.66,148.35L121.66,145.65Z" fill="#d8c8f0" stroke="#b040f0" stroke-width="0.8" stroke-linejoin="miter"/><path d="M124.00,144.30L124.00,144.30L124.00,149.70L124.00,149.70L121.66,148.35L121.66,145.65Z" fill="#b040f0"/><path d="M126.00,144.28L128.34,145.63L128.34,148.33L126.00,149.68L123.66,148.33L123.66,145.63Z" fill="#d8c8f0" stroke="#b040f0" stroke-width="0.8" stroke-linejoin="miter"/><path d="M126.00,144.28L126.00,144.28L126.00,149.68L126.00,149.68L123.66,148.33L123.66,145.63Z" fill="#b040f0"/><path d="M128.00,144.10L130.34,145.45L130.34,148.15L128.00,149.50L125.66,148.15L125.66,145.45Z" fill="#d8c8f0" stroke="#b040f0" stroke-width="0.8" stroke-linejoin="miter"/><path d="M128.00,144.10L128.00,144.10L128.00,149.50L128.00,149.50L125.66,148.15L125.66,145.45Z" fill="#b040f0"/><path d="M130.00,143.77L132.34,145.12L132.34,147.82L130.00,149.17L127.66,147.82L127.66,145.12Z" fill="#d8c8f0" stroke="#b040f0" stroke-width="0.8" stroke-linejoin="miter"/><path d="M130.00,143.77L130.00,143.77L130.00,149.17L130.00,149.17L127.66,147.82L127.66,145.12Z" fill="#b040f0"/><path d="M132.00,143.30L134.34,144.65L134.34,147.35L132.00,148.70L129.66,147.35L129.66,144.65Z" fill="#d8c8f0" stroke="#b040f0" stroke-width="0.8" stroke-linejoin="miter"/><path d="M132.00,143.30L132.00,143.30L132.00,148.70L132.00,148.70L129.66,147.35L129.66,144.65Z" fill="#b040f0"/><path d="M134.00,142.71L136.34,144.06L136.34,146.76L134.00,148.11L131.66,146.76L131.66,144.06Z" fill="#d8c8f0" stroke="#b040f0" stroke-width="0.8" stroke-linejoin="miter"/><path d="M134.00,142.71L134.00,142.71L134.00,148.11L134.00,148.11L131.66,146.76L131.66,144.06Z" fill="#b040f0"/><path d="M136.00,142.00L138.34,143.35L138.34,146.05L136.00,147.40L133.66,146.05L133.66,143.35Z" fill="#d8c8f0" stroke="#b040f0" stroke-width="0.8" stroke-linejoin="miter"/><path d="M136.00,142.00L136.00,142.00L136.00,147.40L136.00,147.40L133.66,146.05L133.66,143.35Z" fill="#b040f0"/><path d="M138.00,141.20L140.34,142.55L140.34,145.25L138.00,146.60L135.66,145.25L135.66,142.55Z" fill="#d8c8f0" stroke="#b040f0" stroke-width="0.8" stroke-linejoin="miter"/><path d="M138.00,141.20L138.00,141.20L138.00,146.60L138.00,146.60L135.66,145.25L135.66,142.55Z" fill="#b040f0"/><path d="M140.00,140.29L142.34,141.64L142.34,144.34L140.00,145.69L137.66,144.34L137.66,141.64Z" fill="#d8c8f0" stroke="#b040f0" stroke-width="0.8" stroke-linejoin="miter"/><path d="M140.00,140.29L140.00,140.29L140.00,145.69L140.00,145.69L137.66,144.34L137.66,141.64Z" fill="#b040f0"/><path d="M142.00,138.74L144.34,140.09L144.34,142.79L142.00,144.14L139.66,142.79L139.66,140.09Z" fill="#d8c8f0" stroke="#b040f0" stroke-width="0.8" stroke-linejoin="miter"/><path d="M142.00,138.74L142.00,138.74L142.00,144.14L142.00,144.14L139.66,142.79L139.66,140.09Z" fill="#b040f0"/><path d="M144.00,136.53L146.34,137.88L146.34,140.58L144.00,141.93L141.66,140.58L141.66,137.88Z" fill="#d8c8f0" stroke="#b040f0" stroke-width="0.8" stroke-linejoin="miter"/><path d="M144.00,136.53L144.00,136.53L144.00,141.93L144.00,141.93L141.66,140.58L141.66,137.88Z" fill="#b040f0"/><path d="M146.00,133.87L148.34,135.22L148.34,137.92L146.00,139.27L143.66,137.92L143.66,135.22Z" fill="#d8c8f0" stroke="#b040f0" stroke-width="0.8" stroke-linejoin="miter"/><path d="M146.00,133.87L146.00,133.87L146.00,139.27L146.00,139.27L143.66,137.92L143.66,135.22Z" fill="#b040f0"/><path d="M148.00,130.53L150.34,131.88L150.34,134.58L148.00,135.93L145.66,134.58L145.66,131.88Z" fill="#d8c8f0" stroke="#b040f0" stroke-width="0.8" stroke-linejoin="miter"/><path d="M148.00,130.53L148.00,130.53L148.00,135.93L148.00,135.93L145.66,134.58L145.66,131.88Z" fill="#b040f0"/><path d="M150.00,126.04L152.34,127.39L152.34,130.09L150.00,131.44L147.66,130.09L147.66,127.39Z" fill="#d8c8f0" stroke="#b040f0" stroke-width="0.8" stroke-linejoin="miter"/><path d="M150.00,126.04L150.00,126.04L150.00,131.44L150.00,131.44L147.66,130.09L147.66,127.39Z" fill="#b040f0"/><path d="M152.00,120.76L154.34,122.11L154.34,124.81L152.00,126.16L149.66,124.81L149.66,122.11Z" fill="#d8c8f0" stroke="#b040f0" stroke-width="0.8" stroke-linejoin="miter"/><path d="M152.00,120.76L152.00,120.76L152.00,126.16L152.00,126.16L149.66,124.81L149.66,122.11Z" fill="#b040f0"/><path d="M154.00,114.84L156.34,116.19L156.34,118.89L154.00,120.24L151.66,118.89L151.66,116.19Z" fill="#d8c8f0" stroke="#b040f0" stroke-width="0.8" stroke-linejoin="miter"/><path d="M154.00,114.84L154.00,114.84L154.00,120.24L154.00,120.24L151.66,118.89L151.66,116.19Z" fill="#b040f0"/><path d="M156.00,108.22L158.34,109.57L158.34,112.27L156.00,113.62L153.66,112.27L153.66,109.57Z" fill="#d8c8f0" stroke="#b040f0" stroke-width="0.8" stroke-linejoin="miter"/><path d="M156.00,108.22L156.00,108.22L156.00,113.62L156.00,113.62L153.66,112.27L153.66,109.57Z" fill="#b040f0"/><path d="M158.00,90.49L160.34,91.84L160.34,94.54L158.00,95.89L155.66,94.54L155.66,91.84Z" fill="#d8c8f0" stroke="#b040f0" stroke-width="0.8" stroke-linejoin="miter"/><path d="M158.00,90.49L158.00,90.49L158.00,95.89L158.00,95.89L155.66,94.54L155.66,91.84Z" fill="#b040f0"/><path d="M160.00,68.30L162.34,69.65L162.34,72.35L160.00,73.70L157.66,72.35L157.66,69.65Z" fill="#d8c8f0" stroke="#b040f0" stroke-width="0.8" stroke-linejoin="miter"/><path d="M160.00,68.30L160.00,68.30L160.00,73.70L160.00,73.70L157.66,72.35L157.66,69.65Z" fill="#b040f0"/><path d="M162.00,54.58L164.34,55.93L164.34,58.63L162.00,59.98L159.66,58.63L159.66,55.93Z" fill="#d8c8f0" stroke="#b040f0" stroke-width="0.8" stroke-linejoin="miter"/><path d="M162.00,54.58L162.00,54.58L162.00,59.98L162.00,59.98L159.66,58.63L159.66,55.93Z" fill="#b040f0"/><path d="M164.00,41.43L166.34,42.78L166.34,45.48L164.00,46.83L161.66,45.48L161.66,42.78Z" fill="#d8c8f0" stroke="#b040f0" stroke-width="0.8" stroke-linejoin="miter"/><path d="M164.00,41.43L164.00,41.43L164.00,46.83L164.00,46.83L161.66,45.48L161.66,42.78Z" fill="#b040f0"/><path d="M166.00,38.80L168.34,40.15L168.34,42.85L166.00,44.20L163.66,42.85L163.66,40.15Z" fill="#d8c8f0" stroke="#b040f0" stroke-width="0.8" stroke-linejoin="miter"/><path d="M166.00,38.80L166.00,38.80L166.00,44.20L166.00,44.20L163.66,42.85L163.66,40.15Z" fill="#b040f0"/><path d="M168.00,40.11L170.34,41.46L170.34,44.16L168.00,45.51L165.66,44.16L165.66,41.46Z" fill="#d8c8f0" stroke="#b040f0" stroke-width="0.8" stroke-linejoin="miter"/><path d="M168.00,40.11L168.00,40.11L168.00,45.51L168.00,45.51L165.66,44.16L165.66,41.46Z" fill="#b040f0"/><path d="M170.00,43.30L172.34,44.65L172.34,47.35L170.00,48.70L167.66,47.35L167.66,44.65Z" fill="#d8c8f0" stroke="#b040f0" stroke-width="0.8" stroke-linejoin="miter"/><path d="M170.00,43.30L170.00,43.30L170.00,48.70L170.00,48.70L167.66,47.35L167.66,44.65Z" fill="#b040f0"/><path d="M172.00,51.30L174.34,52.65L174.34,55.35L172.00,56.70L169.66,55.35L169.66,52.65Z" fill="#d8c8f0" stroke="#b040f0" stroke-width="0.8" stroke-linejoin="miter"/><path d="M172.00,51.30L172.00,51.30L172.00,56.70L172.00,56.70L169.66,55.35L169.66,52.65Z" fill="#b040f0"/><path d="M174.00,54.38L176.34,55.73L176.34,58.43L174.00,59.78L171.66,58.43L171.66,55.73Z" fill="#d8c8f0" stroke="#b040f0" stroke-width="0.8" stroke-linejoin="miter"/><path d="M174.00,54.38L174.00,54.38L174.00,59.78L174.00,59.78L171.66,58.43L171.66,55.73Z" fill="#b040f0"/><path d="M176.00,62.80L178.34,64.15L178.34,66.85L176.00,68.20L173.66,66.85L173.66,64.15Z" fill="#d8c8f0" stroke="#b040f0" stroke-width="0.8" stroke-linejoin="miter"/><path d="M176.00,62.80L176.00,62.80L176.00,68.20L176.00,68.20L173.66,66.85L173.66,64.15Z" fill="#b040f0"/><path d="M178.00,72.86L180.34,74.21L180.34,76.91L178.00,78.26L175.66,76.91L175.66,74.21Z" fill="#d8c8f0" stroke="#b040f0" stroke-width="0.8" stroke-linejoin="miter"/><path d="M178.00,72.86L178.00,72.86L178.00,78.26L178.00,78.26L175.66,76.91L175.66,74.21Z" fill="#b040f0"/><path d="M180.00,78.51L182.34,79.86L182.34,82.56L180.00,83.91L177.66,82.56L177.66,79.86Z" fill="#d8c8f0" stroke="#b040f0" stroke-width="0.8" stroke-linejoin="miter"/><path d="M180.00,78.51L180.00,78.51L180.00,83.91L180.00,83.91L177.66,82.56L177.66,79.86Z" fill="#b040f0"/><path d="M182.00,85.14L184.34,86.49L184.34,89.19L182.00,90.54L179.66,89.19L179.66,86.49Z" fill="#d8c8f0" stroke="#b040f0" stroke-width="0.8" stroke-linejoin="miter"/><path d="M182.00,85.14L182.00,85.14L182.00,90.54L182.00,90.54L179.66,89.19L179.66,86.49Z" fill="#b040f0"/><path d="M184.00,91.29L186.34,92.64L186.34,95.34L184.00,96.69L181.66,95.34L181.66,92.64Z" fill="#d8c8f0" stroke="#b040f0" stroke-width="0.8" stroke-linejoin="miter"/><path d="M184.00,91.29L184.00,91.29L184.00,96.69L184.00,96.69L181.66,95.34L181.66,92.64Z" fill="#b040f0"/><path d="M186.00,95.29L188.34,96.64L188.34,99.34L186.00,100.69L183.66,99.34L183.66,96.64Z" fill="#d8c8f0" stroke="#b040f0" stroke-width="0.8" stroke-linejoin="miter"/><path d="M186.00,95.29L186.00,95.29L186.00,100.69L186.00,100.69L183.66,99.34L183.66,96.64Z" fill="#b040f0"/><path d="M188.00,99.60L190.34,100.95L190.34,103.65L188.00,105.00L185.66,103.65L185.66,100.95Z" fill="#d8c8f0" stroke="#b040f0" stroke-width="0.8" stroke-linejoin="miter"/><path d="M188.00,99.60L188.00,99.60L188.00,105.00L188.00,105.00L185.66,103.65L185.66,100.95Z" fill="#b040f0"/><path d="M190.00,104.58L192.34,105.93L192.34,108.63L190.00,109.98L187.66,108.63L187.66,105.93Z" fill="#d8c8f0" stroke="#b040f0" stroke-width="0.8" stroke-linejoin="miter"/><path d="M190.00,104.58L190.00,104.58L190.00,109.98L190.00,109.98L187.66,108.63L187.66,105.93Z" fill="#b040f0"/><path d="M192.00,109.80L194.34,111.15L194.34,113.85L192.00,115.20L189.66,113.85L189.66,111.15Z" fill="#d8c8f0" stroke="#b040f0" stroke-width="0.8" stroke-linejoin="miter"/><path d="M192.00,109.80L192.00,109.80L192.00,115.20L192.00,115.20L189.66,113.85L189.66,111.15Z" fill="#b040f0"/><path d="M194.00,114.90L196.34,116.25L196.34,118.95L194.00,120.30L191.66,118.95L191.66,116.25Z" fill="#d8c8f0" stroke="#b040f0" stroke-width="0.8" stroke-linejoin="miter"/><path d="M194.00,114.90L194.00,114.90L194.00,120.30L194.00,120.30L191.66,118.95L191.66,116.25Z" fill="#b040f0"/><path d="M196.00,119.64L198.34,120.99L198.34,123.69L196.00,125.04L193.66,123.69L193.66,120.99Z" fill="#d8c8f0" stroke="#b040f0" stroke-width="0.8" stroke-linejoin="miter"/><path d="M196.00,119.64L196.00,119.64L196.00,125.04L196.00,125.04L193.66,123.69L193.66,120.99Z" fill="#b040f0"/><path d="M198.00,124.21L200.34,125.56L200.34,128.26L198.00,129.61L195.66,128.26L195.66,125.56Z" fill="#d8c8f0" stroke="#b040f0" stroke-width="0.8" stroke-linejoin="miter"/><path d="M198.00,124.21L198.00,124.21L198.00,129.61L198.00,129.61L195.66,128.26L195.66,125.56Z" fill="#b040f0"/><path d="M200.00,128.30L202.34,129.65L202.34,132.35L200.00,133.70L197.66,132.35L197.66,129.65Z" fill="#d8c8f0" stroke="#b040f0" stroke-width="0.8" stroke-linejoin="miter"/><path d="M200.00,128.30L200.00,128.30L200.00,133.70L200.00,133.70L197.66,132.35L197.66,129.65Z" fill="#b040f0"/><path d="M202.00,131.78L204.34,133.13L204.34,135.83L202.00,137.18L199.66,135.83L199.66,133.13Z" fill="#d8c8f0" stroke="#b040f0" stroke-width="0.8" stroke-linejoin="miter"/><path d="M202.00,131.78L202.00,131.78L202.00,137.18L202.00,137.18L199.66,135.83L199.66,133.13Z" fill="#b040f0"/><path d="M204.00,134.87L206.34,136.22L206.34,138.92L204.00,140.27L201.66,138.92L201.66,136.22Z" fill="#d8c8f0" stroke="#b040f0" stroke-width="0.8" stroke-linejoin="miter"/><path d="M204.00,134.87L204.00,134.87L204.00,140.27L204.00,140.27L201.66,138.92L201.66,136.22Z" fill="#b040f0"/><path d="M206.00,137.67L208.34,139.02L208.34,141.72L206.00,143.07L203.66,141.72L203.66,139.02Z" fill="#d8c8f0" stroke="#b040f0" stroke-width="0.8" stroke-linejoin="miter"/><path d="M206.00,137.67L206.00,137.67L206.00,143.07L206.00,143.07L203.66,141.72L203.66,139.02Z" fill="#b040f0"/><path d="M208.00,140.26L210.34,141.61L210.34,144.31L208.00,145.66L205.66,144.31L205.66,141.61Z" fill="#d8c8f0" stroke="#b040f0" stroke-width="0.8" stroke-linejoin="miter"/><path d="M208.00,140.26L208.00,140.26L208.00,145.66L208.00,145.66L205.66,144.31L205.66,141.61Z" fill="#b040f0"/><path d="M210.00,142.64L212.34,143.99L212.34,146.69L210.00,148.04L207.66,146.69L207.66,143.99Z" fill="#d8c8f0" stroke="#b040f0" stroke-width="0.8" stroke-linejoin="miter"/><path d="M210.00,142.64L210.00,142.64L210.00,148.04L210.00,148.04L207.66,146.69L207.66,143.99Z" fill="#b040f0"/><path d="M212.00,144.80L214.34,146.15L214.34,148.85L212.00,150.20L209.66,148.85L209.66,146.15Z" fill="#d8c8f0" stroke="#b040f0" stroke-width="0.8" stroke-linejoin="miter"/><path d="M212.00,144.80L212.00,144.80L212.00,150.20L212.00,150.20L209.66,148.85L209.66,146.15Z" fill="#b040f0"/><path d="M214.00,146.79L216.34,148.14L216.34,150.84L214.00,152.19L211.66,150.84L211.66,148.14Z" fill="#d8c8f0" stroke="#b040f0" stroke-width="0.8" stroke-linejoin="miter"/><path d="M214.00,146.79L214.00,146.79L214.00,152.19L214.00,152.19L211.66,150.84L211.66,148.14Z" fill="#b040f0"/><path d="M216.00,148.64L218.34,149.99L218.34,152.69L216.00,154.04L213.66,152.69L213.66,149.99Z" fill="#d8c8f0" stroke="#b040f0" stroke-width="0.8" stroke-linejoin="miter"/><path d="M216.00,148.64L216.00,148.64L216.00,154.04L216.00,154.04L213.66,152.69L213.66,149.99Z" fill="#b040f0"/><path d="M218.00,150.32L220.34,151.67L220.34,154.37L218.00,155.72L215.66,154.37L215.66,151.67Z" fill="#d8c8f0" stroke="#b040f0" stroke-width="0.8" stroke-linejoin="miter"/><path d="M218.00,150.32L218.00,150.32L218.00,155.72L218.00,155.72L215.66,154.37L215.66,151.67Z" fill="#b040f0"/><path d="M220.00,151.80L222.34,153.15L222.34,155.85L220.00,157.20L217.66,155.85L217.66,153.15Z" fill="#d8c8f0" stroke="#b040f0" stroke-width="0.8" stroke-linejoin="miter"/><path d="M220.00,151.80L220.00,151.80L220.00,157.20L220.00,157.20L217.66,155.85L217.66,153.15Z" fill="#b040f0"/><path d="M222.00,153.11L224.34,154.46L224.34,157.16L222.00,158.51L219.66,157.16L219.66,154.46Z" fill="#d8c8f0" stroke="#b040f0" stroke-width="0.8" stroke-linejoin="miter"/><path d="M222.00,153.11L222.00,153.11L222.00,158.51L222.00,158.51L219.66,157.16L219.66,154.46Z" fill="#b040f0"/><path d="M224.00,154.34L226.34,155.69L226.34,158.39L224.00,159.74L221.66,158.39L221.66,155.69Z" fill="#d8c8f0" stroke="#b040f0" stroke-width="0.8" stroke-linejoin="miter"/><path d="M224.00,154.34L224.00,154.34L224.00,159.74L224.00,159.74L221.66,158.39L221.66,155.69Z" fill="#b040f0"/><path d="M226.00,155.49L228.34,156.84L228.34,159.54L226.00,160.89L223.66,159.54L223.66,156.84Z" fill="#d8c8f0" stroke="#b040f0" stroke-width="0.8" stroke-linejoin="miter"/><path d="M226.00,155.49L226.00,155.49L226.00,160.89L226.00,160.89L223.66,159.54L223.66,156.84Z" fill="#b040f0"/><path d="M228.00,156.56L230.34,157.91L230.34,160.61L228.00,161.96L225.66,160.61L225.66,157.91Z" fill="#d8c8f0" stroke="#b040f0" stroke-width="0.8" stroke-linejoin="miter"/><path d="M228.00,156.56L228.00,156.56L228.00,161.96L228.00,161.96L225.66,160.61L225.66,157.91Z" fill="#b040f0"/><path d="M230.00,157.57L232.34,158.92L232.34,161.62L230.00,162.97L227.66,161.62L227.66,158.92Z" fill="#d8c8f0" stroke="#b040f0" stroke-width="0.8" stroke-linejoin="miter"/><path d="M230.00,157.57L230.00,157.57L230.00,162.97L230.00,162.97L227.66,161.62L227.66,158.92Z" fill="#b040f0"/><path d="M232.00,158.50L234.34,159.85L234.34,162.55L232.00,163.90L229.66,162.55L229.66,159.85Z" fill="#d8c8f0" stroke="#b040f0" stroke-width="0.8" stroke-linejoin="miter"/><path d="M232.00,158.50L232.00,158.50L232.00,163.90L232.00,163.90L229.66,162.55L229.66,159.85Z" fill="#b040f0"/><path d="M234.00,159.38L236.34,160.73L236.34,163.43L234.00,164.78L231.66,163.43L231.66,160.73Z" fill="#d8c8f0" stroke="#b040f0" stroke-width="0.8" stroke-linejoin="miter"/><path d="M234.00,159.38L234.00,159.38L234.00,164.78L234.00,164.78L231.66,163.43L231.66,160.73Z" fill="#b040f0"/><path d="M236.00,160.21L238.34,161.56L238.34,164.26L236.00,165.61L233.66,164.26L233.66,161.56Z" fill="#d8c8f0" stroke="#b040f0" stroke-width="0.8" stroke-linejoin="miter"/><path d="M236.00,160.21L236.00,160.21L236.00,165.61L236.00,165.61L233.66,164.26L233.66,161.56Z" fill="#b040f0"/><path d="M238.00,161.00L240.34,162.35L240.34,165.05L238.00,166.40L235.66,165.05L235.66,162.35Z" fill="#d8c8f0" stroke="#b040f0" stroke-width="0.8" stroke-linejoin="miter"/><path d="M238.00,161.00L238.00,161.00L238.00,166.40L238.00,166.40L235.66,165.05L235.66,162.35Z" fill="#b040f0"/><path d="M240.00,161.77L242.34,163.12L242.34,165.82L240.00,167.17L237.66,165.82L237.66,163.12Z" fill="#d8c8f0" stroke="#b040f0" stroke-width="0.8" stroke-linejoin="miter"/><path d="M240.00,161.77L240.00,161.77L240.00,167.17L240.00,167.17L237.66,165.82L237.66,163.12Z" fill="#b040f0"/><path d="M242.00,162.49L244.34,163.84L244.34,166.54L242.00,167.89L239.66,166.54L239.66,163.84Z" fill="#d8c8f0" stroke="#b040f0" stroke-width="0.8" stroke-linejoin="miter"/><path d="M242.00,162.49L242.00,162.49L242.00,167.89L242.00,167.89L239.66,166.54L239.66,163.84Z" fill="#b040f0"/><path d="M244.00,163.18L246.34,164.53L246.34,167.23L244.00,168.58L241.66,167.23L241.66,164.53Z" fill="#d8c8f0" stroke="#b040f0" stroke-width="0.8" stroke-linejoin="miter"/><path d="M244.00,163.18L244.00,163.18L244.00,168.58L244.00,168.58L241.66,167.23L241.66,164.53Z" fill="#b040f0"/><path d="M246.00,163.82L248.34,165.17L248.34,167.87L246.00,169.22L243.66,167.87L243.66,165.17Z" fill="#d8c8f0" stroke="#b040f0" stroke-width="0.8" stroke-linejoin="miter"/><path d="M246.00,163.82L246.00,163.82L246.00,169.22L246.00,169.22L243.66,167.87L243.66,165.17Z" fill="#b040f0"/><path d="M248.00,164.41L250.34,165.76L250.34,168.46L248.00,169.81L245.66,168.46L245.66,165.76Z" fill="#d8c8f0" stroke="#b040f0" stroke-width="0.8" stroke-linejoin="miter"/><path d="M248.00,164.41L248.00,164.41L248.00,169.81L248.00,169.81L245.66,168.46L245.66,165.76Z" fill="#b040f0"/><path d="M250.00,164.94L252.34,166.29L252.34,168.99L250.00,170.34L247.66,168.99L247.66,166.29Z" fill="#d8c8f0" stroke="#b040f0" stroke-width="0.8" stroke-linejoin="miter"/><path d="M250.00,164.94L250.00,164.94L250.00,170.34L250.00,170.34L247.66,168.99L247.66,166.29Z" fill="#b040f0"/><path d="M251.50,165.30L253.84,166.65L253.84,169.35L251.50,170.70L249.16,169.35L249.16,166.65Z" fill="#d8c8f0" stroke="#b040f0" stroke-width="0.8" stroke-linejoin="miter"/><path d="M251.50,165.30L251.50,165.30L251.50,170.70L251.50,170.70L249.16,169.35L249.16,166.65Z" fill="#b040f0"/>
<polyline points="74.00,139.50 74.50,139.47 76.50,139.34 78.50,139.19 80.50,139.02 82.50,138.83 84.50,138.62 86.50,138.39 88.50,138.15 90.50,137.90 92.50,137.64 94.50,137.37 96.50,137.08 98.50,136.77 100.50,136.43 102.50,136.06 104.50,135.67 106.50,135.25 108.50,134.82 110.50,134.36 112.50,133.89 114.50,133.40 116.50,132.90 118.50,132.39 120.50,131.87 122.50,131.31 124.50,130.71 126.50,130.06 128.50,129.36 130.50,128.61 132.50,127.82 134.50,126.82 136.50,125.14 138.50,122.58 140.50,119.83 142.50,116.90 144.50,112.40 146.50,106.28 148.50,98.40 150.50,87.47 152.50,77.42 154.50,67.15 156.50,59.33 158.50,55.60 160.50,55.73 162.50,56.81 164.50,59.05 166.50,61.58 168.50,64.48 170.50,67.79 172.50,71.91 174.50,77.03 176.50,82.48 178.50,88.31 180.50,94.20 182.50,100.14 184.50,106.09 186.50,112.08 188.50,117.97 190.50,124.09 192.50,129.72 194.50,133.92 196.50,137.19 198.50,140.00 200.50,142.59 202.50,144.95 204.50,147.03 206.50,148.81 208.50,150.38 210.50,151.81 212.50,153.20 214.50,154.63 216.50,156.22 218.50,157.84 220.50,159.05 222.50,159.96 224.50,160.75 226.50,161.45 228.50,162.09 230.50,162.68 232.50,163.26 234.50,163.85 236.50,164.45 238.50,165.05 240.50,165.63 242.50,166.19 244.50,166.74 246.50,167.27 248.50,167.77 250.50,168.26 251.50,168.50" fill="none" stroke="#ff7f27" stroke-width="1.0"/>
<path d="M76.75,139.50L71.53,136.60L71.53,142.40Z" fill="#ffe0c0" stroke="#ff7f27" stroke-width="0.7" stroke-linejoin="miter"/><path d="M76.75,139.50L72.26,137.00L72.26,142.00Z" fill="#ff7f27"/><path d="M77.25,139.47L72.03,136.57L72.03,142.37Z" fill="#ffe0c0" stroke="#ff7f27" stroke-width="0.7" stroke-linejoin="miter"/><path d="M77.25,139.47L72.76,136.97L72.76,141.97Z" fill="#ff7f27"/><path d="M79.25,139.34L74.03,136.44L74.03,142.24Z" fill="#ffe0c0" stroke="#ff7f27" stroke-width="0.7" stroke-linejoin="miter"/><path d="M79.25,139.34L74.76,136.84L74.76,141.84Z" fill="#ff7f27"/><path d="M81.25,139.19L76.03,136.29L76.03,142.09Z" fill="#ffe0c0" stroke="#ff7f27" stroke-width="0.7" stroke-linejoin="miter"/><path d="M81.25,139.19L76.76,136.69L76.76,141.69Z" fill="#ff7f27"/><path d="M83.25,139.02L78.03,136.12L78.03,141.92Z" fill="#ffe0c0" stroke="#ff7f27" stroke-width="0.7" stroke-linejoin="miter"/><path d="M83.25,139.02L78.76,136.52L78.76,141.52Z" fill="#ff7f27"/><path d="M85.25,138.83L80.03,135.93L80.03,141.73Z" fill="#ffe0c0" stroke="#ff7f27" stroke-width="0.7" stroke-linejoin="miter"/><path d="M85.25,138.83L80.76,136.33L80.76,141.32Z" fill="#ff7f27"/><path d="M87.25,138.62L82.03,135.72L82.03,141.52Z" fill="#ffe0c0" stroke="#ff7f27" stroke-width="0.7" stroke-linejoin="miter"/><path d="M87.25,138.62L82.76,136.12L82.76,141.12Z" fill="#ff7f27"/><path d="M89.25,138.39L84.03,135.49L84.03,141.29Z" fill="#ffe0c0" stroke="#ff7f27" stroke-width="0.7" stroke-linejoin="miter"/><path d="M89.25,138.39L84.76,135.90L84.76,140.89Z" fill="#ff7f27"/><path d="M91.25,138.15L86.03,135.25L86.03,141.05Z" fill="#ffe0c0" stroke="#ff7f27" stroke-width="0.7" stroke-linejoin="miter"/><path d="M91.25,138.15L86.76,135.66L86.76,140.65Z" fill="#ff7f27"/><path d="M93.25,137.90L88.03,135.00L88.03,140.80Z" fill="#ffe0c0" stroke="#ff7f27" stroke-width="0.7" stroke-linejoin="miter"/><path d="M93.25,137.90L88.76,135.41L88.76,140.40Z" fill="#ff7f27"/><path d="M95.25,137.64L90.03,134.74L90.03,140.54Z" fill="#ffe0c0" stroke="#ff7f27" stroke-width="0.7" stroke-linejoin="miter"/><path d="M95.25,137.64L90.76,135.14L90.76,140.14Z" fill="#ff7f27"/><path d="M97.25,137.37L92.03,134.47L92.03,140.27Z" fill="#ffe0c0" stroke="#ff7f27" stroke-width="0.7" stroke-linejoin="miter"/><path d="M97.25,137.37L92.76,134.87L92.76,139.87Z" fill="#ff7f27"/><path d="M99.25,137.08L94.03,134.18L94.03,139.98Z" fill="#ffe0c0" stroke="#ff7f27" stroke-width="0.7" stroke-linejoin="miter"/><path d="M99.25,137.08L94.76,134.59L94.76,139.58Z" fill="#ff7f27"/><path d="M101.25,136.77L96.03,133.87L96.03,139.67Z" fill="#ffe0c0" stroke="#ff7f27" stroke-width="0.7" stroke-linejoin="miter"/><path d="M101.25,136.77L96.76,134.27L96.76,139.27Z" fill="#ff7f27"/><path d="M103.25,136.43L98.03,133.53L98.03,139.33Z" fill="#ffe0c0" stroke="#ff7f27" stroke-width="0.7" stroke-linejoin="miter"/><path d="M103.25,136.43L98.76,133.93L98.76,138.92Z" fill="#ff7f27"/><path d="M105.25,136.06L100.03,133.16L100.03,138.96Z" fill="#ffe0c0" stroke="#ff7f27" stroke-width="0.7" stroke-linejoin="miter"/><path d="M105.25,136.06L100.76,133.56L100.76,138.56Z" fill="#ff7f27"/><path d="M107.25,135.67L102.03,132.77L102.03,138.57Z" fill="#ffe0c0" stroke="#ff7f27" stroke-width="0.7" stroke-linejoin="miter"/><path d="M107.25,135.67L102.76,133.17L102.76,138.16Z" fill="#ff7f27"/><path d="M109.25,135.25L104.03,132.35L104.03,138.15Z" fill="#ffe0c0" stroke="#ff7f27" stroke-width="0.7" stroke-linejoin="miter"/><path d="M109.25,135.25L104.76,132.75L104.76,137.75Z" fill="#ff7f27"/><path d="M111.25,134.82L106.03,131.92L106.03,137.72Z" fill="#ffe0c0" stroke="#ff7f27" stroke-width="0.7" stroke-linejoin="miter"/><path d="M111.25,134.82L106.76,132.32L106.76,137.31Z" fill="#ff7f27"/><path d="M113.25,134.36L108.03,131.46L108.03,137.26Z" fill="#ffe0c0" stroke="#ff7f27" stroke-width="0.7" stroke-linejoin="miter"/><path d="M113.25,134.36L108.76,131.87L108.76,136.86Z" fill="#ff7f27"/><path d="M115.25,133.89L110.03,130.99L110.03,136.79Z" fill="#ffe0c0" stroke="#ff7f27" stroke-width="0.7" stroke-linejoin="miter"/><path d="M115.25,133.89L110.76,131.39L110.76,136.39Z" fill="#ff7f27"/><path d="M117.25,133.40L112.03,130.50L112.03,136.30Z" fill="#ffe0c0" stroke="#ff7f27" stroke-width="0.7" stroke-linejoin="miter"/><path d="M117.25,133.40L112.76,130.91L112.76,135.90Z" fill="#ff7f27"/><path d="M119.25,132.90L114.03,130.00L114.03,135.80Z" fill="#ffe0c0" stroke="#ff7f27" stroke-width="0.7" stroke-linejoin="miter"/><path d="M119.25,132.90L114.76,130.41L114.76,135.40Z" fill="#ff7f27"/><path d="M121.25,132.39L116.03,129.49L116.03,135.29Z" fill="#ffe0c0" stroke="#ff7f27" stroke-width="0.7" stroke-linejoin="miter"/><path d="M121.25,132.39L116.76,129.89L116.76,134.89Z" fill="#ff7f27"/><path d="M123.25,131.87L118.03,128.97L118.03,134.77Z" fill="#ffe0c0" stroke="#ff7f27" stroke-width="0.7" stroke-linejoin="miter"/><path d="M123.25,131.87L118.76,129.37L118.76,134.36Z" fill="#ff7f27"/><path d="M125.25,131.31L120.03,128.41L120.03,134.21Z" fill="#ffe0c0" stroke="#ff7f27" stroke-width="0.7" stroke-linejoin="miter"/><path d="M125.25,131.31L120.76,128.81L120.76,133.81Z" fill="#ff7f27"/><path d="M127.25,130.71L122.03,127.81L122.03,133.61Z" fill="#ffe0c0" stroke="#ff7f27" stroke-width="0.7" stroke-linejoin="miter"/><path d="M127.25,130.71L122.76,128.21L122.76,133.21Z" fill="#ff7f27"/><path d="M129.25,130.06L124.03,127.16L124.03,132.96Z" fill="#ffe0c0" stroke="#ff7f27" stroke-width="0.7" stroke-linejoin="miter"/><path d="M129.25,130.06L124.76,127.56L124.76,132.56Z" fill="#ff7f27"/><path d="M131.25,129.36L126.03,126.46L126.03,132.26Z" fill="#ffe0c0" stroke="#ff7f27" stroke-width="0.7" stroke-linejoin="miter"/><path d="M131.25,129.36L126.76,126.86L126.76,131.86Z" fill="#ff7f27"/><path d="M133.25,128.61L128.03,125.71L128.03,131.51Z" fill="#ffe0c0" stroke="#ff7f27" stroke-width="0.7" stroke-linejoin="miter"/><path d="M133.25,128.61L128.76,126.11L128.76,131.11Z" fill="#ff7f27"/><path d="M135.25,127.82L130.03,124.92L130.03,130.72Z" fill="#ffe0c0" stroke="#ff7f27" stroke-width="0.7" stroke-linejoin="miter"/><path d="M135.25,127.82L130.76,125.33L130.76,130.32Z" fill="#ff7f27"/><path d="M137.25,126.82L132.03,123.92L132.03,129.72Z" fill="#ffe0c0" stroke="#ff7f27" stroke-width="0.7" stroke-linejoin="miter"/><path d="M137.25,126.82L132.76,124.32L132.76,129.31Z" fill="#ff7f27"/><path d="M139.25,125.14L134.03,122.24L134.03,128.04Z" fill="#ffe0c0" stroke="#ff7f27" stroke-width="0.7" stroke-linejoin="miter"/><path d="M139.25,125.14L134.76,122.64L134.76,127.64Z" fill="#ff7f27"/><path d="M141.25,122.58L136.03,119.68L136.03,125.48Z" fill="#ffe0c0" stroke="#ff7f27" stroke-width="0.7" stroke-linejoin="miter"/><path d="M141.25,122.58L136.76,120.08L136.76,125.07Z" fill="#ff7f27"/><path d="M143.25,119.83L138.03,116.93L138.03,122.73Z" fill="#ffe0c0" stroke="#ff7f27" stroke-width="0.7" stroke-linejoin="miter"/><path d="M143.25,119.83L138.76,117.33L138.76,122.33Z" fill="#ff7f27"/><path d="M145.25,116.90L140.03,114.00L140.03,119.80Z" fill="#ffe0c0" stroke="#ff7f27" stroke-width="0.7" stroke-linejoin="miter"/><path d="M145.25,116.90L140.76,114.40L140.76,119.40Z" fill="#ff7f27"/><path d="M147.25,112.40L142.03,109.50L142.03,115.30Z" fill="#ffe0c0" stroke="#ff7f27" stroke-width="0.7" stroke-linejoin="miter"/><path d="M147.25,112.40L142.76,109.90L142.76,114.89Z" fill="#ff7f27"/><path d="M149.25,106.28L144.03,103.38L144.03,109.18Z" fill="#ffe0c0" stroke="#ff7f27" stroke-width="0.7" stroke-linejoin="miter"/><path d="M149.25,106.28L144.76,103.78L144.76,108.78Z" fill="#ff7f27"/><path d="M151.25,98.40L146.03,95.50L146.03,101.30Z" fill="#ffe0c0" stroke="#ff7f27" stroke-width="0.7" stroke-linejoin="miter"/><path d="M151.25,98.40L146.76,95.91L146.76,100.90Z" fill="#ff7f27"/><path d="M153.25,87.47L148.03,84.57L148.03,90.37Z" fill="#ffe0c0" stroke="#ff7f27" stroke-width="0.7" stroke-linejoin="miter"/><path d="M153.25,87.47L148.76,84.98L148.76,89.97Z" fill="#ff7f27"/><path d="M155.25,77.42L150.03,74.52L150.03,80.32Z" fill="#ffe0c0" stroke="#ff7f27" stroke-width="0.7" stroke-linejoin="miter"/><path d="M155.25,77.42L150.76,74.92L150.76,79.92Z" fill="#ff7f27"/><path d="M157.25,67.15L152.03,64.25L152.03,70.05Z" fill="#ffe0c0" stroke="#ff7f27" stroke-width="0.7" stroke-linejoin="miter"/><path d="M157.25,67.15L152.76,64.66L152.76,69.65Z" fill="#ff7f27"/><path d="M159.25,59.33L154.03,56.43L154.03,62.23Z" fill="#ffe0c0" stroke="#ff7f27" stroke-width="0.7" stroke-linejoin="miter"/><path d="M159.25,59.33L154.76,56.83L154.76,61.83Z" fill="#ff7f27"/><path d="M161.25,55.60L156.03,52.70L156.03,58.50Z" fill="#ffe0c0" stroke="#ff7f27" stroke-width="0.7" stroke-linejoin="miter"/><path d="M161.25,55.60L156.76,53.10L156.76,58.10Z" fill="#ff7f27"/><path d="M163.25,55.73L158.03,52.83L158.03,58.63Z" fill="#ffe0c0" stroke="#ff7f27" stroke-width="0.7" stroke-linejoin="miter"/><path d="M163.25,55.73L158.76,53.24L158.76,58.23Z" fill="#ff7f27"/><path d="M165.25,56.81L160.03,53.91L160.03,59.71Z" fill="#ffe0c0" stroke="#ff7f27" stroke-width="0.7" stroke-linejoin="miter"/><path d="M165.25,56.81L160.76,54.31L160.76,59.31Z" fill="#ff7f27"/><path d="M167.25,59.05L162.03,56.15L162.03,61.95Z" fill="#ffe0c0" stroke="#ff7f27" stroke-width="0.7" stroke-linejoin="miter"/><path d="M167.25,59.05L162.76,56.55L162.76,61.55Z" fill="#ff7f27"/><path d="M169.25,61.58L164.03,58.68L164.03,64.48Z" fill="#ffe0c0" stroke="#ff7f27" stroke-width="0.7" stroke-linejoin="miter"/><path d="M169.25,61.58L164.76,59.09L164.76,64.08Z" fill="#ff7f27"/><path d="M171.25,64.48L166.03,61.58L166.03,67.38Z" fill="#ffe0c0" stroke="#ff7f27" stroke-width="0.7" stroke-linejoin="miter"/><path d="M171.25,64.48L166.76,61.99L166.76,66.98Z" fill="#ff7f27"/><path d="M173.25,67.79L168.03,64.89L168.03,70.69Z" fill="#ffe0c0" stroke="#ff7f27" stroke-width="0.7" stroke-linejoin="miter"/><path d="M173.25,67.79L168.76,65.29L168.76,70.29Z" fill="#ff7f27"/><path d="M175.25,71.91L170.03,69.01L170.03,74.81Z" fill="#ffe0c0" stroke="#ff7f27" stroke-width="0.7" stroke-linejoin="miter"/><path d="M175.25,71.91L170.76,69.41L170.76,74.41Z" fill="#ff7f27"/><path d="M177.25,77.03L172.03,74.13L172.03,79.93Z" fill="#ffe0c0" stroke="#ff7f27" stroke-width="0.7" stroke-linejoin="miter"/><path d="M177.25,77.03L172.76,74.54L172.76,79.53Z" fill="#ff7f27"/><path d="M179.25,82.48L174.03,79.58L174.03,85.38Z" fill="#ffe0c0" stroke="#ff7f27" stroke-width="0.7" stroke-linejoin="miter"/><path d="M179.25,82.48L174.76,79.98L174.76,84.98Z" fill="#ff7f27"/><path d="M181.25,88.31L176.03,85.41L176.03,91.21Z" fill="#ffe0c0" stroke="#ff7f27" stroke-width="0.7" stroke-linejoin="miter"/><path d="M181.25,88.31L176.76,85.81L176.76,90.81Z" fill="#ff7f27"/><path d="M183.25,94.20L178.03,91.30L178.03,97.10Z" fill="#ffe0c0" stroke="#ff7f27" stroke-width="0.7" stroke-linejoin="miter"/><path d="M183.25,94.20L178.76,91.71L178.76,96.70Z" fill="#ff7f27"/><path d="M185.25,100.14L180.03,97.24L180.03,103.04Z" fill="#ffe0c0" stroke="#ff7f27" stroke-width="0.7" stroke-linejoin="miter"/><path d="M185.25,100.14L180.76,97.64L180.76,102.63Z" fill="#ff7f27"/><path d="M187.25,106.09L182.03,103.19L182.03,108.99Z" fill="#ffe0c0" stroke="#ff7f27" stroke-width="0.7" stroke-linejoin="miter"/><path d="M187.25,106.09L182.76,103.59L182.76,108.59Z" fill="#ff7f27"/><path d="M189.25,112.08L184.03,109.18L184.03,114.98Z" fill="#ffe0c0" stroke="#ff7f27" stroke-width="0.7" stroke-linejoin="miter"/><path d="M189.25,112.08L184.76,109.58L184.76,114.58Z" fill="#ff7f27"/><path d="M191.25,117.97L186.03,115.07L186.03,120.87Z" fill="#ffe0c0" stroke="#ff7f27" stroke-width="0.7" stroke-linejoin="miter"/><path d="M191.25,117.97L186.76,115.48L186.76,120.47Z" fill="#ff7f27"/><path d="M193.25,124.09L188.03,121.19L188.03,126.99Z" fill="#ffe0c0" stroke="#ff7f27" stroke-width="0.7" stroke-linejoin="miter"/><path d="M193.25,124.09L188.76,121.60L188.76,126.59Z" fill="#ff7f27"/><path d="M195.25,129.72L190.03,126.82L190.03,132.62Z" fill="#ffe0c0" stroke="#ff7f27" stroke-width="0.7" stroke-linejoin="miter"/><path d="M195.25,129.72L190.76,127.22L190.76,132.22Z" fill="#ff7f27"/><path d="M197.25,133.92L192.03,131.02L192.03,136.82Z" fill="#ffe0c0" stroke="#ff7f27" stroke-width="0.7" stroke-linejoin="miter"/><path d="M197.25,133.92L192.76,131.42L192.76,136.41Z" fill="#ff7f27"/><path d="M199.25,137.19L194.03,134.29L194.03,140.09Z" fill="#ffe0c0" stroke="#ff7f27" stroke-width="0.7" stroke-linejoin="miter"/><path d="M199.25,137.19L194.76,134.69L194.76,139.68Z" fill="#ff7f27"/><path d="M201.25,140.00L196.03,137.10L196.03,142.90Z" fill="#ffe0c0" stroke="#ff7f27" stroke-width="0.7" stroke-linejoin="miter"/><path d="M201.25,140.00L196.76,137.50L196.76,142.50Z" fill="#ff7f27"/><path d="M203.25,142.59L198.03,139.69L198.03,145.49Z" fill="#ffe0c0" stroke="#ff7f27" stroke-width="0.7" stroke-linejoin="miter"/><path d="M203.25,142.59L198.76,140.10L198.76,145.09Z" fill="#ff7f27"/><path d="M205.25,144.95L200.03,142.05L200.03,147.85Z" fill="#ffe0c0" stroke="#ff7f27" stroke-width="0.7" stroke-linejoin="miter"/><path d="M205.25,144.95L200.76,142.45L200.76,147.45Z" fill="#ff7f27"/><path d="M207.25,147.03L202.03,144.13L202.03,149.93Z" fill="#ffe0c0" stroke="#ff7f27" stroke-width="0.7" stroke-linejoin="miter"/><path d="M207.25,147.03L202.76,144.53L202.76,149.53Z" fill="#ff7f27"/><path d="M209.25,148.81L204.03,145.91L204.03,151.71Z" fill="#ffe0c0" stroke="#ff7f27" stroke-width="0.7" stroke-linejoin="miter"/><path d="M209.25,148.81L204.76,146.31L204.76,151.31Z" fill="#ff7f27"/><path d="M211.25,150.38L206.03,147.48L206.03,153.28Z" fill="#ffe0c0" stroke="#ff7f27" stroke-width="0.7" stroke-linejoin="miter"/><path d="M211.25,150.38L206.76,147.88L206.76,152.87Z" fill="#ff7f27"/><path d="M213.25,151.81L208.03,148.91L208.03,154.71Z" fill="#ffe0c0" stroke="#ff7f27" stroke-width="0.7" stroke-linejoin="miter"/><path d="M213.25,151.81L208.76,149.31L208.76,154.31Z" fill="#ff7f27"/><path d="M215.25,153.20L210.03,150.30L210.03,156.10Z" fill="#ffe0c0" stroke="#ff7f27" stroke-width="0.7" stroke-linejoin="miter"/><path d="M215.25,153.20L210.76,150.70L210.76,155.70Z" fill="#ff7f27"/><path d="M217.25,154.63L212.03,151.73L212.03,157.53Z" fill="#ffe0c0" stroke="#ff7f27" stroke-width="0.7" stroke-linejoin="miter"/><path d="M217.25,154.63L212.76,152.13L212.76,157.12Z" fill="#ff7f27"/><path d="M219.25,156.22L214.03,153.32L214.03,159.12Z" fill="#ffe0c0" stroke="#ff7f27" stroke-width="0.7" stroke-linejoin="miter"/><path d="M219.25,156.22L214.76,153.72L214.76,158.71Z" fill="#ff7f27"/><path d="M221.25,157.84L216.03,154.94L216.03,160.74Z" fill="#ffe0c0" stroke="#ff7f27" stroke-width="0.7" stroke-linejoin="miter"/><path d="M221.25,157.84L216.76,155.35L216.76,160.34Z" fill="#ff7f27"/><path d="M223.25,159.05L218.03,156.15L218.03,161.95Z" fill="#ffe0c0" stroke="#ff7f27" stroke-width="0.7" stroke-linejoin="miter"/><path d="M223.25,159.05L218.76,156.55L218.76,161.55Z" fill="#ff7f27"/><path d="M225.25,159.96L220.03,157.06L220.03,162.86Z" fill="#ffe0c0" stroke="#ff7f27" stroke-width="0.7" stroke-linejoin="miter"/><path d="M225.25,159.96L220.76,157.46L220.76,162.46Z" fill="#ff7f27"/><path d="M227.25,160.75L222.03,157.85L222.03,163.65Z" fill="#ffe0c0" stroke="#ff7f27" stroke-width="0.7" stroke-linejoin="miter"/><path d="M227.25,160.75L222.76,158.26L222.76,163.25Z" fill="#ff7f27"/><path d="M229.25,161.45L224.03,158.55L224.03,164.35Z" fill="#ffe0c0" stroke="#ff7f27" stroke-width="0.7" stroke-linejoin="miter"/><path d="M229.25,161.45L224.76,158.96L224.76,163.95Z" fill="#ff7f27"/><path d="M231.25,162.09L226.03,159.19L226.03,164.99Z" fill="#ffe0c0" stroke="#ff7f27" stroke-width="0.7" stroke-linejoin="miter"/><path d="M231.25,162.09L226.76,159.59L226.76,164.59Z" fill="#ff7f27"/><path d="M233.25,162.68L228.03,159.78L228.03,165.58Z" fill="#ffe0c0" stroke="#ff7f27" stroke-width="0.7" stroke-linejoin="miter"/><path d="M233.25,162.68L228.76,160.18L228.76,165.18Z" fill="#ff7f27"/><path d="M235.25,163.26L230.03,160.36L230.03,166.16Z" fill="#ffe0c0" stroke="#ff7f27" stroke-width="0.7" stroke-linejoin="miter"/><path d="M235.25,163.26L230.76,160.76L230.76,165.76Z" fill="#ff7f27"/><path d="M237.25,163.85L232.03,160.95L232.03,166.75Z" fill="#ffe0c0" stroke="#ff7f27" stroke-width="0.7" stroke-linejoin="miter"/><path d="M237.25,163.85L232.76,161.35L232.76,166.35Z" fill="#ff7f27"/><path d="M239.25,164.45L234.03,161.55L234.03,167.35Z" fill="#ffe0c0" stroke="#ff7f27" stroke-width="0.7" stroke-linejoin="miter"/><path d="M239.25,164.45L234.76,161.96L234.76,166.95Z" fill="#ff7f27"/><path d="M241.25,165.05L236.03,162.15L236.03,167.95Z" fill="#ffe0c0" stroke="#ff7f27" stroke-width="0.7" stroke-linejoin="miter"/><path d="M241.25,165.05L236.76,162.55L236.76,167.55Z" fill="#ff7f27"/><path d="M243.25,165.63L238.03,162.73L238.03,168.53Z" fill="#ffe0c0" stroke="#ff7f27" stroke-width="0.7" stroke-linejoin="miter"/><path d="M243.25,165.63L238.76,163.13L238.76,168.13Z" fill="#ff7f27"/><path d="M245.25,166.19L240.03,163.29L240.03,169.09Z" fill="#ffe0c0" stroke="#ff7f27" stroke-width="0.7" stroke-linejoin="miter"/><path d="M245.25,166.19L240.76,163.69L240.76,168.69Z" fill="#ff7f27"/><path d="M247.25,166.74L242.03,163.84L242.03,169.64Z" fill="#ffe0c0" stroke="#ff7f27" stroke-width="0.7" stroke-linejoin="miter"/><path d="M247.25,166.74L242.76,164.24L242.76,169.23Z" fill="#ff7f27"/><path d="M249.25,167.27L244.03,164.37L244.03,170.17Z" fill="#ffe0c0" stroke="#ff7f27" stroke-width="0.7" stroke-linejoin="miter"/><path d="M249.25,167.27L244.76,164.77L244.76,169.76Z" fill="#ff7f27"/><path d="M251.25,167.77L246.03,164.87L246.03,170.67Z" fill="#ffe0c0" stroke="#ff7f27" stroke-width="0.7" stroke-linejoin="miter"/><path d="M251.25,167.77L246.76,165.28L246.76,170.27Z" fill="#ff7f27"/><path d="M253.25,168.26L248.03,165.36L248.03,171.16Z" fill="#ffe0c0" stroke="#ff7f27" stroke-width="0.7" stroke-linejoin="miter"/><path d="M253.25,168.26L248.76,165.77L248.76,170.76Z" fill="#ff7f27"/><path d="M254.25,168.50L249.03,165.60L249.03,171.40Z" fill="#ffe0c0" stroke="#ff7f27" stroke-width="0.7" stroke-linejoin="miter"/><path d="M254.25,168.50L249.76,166.00L249.76,171.00Z" fill="#ff7f27"/>
<polyline points="66.00,154.30 68.00,154.05 70.00,153.75 72.00,153.39 74.00,152.98 76.00,152.54 78.00,152.04 80.00,151.43 82.00,150.71 84.00,149.91 86.00,149.06 88.00,148.20 90.00,147.35 92.00,146.55 94.00,145.82 96.00,145.20 98.00,144.62 100.00,144.07 102.00,143.55 104.00,143.05 106.00,142.56 108.00,142.09 110.00,141.65 112.00,141.21 114.00,140.74 116.00,140.24 118.00,139.68 120.00,139.09 122.00,138.53 124.00,138.02 126.00,137.59 128.00,137.16 130.00,136.73 132.00,136.33 134.00,135.99 136.00,135.74 138.00,135.61 140.00,135.68 142.00,136.10 144.00,136.79 146.00,137.64 148.00,138.54 150.00,139.40 152.00,140.25 154.00,141.20 156.00,142.21 158.00,143.25 160.00,144.31 162.00,145.35 164.00,146.36 166.00,147.37 168.00,148.40 170.00,149.44 172.00,150.50 174.00,151.68 176.00,152.94 178.00,154.11 180.00,155.00 182.00,155.61 184.00,156.11 186.00,156.52 188.00,156.90 190.00,157.28 192.00,157.70 194.00,158.20 196.00,158.84 198.00,159.68 200.00,160.63 202.00,161.63 204.00,162.57 206.00,163.41 208.00,164.23 210.00,165.04 212.00,165.83 214.00,166.59 216.00,167.30 218.00,167.94 220.00,168.50 222.00,168.99 224.00,169.44 226.00,169.86 228.00,170.24 230.00,170.61 232.00,170.97 234.00,171.32 236.00,171.68 238.00,172.03 240.00,172.38 242.00,172.72 244.00,173.05 246.00,173.37 248.00,173.68 250.00,173.98" fill="none" stroke="#20b420" stroke-width="1.0"/>
<path d="M63.44,154.30L68.30,151.60L68.30,157.00Z" fill="#a0e0a0" stroke="#20b420" stroke-width="0.8" stroke-linejoin="miter"/><path d="M63.44,154.30L65.86,152.95L65.86,155.65Z" fill="#20b420"/><path d="M65.44,154.05L70.30,151.35L70.30,156.75Z" fill="#a0e0a0" stroke="#20b420" stroke-width="0.8" stroke-linejoin="miter"/><path d="M65.44,154.05L67.86,152.70L67.86,155.40Z" fill="#20b420"/><path d="M67.44,153.75L72.30,151.05L72.30,156.45Z" fill="#a0e0a0" stroke="#20b420" stroke-width="0.8" stroke-linejoin="miter"/><path d="M67.44,153.75L69.86,152.40L69.86,155.10Z" fill="#20b420"/><path d="M69.44,153.39L74.30,150.69L74.30,156.09Z" fill="#a0e0a0" stroke="#20b420" stroke-width="0.8" stroke-linejoin="miter"/><path d="M69.44,153.39L71.86,152.04L71.86,154.74Z" fill="#20b420"/><path d="M71.44,152.98L76.30,150.28L76.30,155.68Z" fill="#a0e0a0" stroke="#20b420" stroke-width="0.8" stroke-linejoin="miter"/><path d="M71.44,152.98L73.86,151.63L73.86,154.33Z" fill="#20b420"/><path d="M73.44,152.54L78.30,149.84L78.30,155.24Z" fill="#a0e0a0" stroke="#20b420" stroke-width="0.8" stroke-linejoin="miter"/><path d="M73.44,152.54L75.86,151.19L75.86,153.89Z" fill="#20b420"/><path d="M75.44,152.04L80.30,149.34L80.30,154.74Z" fill="#a0e0a0" stroke="#20b420" stroke-width="0.8" stroke-linejoin="miter"/><path d="M75.44,152.04L77.86,150.69L77.86,153.39Z" fill="#20b420"/><path d="M77.44,151.43L82.30,148.73L82.30,154.13Z" fill="#a0e0a0" stroke="#20b420" stroke-width="0.8" stroke-linejoin="miter"/><path d="M77.44,151.43L79.86,150.08L79.86,152.78Z" fill="#20b420"/><path d="M79.44,150.71L84.30,148.01L84.30,153.41Z" fill="#a0e0a0" stroke="#20b420" stroke-width="0.8" stroke-linejoin="miter"/><path d="M79.44,150.71L81.86,149.36L81.86,152.06Z" fill="#20b420"/><path d="M81.44,149.91L86.30,147.21L86.30,152.61Z" fill="#a0e0a0" stroke="#20b420" stroke-width="0.8" stroke-linejoin="miter"/><path d="M81.44,149.91L83.86,148.56L83.86,151.26Z" fill="#20b420"/><path d="M83.44,149.06L88.30,146.36L88.30,151.76Z" fill="#a0e0a0" stroke="#20b420" stroke-width="0.8" stroke-linejoin="miter"/><path d="M83.44,149.06L85.86,147.71L85.86,150.41Z" fill="#20b420"/><path d="M85.44,148.20L90.30,145.50L90.30,150.90Z" fill="#a0e0a0" stroke="#20b420" stroke-width="0.8" stroke-linejoin="miter"/><path d="M85.44,148.20L87.86,146.85L87.86,149.55Z" fill="#20b420"/><path d="M87.44,147.35L92.30,144.65L92.30,150.05Z" fill="#a0e0a0" stroke="#20b420" stroke-width="0.8" stroke-linejoin="miter"/><path d="M87.44,147.35L89.86,146.00L89.86,148.70Z" fill="#20b420"/><path d="M89.44,146.55L94.30,143.85L94.30,149.25Z" fill="#a0e0a0" stroke="#20b420" stroke-width="0.8" stroke-linejoin="miter"/><path d="M89.44,146.55L91.86,145.20L91.86,147.90Z" fill="#20b420"/><path d="M91.44,145.82L96.30,143.12L96.30,148.52Z" fill="#a0e0a0" stroke="#20b420" stroke-width="0.8" stroke-linejoin="miter"/><path d="M91.44,145.82L93.86,144.47L93.86,147.17Z" fill="#20b420"/><path d="M93.44,145.20L98.30,142.50L98.30,147.90Z" fill="#a0e0a0" stroke="#20b420" stroke-width="0.8" stroke-linejoin="miter"/><path d="M93.44,145.20L95.86,143.85L95.86,146.55Z" fill="#20b420"/><path d="M95.44,144.62L100.30,141.92L100.30,147.32Z" fill="#a0e0a0" stroke="#20b420" stroke-width="0.8" stroke-linejoin="miter"/><path d="M95.44,144.62L97.86,143.27L97.86,145.97Z" fill="#20b420"/><path d="M97.44,144.07L102.30,141.37L102.30,146.77Z" fill="#a0e0a0" stroke="#20b420" stroke-width="0.8" stroke-linejoin="miter"/><path d="M97.44,144.07L99.86,142.72L99.86,145.42Z" fill="#20b420"/><path d="M99.44,143.55L104.30,140.85L104.30,146.25Z" fill="#a0e0a0" stroke="#20b420" stroke-width="0.8" stroke-linejoin="miter"/><path d="M99.44,143.55L101.86,142.20L101.86,144.90Z" fill="#20b420"/><path d="M101.44,143.05L106.30,140.35L106.30,145.75Z" fill="#a0e0a0" stroke="#20b420" stroke-width="0.8" stroke-linejoin="miter"/><path d="M101.44,143.05L103.86,141.70L103.86,144.40Z" fill="#20b420"/><path d="M103.44,142.56L108.30,139.86L108.30,145.26Z" fill="#a0e0a0" stroke="#20b420" stroke-width="0.8" stroke-linejoin="miter"/><path d="M103.44,142.56L105.86,141.21L105.86,143.91Z" fill="#20b420"/><path d="M105.44,142.09L110.30,139.39L110.30,144.79Z" fill="#a0e0a0" stroke="#20b420" stroke-width="0.8" stroke-linejoin="miter"/><path d="M105.44,142.09L107.86,140.74L107.86,143.44Z" fill="#20b420"/><path d="M107.44,141.65L112.30,138.95L112.30,144.35Z" fill="#a0e0a0" stroke="#20b420" stroke-width="0.8" stroke-linejoin="miter"/><path d="M107.44,141.65L109.86,140.30L109.86,143.00Z" fill="#20b420"/><path d="M109.44,141.21L114.30,138.51L114.30,143.91Z" fill="#a0e0a0" stroke="#20b420" stroke-width="0.8" stroke-linejoin="miter"/><path d="M109.44,141.21L111.86,139.86L111.86,142.56Z" fill="#20b420"/><path d="M111.44,140.74L116.30,138.04L116.30,143.44Z" fill="#a0e0a0" stroke="#20b420" stroke-width="0.8" stroke-linejoin="miter"/><path d="M111.44,140.74L113.86,139.39L113.86,142.09Z" fill="#20b420"/><path d="M113.44,140.24L118.30,137.54L118.30,142.94Z" fill="#a0e0a0" stroke="#20b420" stroke-width="0.8" stroke-linejoin="miter"/><path d="M113.44,140.24L115.86,138.89L115.86,141.59Z" fill="#20b420"/><path d="M115.44,139.68L120.30,136.98L120.30,142.38Z" fill="#a0e0a0" stroke="#20b420" stroke-width="0.8" stroke-linejoin="miter"/><path d="M115.44,139.68L117.86,138.33L117.86,141.03Z" fill="#20b420"/><path d="M117.44,139.09L122.30,136.39L122.30,141.79Z" fill="#a0e0a0" stroke="#20b420" stroke-width="0.8" stroke-linejoin="miter"/><path d="M117.44,139.09L119.86,137.74L119.86,140.44Z" fill="#20b420"/><path d="M119.44,138.53L124.30,135.83L124.30,141.23Z" fill="#a0e0a0" stroke="#20b420" stroke-width="0.8" stroke-linejoin="miter"/><path d="M119.44,138.53L121.86,137.18L121.86,139.88Z" fill="#20b420"/><path d="M121.44,138.02L126.30,135.32L126.30,140.72Z" fill="#a0e0a0" stroke="#20b420" stroke-width="0.8" stroke-linejoin="miter"/><path d="M121.44,138.02L123.86,136.67L123.86,139.37Z" fill="#20b420"/><path d="M123.44,137.59L128.29,134.89L128.29,140.29Z" fill="#a0e0a0" stroke="#20b420" stroke-width="0.8" stroke-linejoin="miter"/><path d="M123.44,137.59L125.86,136.24L125.86,138.94Z" fill="#20b420"/><path d="M125.44,137.16L130.29,134.46L130.29,139.86Z" fill="#a0e0a0" stroke="#20b420" stroke-width="0.8" stroke-linejoin="miter"/><path d="M125.44,137.16L127.86,135.81L127.86,138.51Z" fill="#20b420"/><path d="M127.44,136.73L132.29,134.03L132.29,139.43Z" fill="#a0e0a0" stroke="#20b420" stroke-width="0.8" stroke-linejoin="miter"/><path d="M127.44,136.73L129.87,135.38L129.87,138.08Z" fill="#20b420"/><path d="M129.44,136.33L134.29,133.63L134.29,139.03Z" fill="#a0e0a0" stroke="#20b420" stroke-width="0.8" stroke-linejoin="miter"/><path d="M129.44,136.33L131.87,134.98L131.87,137.68Z" fill="#20b420"/><path d="M131.44,135.99L136.29,133.29L136.29,138.69Z" fill="#a0e0a0" stroke="#20b420" stroke-width="0.8" stroke-linejoin="miter"/><path d="M131.44,135.99L133.87,134.64L133.87,137.34Z" fill="#20b420"/><path d="M133.44,135.74L138.29,133.04L138.29,138.44Z" fill="#a0e0a0" stroke="#20b420" stroke-width="0.8" stroke-linejoin="miter"/><path d="M133.44,135.74L135.87,134.39L135.87,137.09Z" fill="#20b420"/><path d="M135.44,135.61L140.29,132.91L140.29,138.31Z" fill="#a0e0a0" stroke="#20b420" stroke-width="0.8" stroke-linejoin="miter"/><path d="M135.44,135.61L137.87,134.26L137.87,136.96Z" fill="#20b420"/><path d="M137.44,135.68L142.29,132.98L142.29,138.38Z" fill="#a0e0a0" stroke="#20b420" stroke-width="0.8" stroke-linejoin="miter"/><path d="M137.44,135.68L139.87,134.33L139.87,137.03Z" fill="#20b420"/><path d="M139.44,136.10L144.29,133.40L144.29,138.80Z" fill="#a0e0a0" stroke="#20b420" stroke-width="0.8" stroke-linejoin="miter"/><path d="M139.44,136.10L141.87,134.75L141.87,137.45Z" fill="#20b420"/><path d="M141.44,136.79L146.29,134.09L146.29,139.49Z" fill="#a0e0a0" stroke="#20b420" stroke-width="0.8" stroke-linejoin="miter"/><path d="M141.44,136.79L143.87,135.44L143.87,138.14Z" fill="#20b420"/><path d="M143.44,137.64L148.29,134.94L148.29,140.34Z" fill="#a0e0a0" stroke="#20b420" stroke-width="0.8" stroke-linejoin="miter"/><path d="M143.44,137.64L145.87,136.29L145.87,138.99Z" fill="#20b420"/><path d="M145.44,138.54L150.29,135.84L150.29,141.24Z" fill="#a0e0a0" stroke="#20b420" stroke-width="0.8" stroke-linejoin="miter"/><path d="M145.44,138.54L147.87,137.19L147.87,139.89Z" fill="#20b420"/><path d="M147.44,139.40L152.29,136.70L152.29,142.10Z" fill="#a0e0a0" stroke="#20b420" stroke-width="0.8" stroke-linejoin="miter"/><path d="M147.44,139.40L149.87,138.05L149.87,140.75Z" fill="#20b420"/><path d="M149.44,140.25L154.29,137.55L154.29,142.95Z" fill="#a0e0a0" stroke="#20b420" stroke-width="0.8" stroke-linejoin="miter"/><path d="M149.44,140.25L151.87,138.90L151.87,141.60Z" fill="#20b420"/><path d="M151.44,141.20L156.29,138.50L156.29,143.90Z" fill="#a0e0a0" stroke="#20b420" stroke-width="0.8" stroke-linejoin="miter"/><path d="M151.44,141.20L153.87,139.85L153.87,142.55Z" fill="#20b420"/><path d="M153.44,142.21L158.29,139.51L158.29,144.91Z" fill="#a0e0a0" stroke="#20b420" stroke-width="0.8" stroke-linejoin="miter"/><path d="M153.44,142.21L155.87,140.86L155.87,143.56Z" fill="#20b420"/><path d="M155.44,143.25L160.29,140.55L160.29,145.95Z" fill="#a0e0a0" stroke="#20b420" stroke-width="0.8" stroke-linejoin="miter"/><path d="M155.44,143.25L157.87,141.90L157.87,144.60Z" fill="#20b420"/><path d="M157.44,144.31L162.29,141.61L162.29,147.01Z" fill="#a0e0a0" stroke="#20b420" stroke-width="0.8" stroke-linejoin="miter"/><path d="M157.44,144.31L159.87,142.96L159.87,145.66Z" fill="#20b420"/><path d="M159.44,145.35L164.29,142.65L164.29,148.05Z" fill="#a0e0a0" stroke="#20b420" stroke-width="0.8" stroke-linejoin="miter"/><path d="M159.44,145.35L161.87,144.00L161.87,146.70Z" fill="#20b420"/><path d="M161.44,146.36L166.29,143.66L166.29,149.06Z" fill="#a0e0a0" stroke="#20b420" stroke-width="0.8" stroke-linejoin="miter"/><path d="M161.44,146.36L163.87,145.01L163.87,147.71Z" fill="#20b420"/><path d="M163.44,147.37L168.29,144.67L168.29,150.07Z" fill="#a0e0a0" stroke="#20b420" stroke-width="0.8" stroke-linejoin="miter"/><path d="M163.44,147.37L165.87,146.02L165.87,148.72Z" fill="#20b420"/><path d="M165.44,148.40L170.29,145.70L170.29,151.10Z" fill="#a0e0a0" stroke="#20b420" stroke-width="0.8" stroke-linejoin="miter"/><path d="M165.44,148.40L167.87,147.05L167.87,149.75Z" fill="#20b420"/><path d="M167.44,149.44L172.29,146.74L172.29,152.14Z" fill="#a0e0a0" stroke="#20b420" stroke-width="0.8" stroke-linejoin="miter"/><path d="M167.44,149.44L169.87,148.09L169.87,150.79Z" fill="#20b420"/><path d="M169.44,150.50L174.29,147.80L174.29,153.20Z" fill="#a0e0a0" stroke="#20b420" stroke-width="0.8" stroke-linejoin="miter"/><path d="M169.44,150.50L171.87,149.15L171.87,151.85Z" fill="#20b420"/><path d="M171.44,151.68L176.29,148.98L176.29,154.38Z" fill="#a0e0a0" stroke="#20b420" stroke-width="0.8" stroke-linejoin="miter"/><path d="M171.44,151.68L173.87,150.33L173.87,153.03Z" fill="#20b420"/><path d="M173.44,152.94L178.29,150.24L178.29,155.64Z" fill="#a0e0a0" stroke="#20b420" stroke-width="0.8" stroke-linejoin="miter"/><path d="M173.44,152.94L175.87,151.59L175.87,154.29Z" fill="#20b420"/><path d="M175.44,154.11L180.29,151.41L180.29,156.81Z" fill="#a0e0a0" stroke="#20b420" stroke-width="0.8" stroke-linejoin="miter"/><path d="M175.44,154.11L177.87,152.76L177.87,155.46Z" fill="#20b420"/><path d="M177.44,155.00L182.29,152.30L182.29,157.70Z" fill="#a0e0a0" stroke="#20b420" stroke-width="0.8" stroke-linejoin="miter"/><path d="M177.44,155.00L179.87,153.65L179.87,156.35Z" fill="#20b420"/><path d="M179.44,155.61L184.29,152.91L184.29,158.31Z" fill="#a0e0a0" stroke="#20b420" stroke-width="0.8" stroke-linejoin="miter"/><path d="M179.44,155.61L181.87,154.26L181.87,156.96Z" fill="#20b420"/><path d="M181.44,156.11L186.29,153.41L186.29,158.81Z" fill="#a0e0a0" stroke="#20b420" stroke-width="0.8" stroke-linejoin="miter"/><path d="M181.44,156.11L183.87,154.76L183.87,157.46Z" fill="#20b420"/><path d="M183.44,156.52L188.29,153.82L188.29,159.22Z" fill="#a0e0a0" stroke="#20b420" stroke-width="0.8" stroke-linejoin="miter"/><path d="M183.44,156.52L185.87,155.17L185.87,157.87Z" fill="#20b420"/><path d="M185.44,156.90L190.29,154.20L190.29,159.60Z" fill="#a0e0a0" stroke="#20b420" stroke-width="0.8" stroke-linejoin="miter"/><path d="M185.44,156.90L187.87,155.55L187.87,158.25Z" fill="#20b420"/><path d="M187.44,157.28L192.29,154.58L192.29,159.98Z" fill="#a0e0a0" stroke="#20b420" stroke-width="0.8" stroke-linejoin="miter"/><path d="M187.44,157.28L189.87,155.93L189.87,158.63Z" fill="#20b420"/><path d="M189.44,157.70L194.29,155.00L194.29,160.40Z" fill="#a0e0a0" stroke="#20b420" stroke-width="0.8" stroke-linejoin="miter"/><path d="M189.44,157.70L191.87,156.35L191.87,159.05Z" fill="#20b420"/><path d="M191.44,158.20L196.29,155.50L196.29,160.90Z" fill="#a0e0a0" stroke="#20b420" stroke-width="0.8" stroke-linejoin="miter"/><path d="M191.44,158.20L193.87,156.85L193.87,159.55Z" fill="#20b420"/><path d="M193.44,158.84L198.29,156.14L198.29,161.54Z" fill="#a0e0a0" stroke="#20b420" stroke-width="0.8" stroke-linejoin="miter"/><path d="M193.44,158.84L195.87,157.49L195.87,160.19Z" fill="#20b420"/><path d="M195.44,159.68L200.29,156.98L200.29,162.38Z" fill="#a0e0a0" stroke="#20b420" stroke-width="0.8" stroke-linejoin="miter"/><path d="M195.44,159.68L197.87,158.33L197.87,161.03Z" fill="#20b420"/><path d="M197.44,160.63L202.29,157.93L202.29,163.33Z" fill="#a0e0a0" stroke="#20b420" stroke-width="0.8" stroke-linejoin="miter"/><path d="M197.44,160.63L199.87,159.28L199.87,161.98Z" fill="#20b420"/><path d="M199.44,161.63L204.29,158.93L204.29,164.33Z" fill="#a0e0a0" stroke="#20b420" stroke-width="0.8" stroke-linejoin="miter"/><path d="M199.44,161.63L201.87,160.28L201.87,162.98Z" fill="#20b420"/><path d="M201.44,162.57L206.29,159.87L206.29,165.27Z" fill="#a0e0a0" stroke="#20b420" stroke-width="0.8" stroke-linejoin="miter"/><path d="M201.44,162.57L203.87,161.22L203.87,163.92Z" fill="#20b420"/><path d="M203.44,163.41L208.29,160.71L208.29,166.11Z" fill="#a0e0a0" stroke="#20b420" stroke-width="0.8" stroke-linejoin="miter"/><path d="M203.44,163.41L205.87,162.06L205.87,164.76Z" fill="#20b420"/><path d="M205.44,164.23L210.29,161.53L210.29,166.93Z" fill="#a0e0a0" stroke="#20b420" stroke-width="0.8" stroke-linejoin="miter"/><path d="M205.44,164.23L207.87,162.88L207.87,165.58Z" fill="#20b420"/><path d="M207.44,165.04L212.29,162.34L212.29,167.74Z" fill="#a0e0a0" stroke="#20b420" stroke-width="0.8" stroke-linejoin="miter"/><path d="M207.44,165.04L209.87,163.69L209.87,166.39Z" fill="#20b420"/><path d="M209.44,165.83L214.29,163.13L214.29,168.53Z" fill="#a0e0a0" stroke="#20b420" stroke-width="0.8" stroke-linejoin="miter"/><path d="M209.44,165.83L211.87,164.48L211.87,167.18Z" fill="#20b420"/><path d="M211.44,166.59L216.29,163.89L216.29,169.29Z" fill="#a0e0a0" stroke="#20b420" stroke-width="0.8" stroke-linejoin="miter"/><path d="M211.44,166.59L213.87,165.24L213.87,167.94Z" fill="#20b420"/><path d="M213.44,167.30L218.29,164.60L218.29,170.00Z" fill="#a0e0a0" stroke="#20b420" stroke-width="0.8" stroke-linejoin="miter"/><path d="M213.44,167.30L215.87,165.95L215.87,168.65Z" fill="#20b420"/><path d="M215.44,167.94L220.29,165.24L220.29,170.64Z" fill="#a0e0a0" stroke="#20b420" stroke-width="0.8" stroke-linejoin="miter"/><path d="M215.44,167.94L217.87,166.59L217.87,169.29Z" fill="#20b420"/><path d="M217.44,168.50L222.29,165.80L222.29,171.20Z" fill="#a0e0a0" stroke="#20b420" stroke-width="0.8" stroke-linejoin="miter"/><path d="M217.44,168.50L219.87,167.15L219.87,169.85Z" fill="#20b420"/><path d="M219.44,168.99L224.29,166.29L224.29,171.69Z" fill="#a0e0a0" stroke="#20b420" stroke-width="0.8" stroke-linejoin="miter"/><path d="M219.44,168.99L221.87,167.64L221.87,170.34Z" fill="#20b420"/><path d="M221.44,169.44L226.29,166.74L226.29,172.14Z" fill="#a0e0a0" stroke="#20b420" stroke-width="0.8" stroke-linejoin="miter"/><path d="M221.44,169.44L223.87,168.09L223.87,170.79Z" fill="#20b420"/><path d="M223.44,169.86L228.29,167.16L228.29,172.56Z" fill="#a0e0a0" stroke="#20b420" stroke-width="0.8" stroke-linejoin="miter"/><path d="M223.44,169.86L225.87,168.51L225.87,171.21Z" fill="#20b420"/><path d="M225.44,170.24L230.29,167.54L230.29,172.94Z" fill="#a0e0a0" stroke="#20b420" stroke-width="0.8" stroke-linejoin="miter"/><path d="M225.44,170.24L227.87,168.89L227.87,171.59Z" fill="#20b420"/><path d="M227.44,170.61L232.29,167.91L232.29,173.31Z" fill="#a0e0a0" stroke="#20b420" stroke-width="0.8" stroke-linejoin="miter"/><path d="M227.44,170.61L229.87,169.26L229.87,171.96Z" fill="#20b420"/><path d="M229.44,170.97L234.29,168.27L234.29,173.67Z" fill="#a0e0a0" stroke="#20b420" stroke-width="0.8" stroke-linejoin="miter"/><path d="M229.44,170.97L231.87,169.62L231.87,172.32Z" fill="#20b420"/><path d="M231.44,171.32L236.29,168.62L236.29,174.02Z" fill="#a0e0a0" stroke="#20b420" stroke-width="0.8" stroke-linejoin="miter"/><path d="M231.44,171.32L233.87,169.97L233.87,172.67Z" fill="#20b420"/><path d="M233.44,171.68L238.29,168.98L238.29,174.38Z" fill="#a0e0a0" stroke="#20b420" stroke-width="0.8" stroke-linejoin="miter"/><path d="M233.44,171.68L235.87,170.33L235.87,173.03Z" fill="#20b420"/><path d="M235.44,172.03L240.29,169.33L240.29,174.73Z" fill="#a0e0a0" stroke="#20b420" stroke-width="0.8" stroke-linejoin="miter"/><path d="M235.44,172.03L237.87,170.68L237.87,173.38Z" fill="#20b420"/><path d="M237.44,172.38L242.29,169.68L242.29,175.08Z" fill="#a0e0a0" stroke="#20b420" stroke-width="0.8" stroke-linejoin="miter"/><path d="M237.44,172.38L239.87,171.03L239.87,173.73Z" fill="#20b420"/><path d="M239.44,172.72L244.29,170.02L244.29,175.42Z" fill="#a0e0a0" stroke="#20b420" stroke-width="0.8" stroke-linejoin="miter"/><path d="M239.44,172.72L241.87,171.37L241.87,174.07Z" fill="#20b420"/><path d="M241.44,173.05L246.29,170.35L246.29,175.75Z" fill="#a0e0a0" stroke="#20b420" stroke-width="0.8" stroke-linejoin="miter"/><path d="M241.44,173.05L243.87,171.70L243.87,174.40Z" fill="#20b420"/><path d="M243.44,173.37L248.29,170.67L248.29,176.07Z" fill="#a0e0a0" stroke="#20b420" stroke-width="0.8" stroke-linejoin="miter"/><path d="M243.44,173.37L245.87,172.02L245.87,174.72Z" fill="#20b420"/><path d="M245.44,173.68L250.29,170.98L250.29,176.38Z" fill="#a0e0a0" stroke="#20b420" stroke-width="0.8" stroke-linejoin="miter"/><path d="M245.44,173.68L247.87,172.33L247.87,175.03Z" fill="#20b420"/><path d="M247.44,173.98L252.29,171.28L252.29,176.68Z" fill="#a0e0a0" stroke="#20b420" stroke-width="0.8" stroke-linejoin="miter"/><path d="M247.44,173.98L249.87,172.63L249.87,175.33Z" fill="#20b420"/>
<rect x="36.5" y="6.25" width="235.3" height="191.75" fill="none" stroke="#3a3a3a" stroke-width="1.2"/>
<line x1="32.5" y1="187.90" x2="36.5" y2="187.90" stroke="#3a3a3a" stroke-width="1.1"/>
<line x1="269.3" y1="187.90" x2="271.8" y2="187.90" stroke="#3a3a3a" stroke-width="1.1"/>
<text transform="translate(31.30,191.90) scale(1,1.13)" text-anchor="end" style="font-family:'Liberation Serif',serif;font-weight:bold;font-size:10.2px">0.0</text>
<line x1="32.5" y1="127.36" x2="36.5" y2="127.36" stroke="#3a3a3a" stroke-width="1.1"/>
<line x1="269.3" y1="127.36" x2="271.8" y2="127.36" stroke="#3a3a3a" stroke-width="1.1"/>
<text transform="translate(31.30,131.36) scale(1,1.13)" text-anchor="end" style="font-family:'Liberation Serif',serif;font-weight:bold;font-size:10.2px">3.0k</text>
<line x1="32.5" y1="66.82" x2="36.5" y2="66.82" stroke="#3a3a3a" stroke-width="1.1"/>
<line x1="269.3" y1="66.82" x2="271.8" y2="66.82" stroke="#3a3a3a" stroke-width="1.1"/>
<text transform="translate(31.30,70.82) scale(1,1.13)" text-anchor="end" style="font-family:'Liberation Serif',serif;font-weight:bold;font-size:10.2px">6.0k</text>
<line x1="32.5" y1="6.28" x2="36.5" y2="6.28" stroke="#3a3a3a" stroke-width="1.1"/>
<line x1="269.3" y1="6.28" x2="271.8" y2="6.28" stroke="#3a3a3a" stroke-width="1.1"/>
<text transform="translate(31.30,10.28) scale(1,1.13)" text-anchor="end" style="font-family:'Liberation Serif',serif;font-weight:bold;font-size:10.2px">9.0k</text>
<line x1="34.5" y1="157.63" x2="36.5" y2="157.63" stroke="#3a3a3a" stroke-width="1.1"/>
<line x1="270.3" y1="157.63" x2="271.8" y2="157.63" stroke="#3a3a3a" stroke-width="1.1"/>
<line x1="34.5" y1="97.09" x2="36.5" y2="97.09" stroke="#3a3a3a" stroke-width="1.1"/>
<line x1="270.3" y1="97.09" x2="271.8" y2="97.09" stroke="#3a3a3a" stroke-width="1.1"/>
<line x1="34.5" y1="36.55" x2="36.5" y2="36.55" stroke="#3a3a3a" stroke-width="1.1"/>
<line x1="270.3" y1="36.55" x2="271.8" y2="36.55" stroke="#3a3a3a" stroke-width="1.1"/>
<line x1="57.50" y1="198.0" x2="57.50" y2="202.0" stroke="#3a3a3a" stroke-width="1.1"/>
<text transform="translate(57.50,213.80) scale(1,1.15)" text-anchor="middle" style="font-family:'Liberation Serif',serif;font-weight:bold;font-size:10.5px">0</text>
<line x1="100.37" y1="198.0" x2="100.37" y2="202.0" stroke="#3a3a3a" stroke-width="1.1"/>
<text transform="translate(100.37,213.80) scale(1,1.15)" text-anchor="middle" style="font-family:'Liberation Serif',serif;font-weight:bold;font-size:10.5px">100</text>
<line x1="143.23" y1="198.0" x2="143.23" y2="202.0" stroke="#3a3a3a" stroke-width="1.1"/>
<text transform="translate(143.23,213.80) scale(1,1.15)" text-anchor="middle" style="font-family:'Liberation Serif',serif;font-weight:bold;font-size:10.5px">200</text>
<line x1="186.10" y1="198.0" x2="186.10" y2="202.0" stroke="#3a3a3a" stroke-width="1.1"/>
<text transform="translate(186.10,213.80) scale(1,1.15)" text-anchor="middle" style="font-family:'Liberation Serif',serif;font-weight:bold;font-size:10.5px">300</text>
<line x1="228.96" y1="198.0" x2="228.96" y2="202.0" stroke="#3a3a3a" stroke-width="1.1"/>
<text transform="translate(228.96,213.80) scale(1,1.15)" text-anchor="middle" style="font-family:'Liberation Serif',serif;font-weight:bold;font-size:10.5px">400</text>
<line x1="271.83" y1="198.0" x2="271.83" y2="202.0" stroke="#3a3a3a" stroke-width="1.1"/>
<text transform="translate(271.83,213.80) scale(1,1.15)" text-anchor="middle" style="font-family:'Liberation Serif',serif;font-weight:bold;font-size:10.5px">500</text>
<line x1="36.07" y1="198.0" x2="36.07" y2="200.0" stroke="#3a3a3a" stroke-width="1.1"/>
<line x1="78.93" y1="198.0" x2="78.93" y2="200.0" stroke="#3a3a3a" stroke-width="1.1"/>
<line x1="121.80" y1="198.0" x2="121.80" y2="200.0" stroke="#3a3a3a" stroke-width="1.1"/>
<line x1="164.66" y1="198.0" x2="164.66" y2="200.0" stroke="#3a3a3a" stroke-width="1.1"/>
<line x1="207.53" y1="198.0" x2="207.53" y2="200.0" stroke="#3a3a3a" stroke-width="1.1"/>
<line x1="250.40" y1="198.0" x2="250.40" y2="200.0" stroke="#3a3a3a" stroke-width="1.1"/>
<text transform="translate(163.00,232.20) scale(1,1.15)" text-anchor="middle" style="font-family:'Liberation Serif',serif;font-weight:bold;font-size:11.8px">Temperature(<tspan font-size="7.5" dy="-4.5">o</tspan><tspan dy="4.5">C)</tspan></text>
<text transform="translate(270.50,25.60) scale(1,1.15)" text-anchor="end" style="font-family:'Liberation Serif',serif;font-weight:bold;font-size:16px">(a)</text>
<g transform="translate(9.2,105.8) rotate(-90)"><text transform="translate(0.00,0.00) scale(1,1.0)" style="font-family:'Liberation Serif',serif;font-style:italic;font-weight:bold;font-size:16px">&#949;<tspan font-size="9" dy="3">r</tspan></text></g>
<rect x="36" y="6.25" width="56.2" height="112.6" fill="#fff" stroke="#a0a0b8" stroke-width="1.2"/>
<line x1="39" y1="18.00" x2="57.5" y2="18.00" stroke="#000000" stroke-width="1.3"/>
<rect x="44.80" y="14.20" width="7.60" height="7.60" fill="#000000"/>
<text transform="translate(59.50,22.10) scale(1,1.2)" style="font-family:'Liberation Serif',serif;font-weight:bold;font-size:9.5px"><tspan font-style="italic">x</tspan>=0.000</text>
<line x1="39" y1="31.55" x2="57.5" y2="31.55" stroke="#ff0000" stroke-width="1.3"/>
<circle cx="48.60" cy="31.55" r="4.40" fill="#ff0000"/>
<text transform="translate(59.50,35.65) scale(1,1.2)" style="font-family:'Liberation Serif',serif;font-weight:bold;font-size:9.5px"><tspan font-style="italic">x</tspan>=0.020</text>
<line x1="39" y1="45.10" x2="57.5" y2="45.10" stroke="#66ff33" stroke-width="1.3"/>
<path d="M48.60,39.60L54.10,49.77L43.10,49.77Z" fill="#66ff33"/>
<text transform="translate(59.50,49.20) scale(1,1.2)" style="font-family:'Liberation Serif',serif;font-weight:bold;font-size:9.5px"><tspan font-style="italic">x</tspan>=0.030</text>
<line x1="39" y1="58.65" x2="57.5" y2="58.65" stroke="#1030ff" stroke-width="1.3"/>
<ellipse cx="48.60" cy="58.65" rx="4.40" ry="5.06" fill="#fff" stroke="#1030ff" stroke-width="1.1"/><path d="M44.20,58.65A4.40,5.06 0 0 1 53.00,58.65Z" fill="#1030ff"/>
<text transform="translate(59.50,62.75) scale(1,1.2)" style="font-family:'Liberation Serif',serif;font-weight:bold;font-size:9.5px"><tspan font-style="italic">x</tspan>=0.035</text>
<line x1="39" y1="72.20" x2="57.5" y2="72.20" stroke="#800000" stroke-width="1.3"/>
<path d="M48.60,67.00L53.80,76.62L43.40,76.62Z" fill="#fff" stroke="#800000" stroke-width="1.1" stroke-linejoin="miter"/><path d="M48.60,67.00L53.80,76.62L48.60,76.62L48.60,67.00Z" fill="#800000"/>
<text transform="translate(59.50,76.30) scale(1,1.2)" style="font-family:'Liberation Serif',serif;font-weight:bold;font-size:9.5px"><tspan font-style="italic">x</tspan>=0.040</text>
<line x1="39" y1="85.75" x2="57.5" y2="85.75" stroke="#b040f0" stroke-width="1.3"/>
<path d="M48.60,80.75L52.93,83.25L52.93,88.25L48.60,90.75L44.27,88.25L44.27,83.25Z" fill="#d0e4e4" stroke="#b040f0" stroke-width="1.1" stroke-linejoin="miter"/><path d="M48.60,80.75L48.60,80.75L48.60,90.75L48.60,90.75L44.27,88.25L44.27,83.25Z" fill="#b040f0"/>
<text transform="translate(59.50,89.85) scale(1,1.2)" style="font-family:'Liberation Serif',serif;font-weight:bold;font-size:9.5px"><tspan font-style="italic">x</tspan>=0.045</text>
<line x1="39" y1="99.30" x2="57.5" y2="99.30" stroke="#ff7f27" stroke-width="1.3"/>
<path d="M53.73,99.30L44.01,93.90L44.01,104.70Z" fill="#fff" stroke="#ff7f27" stroke-width="1.1" stroke-linejoin="miter"/><path d="M53.73,99.30L48.60,96.45L48.60,102.15Z" fill="#ff7f27"/>
<text transform="translate(59.50,103.40) scale(1,1.2)" style="font-family:'Liberation Serif',serif;font-weight:bold;font-size:9.5px"><tspan font-style="italic">x</tspan>=0.050</text>
<line x1="39" y1="112.85" x2="57.5" y2="112.85" stroke="#77ee55" stroke-width="1.3"/>
<path d="M43.66,112.85L53.02,107.65L53.02,118.05Z" fill="#fff" stroke="#00a000" stroke-width="1.1" stroke-linejoin="miter"/><path d="M43.66,112.85L48.34,110.25L48.34,115.45Z" fill="#00a000"/>
<text transform="translate(59.50,116.95) scale(1,1.2)" style="font-family:'Liberation Serif',serif;font-weight:bold;font-size:9.5px"><tspan font-style="italic">x</tspan>=0.060</text>
<line x1="32.5" y1="6.25" x2="271.8" y2="6.25" stroke="#3a3a3a" stroke-width="1.2"/>
<rect x="320.3" y="5.75" width="235.7" height="191.95" fill="none" stroke="#3a3a3a" stroke-width="1.2"/>
<line x1="316.3" y1="197.68" x2="320.3" y2="197.68" stroke="#3a3a3a" stroke-width="1.1"/>
<line x1="553.0" y1="197.68" x2="556.0" y2="197.68" stroke="#3a3a3a" stroke-width="1.1"/>
<text transform="translate(316.20,200.78) scale(1,1.1)" text-anchor="end" style="font-family:'Liberation Serif',serif;font-weight:bold;font-size:10px">-100</text>
<line x1="316.3" y1="159.25" x2="320.3" y2="159.25" stroke="#3a3a3a" stroke-width="1.1"/>
<line x1="553.0" y1="159.25" x2="556.0" y2="159.25" stroke="#3a3a3a" stroke-width="1.1"/>
<text transform="translate(316.20,162.35) scale(1,1.1)" text-anchor="end" style="font-family:'Liberation Serif',serif;font-weight:bold;font-size:10px">0</text>
<line x1="316.3" y1="120.82" x2="320.3" y2="120.82" stroke="#3a3a3a" stroke-width="1.1"/>
<line x1="553.0" y1="120.82" x2="556.0" y2="120.82" stroke="#3a3a3a" stroke-width="1.1"/>
<text transform="translate(316.20,123.92) scale(1,1.1)" text-anchor="end" style="font-family:'Liberation Serif',serif;font-weight:bold;font-size:10px">100</text>
<line x1="316.3" y1="82.39" x2="320.3" y2="82.39" stroke="#3a3a3a" stroke-width="1.1"/>
<line x1="553.0" y1="82.39" x2="556.0" y2="82.39" stroke="#3a3a3a" stroke-width="1.1"/>
<text transform="translate(316.20,85.49) scale(1,1.1)" text-anchor="end" style="font-family:'Liberation Serif',serif;font-weight:bold;font-size:10px">200</text>
<line x1="316.3" y1="43.96" x2="320.3" y2="43.96" stroke="#3a3a3a" stroke-width="1.1"/>
<line x1="553.0" y1="43.96" x2="556.0" y2="43.96" stroke="#3a3a3a" stroke-width="1.1"/>
<text transform="translate(316.20,47.06) scale(1,1.1)" text-anchor="end" style="font-family:'Liberation Serif',serif;font-weight:bold;font-size:10px">300</text>
<line x1="316.3" y1="5.53" x2="320.3" y2="5.53" stroke="#3a3a3a" stroke-width="1.1"/>
<line x1="553.0" y1="5.53" x2="556.0" y2="5.53" stroke="#3a3a3a" stroke-width="1.1"/>
<text transform="translate(316.20,8.63) scale(1,1.1)" text-anchor="end" style="font-family:'Liberation Serif',serif;font-weight:bold;font-size:10px">400</text>
<line x1="318.3" y1="178.47" x2="320.3" y2="178.47" stroke="#3a3a3a" stroke-width="1.1"/>
<line x1="554.0" y1="178.47" x2="556.0" y2="178.47" stroke="#3a3a3a" stroke-width="1.1"/>
<line x1="318.3" y1="140.03" x2="320.3" y2="140.03" stroke="#3a3a3a" stroke-width="1.1"/>
<line x1="554.0" y1="140.03" x2="556.0" y2="140.03" stroke="#3a3a3a" stroke-width="1.1"/>
<line x1="318.3" y1="101.61" x2="320.3" y2="101.61" stroke="#3a3a3a" stroke-width="1.1"/>
<line x1="554.0" y1="101.61" x2="556.0" y2="101.61" stroke="#3a3a3a" stroke-width="1.1"/>
<line x1="318.3" y1="63.18" x2="320.3" y2="63.18" stroke="#3a3a3a" stroke-width="1.1"/>
<line x1="554.0" y1="63.18" x2="556.0" y2="63.18" stroke="#3a3a3a" stroke-width="1.1"/>
<line x1="318.3" y1="24.75" x2="320.3" y2="24.75" stroke="#3a3a3a" stroke-width="1.1"/>
<line x1="554.0" y1="24.75" x2="556.0" y2="24.75" stroke="#3a3a3a" stroke-width="1.1"/>
<line x1="336.00" y1="197.7" x2="336.00" y2="201.7" stroke="#3a3a3a" stroke-width="1.1"/>
<text transform="translate(336.00,212.00) scale(1,1.1)" text-anchor="middle" style="font-family:'Liberation Serif',serif;font-weight:bold;font-size:10px">0.00</text>
<line x1="367.43" y1="197.7" x2="367.43" y2="201.7" stroke="#3a3a3a" stroke-width="1.1"/>
<text transform="translate(367.43,212.00) scale(1,1.1)" text-anchor="middle" style="font-family:'Liberation Serif',serif;font-weight:bold;font-size:10px">0.01</text>
<line x1="398.86" y1="197.7" x2="398.86" y2="201.7" stroke="#3a3a3a" stroke-width="1.1"/>
<text transform="translate(398.86,212.00) scale(1,1.1)" text-anchor="middle" style="font-family:'Liberation Serif',serif;font-weight:bold;font-size:10px">0.02</text>
<line x1="430.29" y1="197.7" x2="430.29" y2="201.7" stroke="#3a3a3a" stroke-width="1.1"/>
<text transform="translate(430.29,212.00) scale(1,1.1)" text-anchor="middle" style="font-family:'Liberation Serif',serif;font-weight:bold;font-size:10px">0.03</text>
<line x1="461.72" y1="197.7" x2="461.72" y2="201.7" stroke="#3a3a3a" stroke-width="1.1"/>
<text transform="translate(461.72,212.00) scale(1,1.1)" text-anchor="middle" style="font-family:'Liberation Serif',serif;font-weight:bold;font-size:10px">0.04</text>
<line x1="493.15" y1="197.7" x2="493.15" y2="201.7" stroke="#3a3a3a" stroke-width="1.1"/>
<text transform="translate(493.15,212.00) scale(1,1.1)" text-anchor="middle" style="font-family:'Liberation Serif',serif;font-weight:bold;font-size:10px">0.05</text>
<line x1="524.58" y1="197.7" x2="524.58" y2="201.7" stroke="#3a3a3a" stroke-width="1.1"/>
<text transform="translate(524.58,212.00) scale(1,1.1)" text-anchor="middle" style="font-family:'Liberation Serif',serif;font-weight:bold;font-size:10px">0.06</text>
<line x1="556.01" y1="197.7" x2="556.01" y2="201.7" stroke="#3a3a3a" stroke-width="1.1"/>
<text transform="translate(556.01,212.00) scale(1,1.1)" text-anchor="middle" style="font-family:'Liberation Serif',serif;font-weight:bold;font-size:10px">0.07</text>
<line x1="351.71" y1="197.7" x2="351.71" y2="199.7" stroke="#3a3a3a" stroke-width="1.1"/>
<line x1="383.14" y1="197.7" x2="383.14" y2="199.7" stroke="#3a3a3a" stroke-width="1.1"/>
<line x1="414.57" y1="197.7" x2="414.57" y2="199.7" stroke="#3a3a3a" stroke-width="1.1"/>
<line x1="446.00" y1="197.7" x2="446.00" y2="199.7" stroke="#3a3a3a" stroke-width="1.1"/>
<line x1="477.44" y1="197.7" x2="477.44" y2="199.7" stroke="#3a3a3a" stroke-width="1.1"/>
<line x1="508.87" y1="197.7" x2="508.87" y2="199.7" stroke="#3a3a3a" stroke-width="1.1"/>
<line x1="540.30" y1="197.7" x2="540.30" y2="199.7" stroke="#3a3a3a" stroke-width="1.1"/>
<g transform="translate(292.8,99.4) rotate(-90)"><text transform="translate(0.00,0.00) scale(1,1.0)" text-anchor="middle" style="font-family:'Liberation Serif',serif;font-weight:bold;font-size:14.2px">Temperature(<tspan font-size="8.5" dy="-5">o</tspan><tspan dy="5">C)</tspan></text></g>
<text transform="translate(431.30,237.60) scale(1,1.15)" text-anchor="middle" style="font-family:'Liberation Serif',serif;font-weight:bold;font-style:italic;font-size:14px">x</text>
<text transform="translate(555.00,23.20) scale(1,1.15)" text-anchor="end" style="font-family:'Liberation Serif',serif;font-weight:bold;font-size:16px">(b)</text>
<text transform="translate(448.00,31.50) scale(1,1.15)" style="font-family:'Liberation Serif',serif;font-size:14.6px">Cubic</text>
<text transform="translate(414.50,94.70) scale(1,1.15)" style="font-family:'Liberation Serif',serif;font-size:14.5px">Tetragonal</text>
<text transform="translate(338.50,145.50) scale(1,1.15)" style="font-family:'Liberation Serif',serif;font-size:14.4px">Orthorhombic</text>
<text transform="translate(389.00,183.00) scale(1,1.15)" style="font-family:'Liberation Serif',serif;font-size:14.4px">Rhombohedral</text>
<polyline points="336.00,26.28 337.19,26.57 338.37,26.85 339.56,27.13 340.74,27.41 341.93,27.70 343.12,27.98 344.30,28.26 345.49,28.54 346.67,28.82 347.86,29.10 349.05,29.38 350.23,29.66 351.42,29.94 352.60,30.22 353.79,30.50 354.98,30.77 356.16,31.05 357.35,31.32 358.53,31.59 359.72,31.86 360.91,32.13 362.09,32.40 363.28,32.67 364.46,32.93 365.65,33.20 366.84,33.46 368.02,33.72 369.21,33.98 370.40,34.24 371.58,34.50 372.77,34.75 373.95,35.00 375.14,35.25 376.33,35.50 377.51,35.75 378.70,35.99 379.88,36.23 381.07,36.47 382.26,36.71 383.44,36.94 384.63,37.17 385.81,37.40 387.00,37.63 388.19,37.85 389.37,38.07 390.56,38.29 391.74,38.51 392.93,38.72 394.12,38.93 395.30,39.13 396.49,39.34 397.67,39.54 398.86,39.73 400.05,39.93 401.23,40.12 402.42,40.31 403.60,40.49 404.79,40.68 405.98,40.86 407.16,41.05 408.35,41.23 409.53,41.42 410.72,41.61 411.91,41.80 413.09,42.00 414.28,42.19 415.46,42.40 416.65,42.60 417.84,42.81 419.02,43.03 420.21,43.26 421.39,43.49 422.58,43.73 423.77,43.97 424.95,44.23 426.14,44.49 427.32,44.77 428.51,45.05 429.70,45.35 430.88,45.65 432.07,45.97 433.26,46.30 434.44,46.64 435.63,46.99 436.81,47.36 438.00,47.73 439.19,48.11 440.37,48.50 441.56,48.91 442.74,49.32 443.93,49.74 445.12,50.17 446.30,50.60 447.49,51.05 448.67,51.50 449.86,51.96 451.05,52.42 452.23,52.89 453.42,53.36 454.60,53.83 455.79,54.30 456.98,54.77 458.16,55.25 459.35,55.71 460.53,56.18 461.72,56.64 462.91,57.10 464.09,57.55 465.28,58.00 466.46,58.44 467.65,58.88 468.84,59.32 470.02,59.75 471.21,60.18 472.39,60.61 473.58,61.03 474.77,61.46 475.95,61.88 477.14,62.30 478.32,62.72 479.51,63.14 480.70,63.57 481.88,63.99 483.07,64.43 484.25,64.87 485.44,65.32 486.63,65.77 487.81,66.24 489.00,66.73 490.18,67.23 491.37,67.75 492.56,68.28 493.74,68.84 494.93,69.41 496.12,70.01 497.30,70.62 498.49,71.25 499.67,71.90 500.86,72.57 502.05,73.25 503.23,73.95 504.42,74.66 505.60,75.38 506.79,76.12 507.98,76.87 509.16,77.63 510.35,78.40 511.53,79.18 512.72,79.97 513.91,80.76 515.09,81.57 516.28,82.38 517.46,83.19 518.65,84.01 519.84,84.84 521.02,85.66 522.21,86.49 523.39,87.32 524.58,88.15" fill="none" stroke="#000" stroke-width="1.3"/>
<defs><radialGradient id="sph" cx="0.45" cy="0.45" r="0.6" fx="0.35" fy="0.32"><stop offset="0" stop-color="#ffffff"/><stop offset="0.12" stop-color="#d8f8d0"/><stop offset="0.32" stop-color="#30c030"/><stop offset="0.8" stop-color="#009400"/><stop offset="1" stop-color="#007000"/></radialGradient></defs>
<clipPath id="pc336"><rect x="326.0" y="25.282200000000017" width="20" height="12"/></clipPath><path d="M336.00,19.65L341.90,24.23L339.64,31.65L332.36,31.65L330.10,24.23Z" fill="#fff" stroke="#000" stroke-width="1.8" stroke-linejoin="miter"/><path d="M336.00,19.65L341.90,24.23L339.64,31.65L332.36,31.65L330.10,24.23Z" fill="#000" clip-path="url(#pc336)"/>
<clipPath id="pc399"><rect x="388.86" y="38.73270000000001" width="20" height="12"/></clipPath><path d="M398.86,33.10L404.76,37.68L402.50,45.10L395.22,45.10L392.96,37.68Z" fill="#fff" stroke="#000" stroke-width="1.8" stroke-linejoin="miter"/><path d="M398.86,33.10L404.76,37.68L402.50,45.10L395.22,45.10L392.96,37.68Z" fill="#000" clip-path="url(#pc399)"/>
<clipPath id="pc430"><rect x="420.28999999999996" y="44.49720000000001" width="20" height="12"/></clipPath><path d="M430.29,38.86L436.19,43.45L433.93,50.86L426.65,50.86L424.39,43.45Z" fill="#fff" stroke="#000" stroke-width="1.8" stroke-linejoin="miter"/><path d="M430.29,38.86L436.19,43.45L433.93,50.86L426.65,50.86L424.39,43.45Z" fill="#000" clip-path="url(#pc430)"/>
<clipPath id="pc446"><rect x="436.005" y="49.49310000000001" width="20" height="12"/></clipPath><path d="M446.00,43.86L451.90,48.44L449.65,55.86L442.36,55.86L440.11,48.44Z" fill="#fff" stroke="#000" stroke-width="1.8" stroke-linejoin="miter"/><path d="M446.00,43.86L451.90,48.44L449.65,55.86L442.36,55.86L440.11,48.44Z" fill="#000" clip-path="url(#pc446)"/>
<clipPath id="pc462"><rect x="451.72" y="55.64190000000001" width="20" height="12"/></clipPath><path d="M461.72,50.01L467.62,54.59L465.36,62.01L458.08,62.01L455.82,54.59Z" fill="#fff" stroke="#000" stroke-width="1.8" stroke-linejoin="miter"/><path d="M461.72,50.01L467.62,54.59L465.36,62.01L458.08,62.01L455.82,54.59Z" fill="#000" clip-path="url(#pc462)"/>
<clipPath id="pc477"><rect x="467.435" y="61.406400000000005" width="20" height="12"/></clipPath><path d="M477.44,55.77L483.33,60.36L481.08,67.77L473.79,67.77L471.54,60.36Z" fill="#fff" stroke="#000" stroke-width="1.8" stroke-linejoin="miter"/><path d="M477.44,55.77L483.33,60.36L481.08,67.77L473.79,67.77L471.54,60.36Z" fill="#000" clip-path="url(#pc477)"/>
<clipPath id="pc493"><rect x="483.15" y="67.5552" width="20" height="12"/></clipPath><path d="M493.15,61.92L499.05,66.51L496.79,73.92L489.51,73.92L487.25,66.51Z" fill="#fff" stroke="#000" stroke-width="1.8" stroke-linejoin="miter"/><path d="M493.15,61.92L499.05,66.51L496.79,73.92L489.51,73.92L487.25,66.51Z" fill="#000" clip-path="url(#pc493)"/>
<clipPath id="pc525"><rect x="514.5799999999999" y="87.1545" width="20" height="12"/></clipPath><path d="M524.58,81.52L530.48,86.10L528.22,93.52L520.94,93.52L518.68,86.10Z" fill="#fff" stroke="#000" stroke-width="1.8" stroke-linejoin="miter"/><path d="M524.58,81.52L530.48,86.10L528.22,93.52L520.94,93.52L518.68,86.10Z" fill="#000" clip-path="url(#pc525)"/>
<polyline points="336.00,107.37 398.86,124.28 430.29,130.04 446.00,140.03 461.72,141.57 477.44,154.00" fill="none" stroke="#ff0000" stroke-width="1.3" stroke-dasharray="3,2.6"/>
<path d="M477.44,147.10L482.93,150.55L482.93,157.45L477.44,160.90L471.94,157.45L471.94,150.55Z" fill="#fff" stroke="#ff0000" stroke-width="1.3"/><path d="M477.44,147.10L482.93,150.55L482.93,157.45L477.44,160.90Z" fill="#ff0000"/>
<path d="M336.00,100.07L341.82,103.72L341.82,111.02L336.00,114.67L330.18,111.02L330.18,103.72Z" fill="#fff" stroke="#ff0000" stroke-width="1.3"/><path d="M336.00,100.07L341.82,103.72L341.82,111.02L336.00,114.67Z" fill="#ff0000"/>
<path d="M398.86,116.98L404.68,120.63L404.68,127.93L398.86,131.58L393.04,127.93L393.04,120.63Z" fill="#fff" stroke="#ff0000" stroke-width="1.3"/><path d="M398.86,116.98L404.68,120.63L404.68,127.93L398.86,131.58Z" fill="#ff0000"/>
<path d="M430.29,122.74L436.11,126.39L436.11,133.69L430.29,137.34L424.47,133.69L424.47,126.39Z" fill="#fff" stroke="#ff0000" stroke-width="1.3"/><path d="M430.29,122.74L436.11,126.39L436.11,133.69L430.29,137.34Z" fill="#ff0000"/>
<path d="M446.00,132.73L451.82,136.38L451.82,143.69L446.00,147.34L440.19,143.69L440.19,136.38Z" fill="#fff" stroke="#ff0000" stroke-width="1.3"/><path d="M446.00,132.73L451.82,136.38L451.82,143.69L446.00,147.34Z" fill="#ff0000"/>
<path d="M461.72,134.27L467.54,137.92L467.54,145.22L461.72,148.87L455.90,145.22L455.90,137.92Z" fill="#fff" stroke="#ff0000" stroke-width="1.3"/><path d="M461.72,134.27L467.54,137.92L467.54,145.22L461.72,148.87Z" fill="#ff0000"/>
<polyline points="336.00,155.02 398.86,155.02 430.29,156.18" fill="none" stroke="#1f3fff" stroke-width="1.3" stroke-dasharray="3,2.6"/>
<polyline points="430.29,156.18 446.00,156.18 461.72,156.18 477.44,155.50" fill="none" stroke="#1f3fff" stroke-width="1.3"/>
<ellipse cx="336.00" cy="155.02" rx="6.2" ry="6.70" fill="#fff" stroke="#1f3fff" stroke-width="1.2"/><path d="M329.80,155.02A6.2,6.70 0 0 1 342.20,155.02Z" fill="#1f3fff"/>
<ellipse cx="398.86" cy="155.02" rx="6.2" ry="6.70" fill="#fff" stroke="#1f3fff" stroke-width="1.2"/><path d="M392.66,155.02A6.2,6.70 0 0 1 405.06,155.02Z" fill="#1f3fff"/>
<ellipse cx="430.29" cy="156.18" rx="6.2" ry="6.70" fill="#fff" stroke="#1f3fff" stroke-width="1.2"/><path d="M424.09,156.18A6.2,6.70 0 0 1 436.49,156.18Z" fill="#1f3fff"/>
<ellipse cx="446.00" cy="156.18" rx="6.2" ry="6.70" fill="#fff" stroke="#1f3fff" stroke-width="1.2"/><path d="M439.81,156.18A6.2,6.70 0 0 1 452.20,156.18Z" fill="#1f3fff"/>
<ellipse cx="461.72" cy="156.18" rx="6.2" ry="6.70" fill="#fff" stroke="#1f3fff" stroke-width="1.2"/><path d="M455.52,156.18A6.2,6.70 0 0 1 467.92,156.18Z" fill="#1f3fff"/>
<ellipse cx="477.44" cy="153.60" rx="6.0" ry="7.20" fill="url(#sph)"/>
<ellipse cx="493.15" cy="158.00" rx="6.3" ry="7.24" fill="url(#sph)"/>
<rect x="514.5" y="129.8" width="41.5" height="67.9" fill="#fff" stroke="#9a9aa8" stroke-width="1.1"/>
<line x1="517.5" y1="139" x2="538" y2="139" stroke="#000" stroke-width="1.2"/>
<clipPath id="pc528"><rect x="518.3" y="138.5" width="20" height="12"/></clipPath><path d="M528.30,133.51L533.63,137.65L531.59,144.35L525.01,144.35L522.97,137.65Z" fill="#fff" stroke="#000" stroke-width="1.6" stroke-linejoin="miter"/><path d="M528.30,133.51L533.63,137.65L531.59,144.35L525.01,144.35L522.97,137.65Z" fill="#000" clip-path="url(#pc528)"/>
<line x1="517.5" y1="155.8" x2="538" y2="155.8" stroke="#ff0000" stroke-width="1.2" stroke-dasharray="2,12.5"/>
<path d="M527.50,150.20L531.96,153.00L531.96,158.60L527.50,161.40L523.04,158.60L523.04,153.00Z" fill="#fff" stroke="#ff0000" stroke-width="1.1"/><path d="M527.50,150.20L531.96,153.00L531.96,158.60L527.50,161.40Z" fill="#ff0000"/>
<line x1="517.5" y1="171.7" x2="538" y2="171.7" stroke="#1f3fff" stroke-width="1.2" stroke-dasharray="2,12.5"/>
<ellipse cx="527.50" cy="171.70" rx="5.0" ry="5.40" fill="#fff" stroke="#1f3fff" stroke-width="1.0"/><path d="M522.50,171.70A5.0,5.40 0 0 1 532.50,171.70Z" fill="#1f3fff"/>
<line x1="517.5" y1="188.3" x2="538" y2="188.3" stroke="#3050a0" stroke-width="1.1"/>
<ellipse cx="527.50" cy="188.30" rx="5.3" ry="6.36" fill="url(#sph)"/>
<text transform="translate(540.30,142.90) scale(1,1.12)" style="font-family:'Liberation Serif',serif;font-style:italic;font-size:11.2px" fill="#222">T</text>
<text transform="translate(546.30,146.60) scale(1,1.3)" style="font-family:'Liberation Serif',serif;font-size:5.3px">C</text>
<text transform="translate(540.30,159.70) scale(1,1.12)" style="font-family:'Liberation Serif',serif;font-style:italic;font-size:11.2px" fill="#222">T</text>
<text transform="translate(546.30,163.40) scale(1,1.3)" style="font-family:'Liberation Serif',serif;font-size:5.3px">O-T</text>
<text transform="translate(540.30,175.60) scale(1,1.12)" style="font-family:'Liberation Serif',serif;font-style:italic;font-size:11.2px" fill="#222">T</text>
<text transform="translate(546.30,179.30) scale(1,1.3)" style="font-family:'Liberation Serif',serif;font-size:5.3px">R-O</text>
<text transform="translate(540.30,192.20) scale(1,1.12)" style="font-family:'Liberation Serif',serif;font-style:italic;font-size:11.2px" fill="#222">T</text>
<text transform="translate(546.30,195.90) scale(1,1.3)" style="font-family:'Liberation Serif',serif;font-size:5.3px">R-T</text>
</svg></body></html>
